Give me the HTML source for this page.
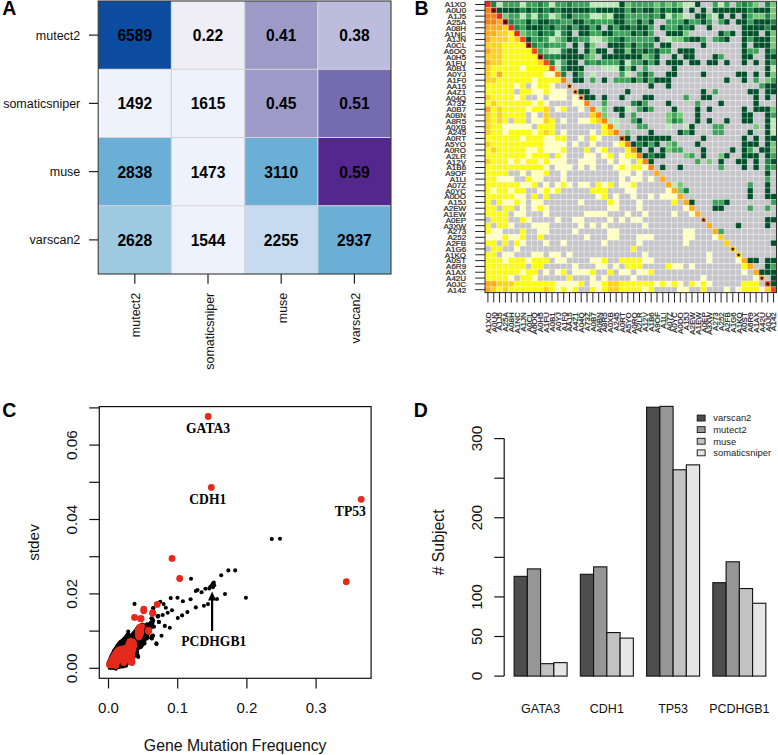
<!DOCTYPE html>
<html><head><meta charset="utf-8"><title>Figure</title>
<style>html,body{margin:0;padding:0;background:#fff;}body{width:778px;height:755px;overflow:hidden;}svg{display:block;}</style>
</head><body><svg width="778" height="755" viewBox="0 0 778 755"><rect x="98.20" y="1.00" width="73.20" height="68.25" fill="#0B4BA0"/><rect x="171.40" y="1.00" width="73.20" height="68.25" fill="#EFEDF5"/><rect x="244.60" y="1.00" width="73.20" height="68.25" fill="#9E9AC8"/><rect x="317.80" y="1.00" width="73.20" height="68.25" fill="#BCBDDC"/><rect x="98.20" y="69.25" width="73.20" height="68.25" fill="#EEF2FC"/><rect x="171.40" y="69.25" width="73.20" height="68.25" fill="#EEF2FC"/><rect x="244.60" y="69.25" width="73.20" height="68.25" fill="#9E9AC8"/><rect x="317.80" y="69.25" width="73.20" height="68.25" fill="#756BB1"/><rect x="98.20" y="137.50" width="73.20" height="68.25" fill="#6BAED6"/><rect x="171.40" y="137.50" width="73.20" height="68.25" fill="#EEF2FC"/><rect x="244.60" y="137.50" width="73.20" height="68.25" fill="#6BAED6"/><rect x="317.80" y="137.50" width="73.20" height="68.25" fill="#54278F"/><rect x="98.20" y="205.75" width="73.20" height="68.25" fill="#9ECAE1"/><rect x="171.40" y="205.75" width="73.20" height="68.25" fill="#EEF2FC"/><rect x="244.60" y="205.75" width="73.20" height="68.25" fill="#C6DBEF"/><rect x="317.80" y="205.75" width="73.20" height="68.25" fill="#6BAED6"/><line x1="171.40" y1="1.0" x2="171.40" y2="274.0" stroke="#D4D4D8" stroke-width="1.2"/><line x1="98.2" y1="69.25" x2="391.0" y2="69.25" stroke="#D4D4D8" stroke-width="1.2"/><line x1="244.60" y1="1.0" x2="244.60" y2="274.0" stroke="#D4D4D8" stroke-width="1.2"/><line x1="98.2" y1="137.50" x2="391.0" y2="137.50" stroke="#D4D4D8" stroke-width="1.2"/><line x1="317.80" y1="1.0" x2="317.80" y2="274.0" stroke="#D4D4D8" stroke-width="1.2"/><line x1="98.2" y1="205.75" x2="391.0" y2="205.75" stroke="#D4D4D8" stroke-width="1.2"/><rect x="98.2" y="1.0" width="292.80" height="273.00" fill="none" stroke="#3a3a3a" stroke-width="1.1"/><text x="134.80" y="41.23" font-family='"Liberation Sans", sans-serif' font-weight="bold" font-size="15.6" text-anchor="middle" fill="#000">6589</text><text x="208.00" y="41.23" font-family='"Liberation Sans", sans-serif' font-weight="bold" font-size="15.6" text-anchor="middle" fill="#000">0.22</text><text x="281.20" y="41.23" font-family='"Liberation Sans", sans-serif' font-weight="bold" font-size="15.6" text-anchor="middle" fill="#000">0.41</text><text x="354.40" y="41.23" font-family='"Liberation Sans", sans-serif' font-weight="bold" font-size="15.6" text-anchor="middle" fill="#000">0.38</text><text x="134.80" y="109.47" font-family='"Liberation Sans", sans-serif' font-weight="bold" font-size="15.6" text-anchor="middle" fill="#000">1492</text><text x="208.00" y="109.47" font-family='"Liberation Sans", sans-serif' font-weight="bold" font-size="15.6" text-anchor="middle" fill="#000">1615</text><text x="281.20" y="109.47" font-family='"Liberation Sans", sans-serif' font-weight="bold" font-size="15.6" text-anchor="middle" fill="#000">0.45</text><text x="354.40" y="109.47" font-family='"Liberation Sans", sans-serif' font-weight="bold" font-size="15.6" text-anchor="middle" fill="#000">0.51</text><text x="134.80" y="177.72" font-family='"Liberation Sans", sans-serif' font-weight="bold" font-size="15.6" text-anchor="middle" fill="#000">2838</text><text x="208.00" y="177.72" font-family='"Liberation Sans", sans-serif' font-weight="bold" font-size="15.6" text-anchor="middle" fill="#000">1473</text><text x="281.20" y="177.72" font-family='"Liberation Sans", sans-serif' font-weight="bold" font-size="15.6" text-anchor="middle" fill="#000">3110</text><text x="354.40" y="177.72" font-family='"Liberation Sans", sans-serif' font-weight="bold" font-size="15.6" text-anchor="middle" fill="#000">0.59</text><text x="134.80" y="245.97" font-family='"Liberation Sans", sans-serif' font-weight="bold" font-size="15.6" text-anchor="middle" fill="#000">2628</text><text x="208.00" y="245.97" font-family='"Liberation Sans", sans-serif' font-weight="bold" font-size="15.6" text-anchor="middle" fill="#000">1544</text><text x="281.20" y="245.97" font-family='"Liberation Sans", sans-serif' font-weight="bold" font-size="15.6" text-anchor="middle" fill="#000">2255</text><text x="354.40" y="245.97" font-family='"Liberation Sans", sans-serif' font-weight="bold" font-size="15.6" text-anchor="middle" fill="#000">2937</text><line x1="89" y1="35.12" x2="98.2" y2="35.12" stroke="#222" stroke-width="1.2"/><text x="80.3" y="39.62" font-family='"Liberation Sans", sans-serif' font-size="12.5" text-anchor="end" fill="#111">mutect2</text><line x1="134.80" y1="274.0" x2="134.80" y2="283.7" stroke="#222" stroke-width="1.2"/><text transform="translate(140.40,292.7) rotate(-90)" font-family='"Liberation Sans", sans-serif' font-size="12.5" text-anchor="end" fill="#111">mutect2</text><line x1="89" y1="103.38" x2="98.2" y2="103.38" stroke="#222" stroke-width="1.2"/><text x="80.3" y="107.88" font-family='"Liberation Sans", sans-serif' font-size="12.5" text-anchor="end" fill="#111">somaticsniper</text><line x1="208.00" y1="274.0" x2="208.00" y2="283.7" stroke="#222" stroke-width="1.2"/><text transform="translate(213.60,292.7) rotate(-90)" font-family='"Liberation Sans", sans-serif' font-size="12.5" text-anchor="end" fill="#111">somaticsniper</text><line x1="89" y1="171.62" x2="98.2" y2="171.62" stroke="#222" stroke-width="1.2"/><text x="80.3" y="176.12" font-family='"Liberation Sans", sans-serif' font-size="12.5" text-anchor="end" fill="#111">muse</text><line x1="281.20" y1="274.0" x2="281.20" y2="283.7" stroke="#222" stroke-width="1.2"/><text transform="translate(286.80,292.7) rotate(-90)" font-family='"Liberation Sans", sans-serif' font-size="12.5" text-anchor="end" fill="#111">muse</text><line x1="89" y1="239.88" x2="98.2" y2="239.88" stroke="#222" stroke-width="1.2"/><text x="80.3" y="244.38" font-family='"Liberation Sans", sans-serif' font-size="12.5" text-anchor="end" fill="#111">varscan2</text><line x1="354.40" y1="274.0" x2="354.40" y2="283.7" stroke="#222" stroke-width="1.2"/><text transform="translate(360.00,292.7) rotate(-90)" font-family='"Liberation Sans", sans-serif' font-size="12.5" text-anchor="end" fill="#111">varscan2</text><rect x="485.0" y="1.6" width="291.50" height="291.00" fill="#fff"/><rect x="485.00" y="1.60" width="5.85" height="5.84" fill="#E6281A"/><rect x="490.83" y="1.60" width="5.85" height="5.84" fill="#1E8443"/><rect x="496.66" y="1.60" width="5.85" height="5.84" fill="#BFE6B8"/><rect x="502.49" y="1.60" width="5.85" height="5.84" fill="#3DA35A"/><rect x="508.32" y="1.60" width="5.85" height="5.84" fill="#3DA35A"/><rect x="514.15" y="1.60" width="5.85" height="5.84" fill="#3DA35A"/><rect x="519.98" y="1.60" width="5.85" height="5.84" fill="#BFE6B8"/><rect x="525.81" y="1.60" width="5.85" height="5.84" fill="#3DA35A"/><rect x="531.64" y="1.60" width="5.85" height="5.84" fill="#3DA35A"/><rect x="537.47" y="1.60" width="5.85" height="5.84" fill="#1E8443"/><rect x="543.30" y="1.60" width="5.85" height="5.84" fill="#3DA35A"/><rect x="549.13" y="1.60" width="5.85" height="5.84" fill="#BFE6B8"/><rect x="554.96" y="1.60" width="5.85" height="5.84" fill="#3DA35A"/><rect x="560.79" y="1.60" width="5.85" height="5.84" fill="#3DA35A"/><rect x="566.62" y="1.60" width="5.85" height="5.84" fill="#1E8443"/><rect x="572.45" y="1.60" width="5.85" height="5.84" fill="#3DA35A"/><rect x="578.28" y="1.60" width="5.85" height="5.84" fill="#3DA35A"/><rect x="584.11" y="1.60" width="5.85" height="5.84" fill="#3DA35A"/><rect x="589.94" y="1.60" width="5.85" height="5.84" fill="#BFE6B8"/><rect x="595.77" y="1.60" width="5.85" height="5.84" fill="#BFE6B8"/><rect x="601.60" y="1.60" width="5.85" height="5.84" fill="#BFE6B8"/><rect x="607.43" y="1.60" width="5.85" height="5.84" fill="#BFE6B8"/><rect x="613.26" y="1.60" width="5.85" height="5.84" fill="#BFE6B8"/><rect x="619.09" y="1.60" width="5.85" height="5.84" fill="#00502A"/><rect x="624.92" y="1.60" width="5.85" height="5.84" fill="#78C679"/><rect x="630.75" y="1.60" width="5.85" height="5.84" fill="#3DA35A"/><rect x="636.58" y="1.60" width="5.85" height="5.84" fill="#3DA35A"/><rect x="642.41" y="1.60" width="5.85" height="5.84" fill="#3DA35A"/><rect x="648.24" y="1.60" width="5.85" height="5.84" fill="#3DA35A"/><rect x="654.07" y="1.60" width="5.85" height="5.84" fill="#78C679"/><rect x="659.90" y="1.60" width="5.85" height="5.84" fill="#3DA35A"/><rect x="665.73" y="1.60" width="5.85" height="5.84" fill="#78C679"/><rect x="671.56" y="1.60" width="5.85" height="5.84" fill="#3DA35A"/><rect x="677.39" y="1.60" width="5.85" height="5.84" fill="#78C679"/><rect x="683.22" y="1.60" width="5.85" height="5.84" fill="#BFE6B8"/><rect x="689.05" y="1.60" width="5.85" height="5.84" fill="#BFE6B8"/><rect x="694.88" y="1.60" width="5.85" height="5.84" fill="#00502A"/><rect x="700.71" y="1.60" width="5.85" height="5.84" fill="#C6C5C9"/><rect x="706.54" y="1.60" width="5.85" height="5.84" fill="#C6C5C9"/><rect x="712.37" y="1.60" width="5.85" height="5.84" fill="#3DA35A"/><rect x="718.20" y="1.60" width="5.85" height="5.84" fill="#BFE6B8"/><rect x="724.03" y="1.60" width="5.85" height="5.84" fill="#3DA35A"/><rect x="729.86" y="1.60" width="5.85" height="5.84" fill="#C6C5C9"/><rect x="735.69" y="1.60" width="5.85" height="5.84" fill="#3DA35A"/><rect x="741.52" y="1.60" width="5.85" height="5.84" fill="#1E8443"/><rect x="747.35" y="1.60" width="5.85" height="5.84" fill="#3DA35A"/><rect x="753.18" y="1.60" width="5.85" height="5.84" fill="#78C679"/><rect x="759.01" y="1.60" width="5.85" height="5.84" fill="#C6C5C9"/><rect x="764.84" y="1.60" width="5.85" height="5.84" fill="#1E8443"/><rect x="770.67" y="1.60" width="5.85" height="5.84" fill="#78C679"/><rect x="485.00" y="7.42" width="5.85" height="5.84" fill="#F7820F"/><rect x="490.83" y="7.42" width="5.85" height="5.84" fill="#B01A10"/><rect x="496.66" y="7.42" width="5.85" height="5.84" fill="#00502A"/><rect x="502.49" y="7.42" width="5.85" height="5.84" fill="#00502A"/><rect x="508.32" y="7.42" width="5.85" height="5.84" fill="#00502A"/><rect x="514.15" y="7.42" width="5.85" height="5.84" fill="#00502A"/><rect x="519.98" y="7.42" width="5.85" height="5.84" fill="#1E8443"/><rect x="525.81" y="7.42" width="5.85" height="5.84" fill="#00502A"/><rect x="531.64" y="7.42" width="5.85" height="5.84" fill="#1E8443"/><rect x="537.47" y="7.42" width="5.85" height="5.84" fill="#00502A"/><rect x="543.30" y="7.42" width="5.85" height="5.84" fill="#1E8443"/><rect x="549.13" y="7.42" width="5.85" height="5.84" fill="#00502A"/><rect x="554.96" y="7.42" width="5.85" height="5.84" fill="#1E8443"/><rect x="560.79" y="7.42" width="5.85" height="5.84" fill="#00502A"/><rect x="566.62" y="7.42" width="5.85" height="5.84" fill="#00502A"/><rect x="572.45" y="7.42" width="5.85" height="5.84" fill="#00502A"/><rect x="578.28" y="7.42" width="5.85" height="5.84" fill="#00502A"/><rect x="584.11" y="7.42" width="5.85" height="5.84" fill="#00502A"/><rect x="589.94" y="7.42" width="5.85" height="5.84" fill="#1E8443"/><rect x="595.77" y="7.42" width="5.85" height="5.84" fill="#00502A"/><rect x="601.60" y="7.42" width="5.85" height="5.84" fill="#00502A"/><rect x="607.43" y="7.42" width="5.85" height="5.84" fill="#00502A"/><rect x="613.26" y="7.42" width="5.85" height="5.84" fill="#00502A"/><rect x="619.09" y="7.42" width="5.85" height="5.84" fill="#00502A"/><rect x="624.92" y="7.42" width="5.85" height="5.84" fill="#3DA35A"/><rect x="630.75" y="7.42" width="5.85" height="5.84" fill="#00502A"/><rect x="636.58" y="7.42" width="5.85" height="5.84" fill="#1E8443"/><rect x="642.41" y="7.42" width="5.85" height="5.84" fill="#00502A"/><rect x="648.24" y="7.42" width="5.85" height="5.84" fill="#00502A"/><rect x="654.07" y="7.42" width="5.85" height="5.84" fill="#3DA35A"/><rect x="659.90" y="7.42" width="5.85" height="5.84" fill="#00502A"/><rect x="665.73" y="7.42" width="5.85" height="5.84" fill="#1E8443"/><rect x="671.56" y="7.42" width="5.85" height="5.84" fill="#00502A"/><rect x="677.39" y="7.42" width="5.85" height="5.84" fill="#00502A"/><rect x="683.22" y="7.42" width="5.85" height="5.84" fill="#C6C5C9"/><rect x="689.05" y="7.42" width="5.85" height="5.84" fill="#00502A"/><rect x="694.88" y="7.42" width="5.85" height="5.84" fill="#C6C5C9"/><rect x="700.71" y="7.42" width="5.85" height="5.84" fill="#00502A"/><rect x="706.54" y="7.42" width="5.85" height="5.84" fill="#C6C5C9"/><rect x="712.37" y="7.42" width="5.85" height="5.84" fill="#00502A"/><rect x="718.20" y="7.42" width="5.85" height="5.84" fill="#00502A"/><rect x="724.03" y="7.42" width="5.85" height="5.84" fill="#00502A"/><rect x="729.86" y="7.42" width="5.85" height="5.84" fill="#00502A"/><rect x="735.69" y="7.42" width="5.85" height="5.84" fill="#00502A"/><rect x="741.52" y="7.42" width="5.85" height="5.84" fill="#00502A"/><rect x="747.35" y="7.42" width="5.85" height="5.84" fill="#1E8443"/><rect x="753.18" y="7.42" width="5.85" height="5.84" fill="#00502A"/><rect x="759.01" y="7.42" width="5.85" height="5.84" fill="#00502A"/><rect x="764.84" y="7.42" width="5.85" height="5.84" fill="#00502A"/><rect x="770.67" y="7.42" width="5.85" height="5.84" fill="#78C679"/><rect x="485.00" y="13.24" width="5.85" height="5.84" fill="#F7820F"/><rect x="490.83" y="13.24" width="5.85" height="5.84" fill="#F7820F"/><rect x="496.66" y="13.24" width="5.85" height="5.84" fill="#E6281A"/><rect x="502.49" y="13.24" width="5.85" height="5.84" fill="#78C679"/><rect x="508.32" y="13.24" width="5.85" height="5.84" fill="#3DA35A"/><rect x="514.15" y="13.24" width="5.85" height="5.84" fill="#3DA35A"/><rect x="519.98" y="13.24" width="5.85" height="5.84" fill="#BFE6B8"/><rect x="525.81" y="13.24" width="5.85" height="5.84" fill="#3DA35A"/><rect x="531.64" y="13.24" width="5.85" height="5.84" fill="#BFE6B8"/><rect x="537.47" y="13.24" width="5.85" height="5.84" fill="#1E8443"/><rect x="543.30" y="13.24" width="5.85" height="5.84" fill="#3DA35A"/><rect x="549.13" y="13.24" width="5.85" height="5.84" fill="#BFE6B8"/><rect x="554.96" y="13.24" width="5.85" height="5.84" fill="#78C679"/><rect x="560.79" y="13.24" width="5.85" height="5.84" fill="#1E8443"/><rect x="566.62" y="13.24" width="5.85" height="5.84" fill="#00502A"/><rect x="572.45" y="13.24" width="5.85" height="5.84" fill="#3DA35A"/><rect x="578.28" y="13.24" width="5.85" height="5.84" fill="#3DA35A"/><rect x="584.11" y="13.24" width="5.85" height="5.84" fill="#3DA35A"/><rect x="589.94" y="13.24" width="5.85" height="5.84" fill="#BFE6B8"/><rect x="595.77" y="13.24" width="5.85" height="5.84" fill="#BFE6B8"/><rect x="601.60" y="13.24" width="5.85" height="5.84" fill="#78C679"/><rect x="607.43" y="13.24" width="5.85" height="5.84" fill="#BFE6B8"/><rect x="613.26" y="13.24" width="5.85" height="5.84" fill="#00502A"/><rect x="619.09" y="13.24" width="5.85" height="5.84" fill="#00502A"/><rect x="624.92" y="13.24" width="5.85" height="5.84" fill="#3DA35A"/><rect x="630.75" y="13.24" width="5.85" height="5.84" fill="#3DA35A"/><rect x="636.58" y="13.24" width="5.85" height="5.84" fill="#3DA35A"/><rect x="642.41" y="13.24" width="5.85" height="5.84" fill="#3DA35A"/><rect x="648.24" y="13.24" width="5.85" height="5.84" fill="#1E8443"/><rect x="654.07" y="13.24" width="5.85" height="5.84" fill="#3DA35A"/><rect x="659.90" y="13.24" width="5.85" height="5.84" fill="#00502A"/><rect x="665.73" y="13.24" width="5.85" height="5.84" fill="#BFE6B8"/><rect x="671.56" y="13.24" width="5.85" height="5.84" fill="#3DA35A"/><rect x="677.39" y="13.24" width="5.85" height="5.84" fill="#78C679"/><rect x="683.22" y="13.24" width="5.85" height="5.84" fill="#BFE6B8"/><rect x="689.05" y="13.24" width="5.85" height="5.84" fill="#C6C5C9"/><rect x="694.88" y="13.24" width="5.85" height="5.84" fill="#00502A"/><rect x="700.71" y="13.24" width="5.85" height="5.84" fill="#00502A"/><rect x="706.54" y="13.24" width="5.85" height="5.84" fill="#78C679"/><rect x="712.37" y="13.24" width="5.85" height="5.84" fill="#BFE6B8"/><rect x="718.20" y="13.24" width="5.85" height="5.84" fill="#00502A"/><rect x="724.03" y="13.24" width="5.85" height="5.84" fill="#C6C5C9"/><rect x="729.86" y="13.24" width="5.85" height="5.84" fill="#00502A"/><rect x="735.69" y="13.24" width="5.85" height="5.84" fill="#C6C5C9"/><rect x="741.52" y="13.24" width="5.85" height="5.84" fill="#00502A"/><rect x="747.35" y="13.24" width="5.85" height="5.84" fill="#3DA35A"/><rect x="753.18" y="13.24" width="5.85" height="5.84" fill="#78C679"/><rect x="759.01" y="13.24" width="5.85" height="5.84" fill="#78C679"/><rect x="764.84" y="13.24" width="5.85" height="5.84" fill="#1E8443"/><rect x="770.67" y="13.24" width="5.85" height="5.84" fill="#78C679"/><rect x="485.00" y="19.06" width="5.85" height="5.84" fill="#F7820F"/><rect x="490.83" y="19.06" width="5.85" height="5.84" fill="#F7820F"/><rect x="496.66" y="19.06" width="5.85" height="5.84" fill="#FDAA1C"/><rect x="502.49" y="19.06" width="5.85" height="5.84" fill="#B01A10"/><rect x="508.32" y="19.06" width="5.85" height="5.84" fill="#1E8443"/><rect x="514.15" y="19.06" width="5.85" height="5.84" fill="#3DA35A"/><rect x="519.98" y="19.06" width="5.85" height="5.84" fill="#3DA35A"/><rect x="525.81" y="19.06" width="5.85" height="5.84" fill="#00502A"/><rect x="531.64" y="19.06" width="5.85" height="5.84" fill="#3DA35A"/><rect x="537.47" y="19.06" width="5.85" height="5.84" fill="#00502A"/><rect x="543.30" y="19.06" width="5.85" height="5.84" fill="#00502A"/><rect x="549.13" y="19.06" width="5.85" height="5.84" fill="#1E8443"/><rect x="554.96" y="19.06" width="5.85" height="5.84" fill="#1E8443"/><rect x="560.79" y="19.06" width="5.85" height="5.84" fill="#3DA35A"/><rect x="566.62" y="19.06" width="5.85" height="5.84" fill="#3DA35A"/><rect x="572.45" y="19.06" width="5.85" height="5.84" fill="#00502A"/><rect x="578.28" y="19.06" width="5.85" height="5.84" fill="#00502A"/><rect x="584.11" y="19.06" width="5.85" height="5.84" fill="#3DA35A"/><rect x="589.94" y="19.06" width="5.85" height="5.84" fill="#1E8443"/><rect x="595.77" y="19.06" width="5.85" height="5.84" fill="#3DA35A"/><rect x="601.60" y="19.06" width="5.85" height="5.84" fill="#3DA35A"/><rect x="607.43" y="19.06" width="5.85" height="5.84" fill="#3DA35A"/><rect x="613.26" y="19.06" width="5.85" height="5.84" fill="#00502A"/><rect x="619.09" y="19.06" width="5.85" height="5.84" fill="#00502A"/><rect x="624.92" y="19.06" width="5.85" height="5.84" fill="#3DA35A"/><rect x="630.75" y="19.06" width="5.85" height="5.84" fill="#3DA35A"/><rect x="636.58" y="19.06" width="5.85" height="5.84" fill="#00502A"/><rect x="642.41" y="19.06" width="5.85" height="5.84" fill="#3DA35A"/><rect x="648.24" y="19.06" width="5.85" height="5.84" fill="#00502A"/><rect x="654.07" y="19.06" width="5.85" height="5.84" fill="#C6C5C9"/><rect x="659.90" y="19.06" width="5.85" height="5.84" fill="#C6C5C9"/><rect x="665.73" y="19.06" width="5.85" height="5.84" fill="#3DA35A"/><rect x="671.56" y="19.06" width="5.85" height="5.84" fill="#3DA35A"/><rect x="677.39" y="19.06" width="5.85" height="5.84" fill="#3DA35A"/><rect x="683.22" y="19.06" width="5.85" height="5.84" fill="#00502A"/><rect x="689.05" y="19.06" width="5.85" height="5.84" fill="#3DA35A"/><rect x="694.88" y="19.06" width="5.85" height="5.84" fill="#3DA35A"/><rect x="700.71" y="19.06" width="5.85" height="5.84" fill="#00502A"/><rect x="706.54" y="19.06" width="5.85" height="5.84" fill="#3DA35A"/><rect x="712.37" y="19.06" width="5.85" height="5.84" fill="#C6C5C9"/><rect x="718.20" y="19.06" width="5.85" height="5.84" fill="#3DA35A"/><rect x="724.03" y="19.06" width="5.85" height="5.84" fill="#00502A"/><rect x="729.86" y="19.06" width="5.85" height="5.84" fill="#C6C5C9"/><rect x="735.69" y="19.06" width="5.85" height="5.84" fill="#00502A"/><rect x="741.52" y="19.06" width="5.85" height="5.84" fill="#00502A"/><rect x="747.35" y="19.06" width="5.85" height="5.84" fill="#3DA35A"/><rect x="753.18" y="19.06" width="5.85" height="5.84" fill="#00502A"/><rect x="759.01" y="19.06" width="5.85" height="5.84" fill="#00502A"/><rect x="764.84" y="19.06" width="5.85" height="5.84" fill="#00502A"/><rect x="770.67" y="19.06" width="5.85" height="5.84" fill="#1E8443"/><rect x="485.00" y="24.88" width="5.85" height="5.84" fill="#FDAA1C"/><rect x="490.83" y="24.88" width="5.85" height="5.84" fill="#FDAA1C"/><rect x="496.66" y="24.88" width="5.85" height="5.84" fill="#FDAA1C"/><rect x="502.49" y="24.88" width="5.85" height="5.84" fill="#FFD21A"/><rect x="508.32" y="24.88" width="5.85" height="5.84" fill="#E6281A"/><rect x="514.15" y="24.88" width="5.85" height="5.84" fill="#1E8443"/><rect x="519.98" y="24.88" width="5.85" height="5.84" fill="#3DA35A"/><rect x="525.81" y="24.88" width="5.85" height="5.84" fill="#00502A"/><rect x="531.64" y="24.88" width="5.85" height="5.84" fill="#00502A"/><rect x="537.47" y="24.88" width="5.85" height="5.84" fill="#00502A"/><rect x="543.30" y="24.88" width="5.85" height="5.84" fill="#1E8443"/><rect x="549.13" y="24.88" width="5.85" height="5.84" fill="#00502A"/><rect x="554.96" y="24.88" width="5.85" height="5.84" fill="#3DA35A"/><rect x="560.79" y="24.88" width="5.85" height="5.84" fill="#1E8443"/><rect x="566.62" y="24.88" width="5.85" height="5.84" fill="#00502A"/><rect x="572.45" y="24.88" width="5.85" height="5.84" fill="#3DA35A"/><rect x="578.28" y="24.88" width="5.85" height="5.84" fill="#00502A"/><rect x="584.11" y="24.88" width="5.85" height="5.84" fill="#00502A"/><rect x="589.94" y="24.88" width="5.85" height="5.84" fill="#3DA35A"/><rect x="595.77" y="24.88" width="5.85" height="5.84" fill="#00502A"/><rect x="601.60" y="24.88" width="5.85" height="5.84" fill="#C6C5C9"/><rect x="607.43" y="24.88" width="5.85" height="5.84" fill="#00502A"/><rect x="613.26" y="24.88" width="5.85" height="5.84" fill="#3DA35A"/><rect x="619.09" y="24.88" width="5.85" height="5.84" fill="#00502A"/><rect x="624.92" y="24.88" width="5.85" height="5.84" fill="#00502A"/><rect x="630.75" y="24.88" width="5.85" height="5.84" fill="#1E8443"/><rect x="636.58" y="24.88" width="5.85" height="5.84" fill="#00502A"/><rect x="642.41" y="24.88" width="5.85" height="5.84" fill="#00502A"/><rect x="648.24" y="24.88" width="5.85" height="5.84" fill="#3DA35A"/><rect x="654.07" y="24.88" width="5.85" height="5.84" fill="#C6C5C9"/><rect x="659.90" y="24.88" width="5.85" height="5.84" fill="#00502A"/><rect x="665.73" y="24.88" width="5.85" height="5.84" fill="#3DA35A"/><rect x="671.56" y="24.88" width="5.85" height="5.84" fill="#3DA35A"/><rect x="677.39" y="24.88" width="5.85" height="5.84" fill="#00502A"/><rect x="683.22" y="24.88" width="5.85" height="5.84" fill="#1E8443"/><rect x="689.05" y="24.88" width="5.85" height="5.84" fill="#00502A"/><rect x="694.88" y="24.88" width="5.85" height="5.84" fill="#C6C5C9"/><rect x="700.71" y="24.88" width="5.85" height="5.84" fill="#C6C5C9"/><rect x="706.54" y="24.88" width="5.85" height="5.84" fill="#00502A"/><rect x="712.37" y="24.88" width="5.85" height="5.84" fill="#C6C5C9"/><rect x="718.20" y="24.88" width="5.85" height="5.84" fill="#C6C5C9"/><rect x="724.03" y="24.88" width="5.85" height="5.84" fill="#C6C5C9"/><rect x="729.86" y="24.88" width="5.85" height="5.84" fill="#C6C5C9"/><rect x="735.69" y="24.88" width="5.85" height="5.84" fill="#C6C5C9"/><rect x="741.52" y="24.88" width="5.85" height="5.84" fill="#00502A"/><rect x="747.35" y="24.88" width="5.85" height="5.84" fill="#00502A"/><rect x="753.18" y="24.88" width="5.85" height="5.84" fill="#00502A"/><rect x="759.01" y="24.88" width="5.85" height="5.84" fill="#00502A"/><rect x="764.84" y="24.88" width="5.85" height="5.84" fill="#1E8443"/><rect x="770.67" y="24.88" width="5.85" height="5.84" fill="#00502A"/><rect x="485.00" y="30.70" width="5.85" height="5.84" fill="#FDAA1C"/><rect x="490.83" y="30.70" width="5.85" height="5.84" fill="#FDAA1C"/><rect x="496.66" y="30.70" width="5.85" height="5.84" fill="#FFD21A"/><rect x="502.49" y="30.70" width="5.85" height="5.84" fill="#FFD21A"/><rect x="508.32" y="30.70" width="5.85" height="5.84" fill="#FAFA12"/><rect x="514.15" y="30.70" width="5.85" height="5.84" fill="#E6281A"/><rect x="519.98" y="30.70" width="5.85" height="5.84" fill="#78C679"/><rect x="525.81" y="30.70" width="5.85" height="5.84" fill="#3DA35A"/><rect x="531.64" y="30.70" width="5.85" height="5.84" fill="#3DA35A"/><rect x="537.47" y="30.70" width="5.85" height="5.84" fill="#00502A"/><rect x="543.30" y="30.70" width="5.85" height="5.84" fill="#1E8443"/><rect x="549.13" y="30.70" width="5.85" height="5.84" fill="#1E8443"/><rect x="554.96" y="30.70" width="5.85" height="5.84" fill="#BFE6B8"/><rect x="560.79" y="30.70" width="5.85" height="5.84" fill="#1E8443"/><rect x="566.62" y="30.70" width="5.85" height="5.84" fill="#00502A"/><rect x="572.45" y="30.70" width="5.85" height="5.84" fill="#C6C5C9"/><rect x="578.28" y="30.70" width="5.85" height="5.84" fill="#00502A"/><rect x="584.11" y="30.70" width="5.85" height="5.84" fill="#00502A"/><rect x="589.94" y="30.70" width="5.85" height="5.84" fill="#3DA35A"/><rect x="595.77" y="30.70" width="5.85" height="5.84" fill="#3DA35A"/><rect x="601.60" y="30.70" width="5.85" height="5.84" fill="#00502A"/><rect x="607.43" y="30.70" width="5.85" height="5.84" fill="#00502A"/><rect x="613.26" y="30.70" width="5.85" height="5.84" fill="#3DA35A"/><rect x="619.09" y="30.70" width="5.85" height="5.84" fill="#3DA35A"/><rect x="624.92" y="30.70" width="5.85" height="5.84" fill="#3DA35A"/><rect x="630.75" y="30.70" width="5.85" height="5.84" fill="#00502A"/><rect x="636.58" y="30.70" width="5.85" height="5.84" fill="#1E8443"/><rect x="642.41" y="30.70" width="5.85" height="5.84" fill="#00502A"/><rect x="648.24" y="30.70" width="5.85" height="5.84" fill="#3DA35A"/><rect x="654.07" y="30.70" width="5.85" height="5.84" fill="#C6C5C9"/><rect x="659.90" y="30.70" width="5.85" height="5.84" fill="#C6C5C9"/><rect x="665.73" y="30.70" width="5.85" height="5.84" fill="#00502A"/><rect x="671.56" y="30.70" width="5.85" height="5.84" fill="#00502A"/><rect x="677.39" y="30.70" width="5.85" height="5.84" fill="#00502A"/><rect x="683.22" y="30.70" width="5.85" height="5.84" fill="#78C679"/><rect x="689.05" y="30.70" width="5.85" height="5.84" fill="#C6C5C9"/><rect x="694.88" y="30.70" width="5.85" height="5.84" fill="#C6C5C9"/><rect x="700.71" y="30.70" width="5.85" height="5.84" fill="#C6C5C9"/><rect x="706.54" y="30.70" width="5.85" height="5.84" fill="#C6C5C9"/><rect x="712.37" y="30.70" width="5.85" height="5.84" fill="#C6C5C9"/><rect x="718.20" y="30.70" width="5.85" height="5.84" fill="#00502A"/><rect x="724.03" y="30.70" width="5.85" height="5.84" fill="#3DA35A"/><rect x="729.86" y="30.70" width="5.85" height="5.84" fill="#00502A"/><rect x="735.69" y="30.70" width="5.85" height="5.84" fill="#C6C5C9"/><rect x="741.52" y="30.70" width="5.85" height="5.84" fill="#00502A"/><rect x="747.35" y="30.70" width="5.85" height="5.84" fill="#00502A"/><rect x="753.18" y="30.70" width="5.85" height="5.84" fill="#00502A"/><rect x="759.01" y="30.70" width="5.85" height="5.84" fill="#C6C5C9"/><rect x="764.84" y="30.70" width="5.85" height="5.84" fill="#00502A"/><rect x="770.67" y="30.70" width="5.85" height="5.84" fill="#78C679"/><rect x="485.00" y="36.52" width="5.85" height="5.84" fill="#FDAA1C"/><rect x="490.83" y="36.52" width="5.85" height="5.84" fill="#FFD21A"/><rect x="496.66" y="36.52" width="5.85" height="5.84" fill="#FFD21A"/><rect x="502.49" y="36.52" width="5.85" height="5.84" fill="#FFD21A"/><rect x="508.32" y="36.52" width="5.85" height="5.84" fill="#FAFA12"/><rect x="514.15" y="36.52" width="5.85" height="5.84" fill="#FFD21A"/><rect x="519.98" y="36.52" width="5.85" height="5.84" fill="#F04A14"/><rect x="525.81" y="36.52" width="5.85" height="5.84" fill="#00502A"/><rect x="531.64" y="36.52" width="5.85" height="5.84" fill="#3DA35A"/><rect x="537.47" y="36.52" width="5.85" height="5.84" fill="#1E8443"/><rect x="543.30" y="36.52" width="5.85" height="5.84" fill="#3DA35A"/><rect x="549.13" y="36.52" width="5.85" height="5.84" fill="#BFE6B8"/><rect x="554.96" y="36.52" width="5.85" height="5.84" fill="#78C679"/><rect x="560.79" y="36.52" width="5.85" height="5.84" fill="#3DA35A"/><rect x="566.62" y="36.52" width="5.85" height="5.84" fill="#00502A"/><rect x="572.45" y="36.52" width="5.85" height="5.84" fill="#1E8443"/><rect x="578.28" y="36.52" width="5.85" height="5.84" fill="#3DA35A"/><rect x="584.11" y="36.52" width="5.85" height="5.84" fill="#3DA35A"/><rect x="589.94" y="36.52" width="5.85" height="5.84" fill="#BFE6B8"/><rect x="595.77" y="36.52" width="5.85" height="5.84" fill="#BFE6B8"/><rect x="601.60" y="36.52" width="5.85" height="5.84" fill="#78C679"/><rect x="607.43" y="36.52" width="5.85" height="5.84" fill="#3DA35A"/><rect x="613.26" y="36.52" width="5.85" height="5.84" fill="#1E8443"/><rect x="619.09" y="36.52" width="5.85" height="5.84" fill="#00502A"/><rect x="624.92" y="36.52" width="5.85" height="5.84" fill="#3DA35A"/><rect x="630.75" y="36.52" width="5.85" height="5.84" fill="#3DA35A"/><rect x="636.58" y="36.52" width="5.85" height="5.84" fill="#3DA35A"/><rect x="642.41" y="36.52" width="5.85" height="5.84" fill="#3DA35A"/><rect x="648.24" y="36.52" width="5.85" height="5.84" fill="#3DA35A"/><rect x="654.07" y="36.52" width="5.85" height="5.84" fill="#00502A"/><rect x="659.90" y="36.52" width="5.85" height="5.84" fill="#C6C5C9"/><rect x="665.73" y="36.52" width="5.85" height="5.84" fill="#BFE6B8"/><rect x="671.56" y="36.52" width="5.85" height="5.84" fill="#78C679"/><rect x="677.39" y="36.52" width="5.85" height="5.84" fill="#78C679"/><rect x="683.22" y="36.52" width="5.85" height="5.84" fill="#1E8443"/><rect x="689.05" y="36.52" width="5.85" height="5.84" fill="#00502A"/><rect x="694.88" y="36.52" width="5.85" height="5.84" fill="#00502A"/><rect x="700.71" y="36.52" width="5.85" height="5.84" fill="#3DA35A"/><rect x="706.54" y="36.52" width="5.85" height="5.84" fill="#C6C5C9"/><rect x="712.37" y="36.52" width="5.85" height="5.84" fill="#3DA35A"/><rect x="718.20" y="36.52" width="5.85" height="5.84" fill="#1E8443"/><rect x="724.03" y="36.52" width="5.85" height="5.84" fill="#00502A"/><rect x="729.86" y="36.52" width="5.85" height="5.84" fill="#C6C5C9"/><rect x="735.69" y="36.52" width="5.85" height="5.84" fill="#C6C5C9"/><rect x="741.52" y="36.52" width="5.85" height="5.84" fill="#00502A"/><rect x="747.35" y="36.52" width="5.85" height="5.84" fill="#3DA35A"/><rect x="753.18" y="36.52" width="5.85" height="5.84" fill="#00502A"/><rect x="759.01" y="36.52" width="5.85" height="5.84" fill="#00502A"/><rect x="764.84" y="36.52" width="5.85" height="5.84" fill="#00502A"/><rect x="770.67" y="36.52" width="5.85" height="5.84" fill="#78C679"/><rect x="485.00" y="42.34" width="5.85" height="5.84" fill="#FFD21A"/><rect x="490.83" y="42.34" width="5.85" height="5.84" fill="#FFD21A"/><rect x="496.66" y="42.34" width="5.85" height="5.84" fill="#FFD21A"/><rect x="502.49" y="42.34" width="5.85" height="5.84" fill="#FAFA12"/><rect x="508.32" y="42.34" width="5.85" height="5.84" fill="#FAFA12"/><rect x="514.15" y="42.34" width="5.85" height="5.84" fill="#FAFA12"/><rect x="519.98" y="42.34" width="5.85" height="5.84" fill="#FAFA12"/><rect x="525.81" y="42.34" width="5.85" height="5.84" fill="#B01A10"/><rect x="531.64" y="42.34" width="5.85" height="5.84" fill="#1E8443"/><rect x="537.47" y="42.34" width="5.85" height="5.84" fill="#3DA35A"/><rect x="543.30" y="42.34" width="5.85" height="5.84" fill="#1E8443"/><rect x="549.13" y="42.34" width="5.85" height="5.84" fill="#3DA35A"/><rect x="554.96" y="42.34" width="5.85" height="5.84" fill="#3DA35A"/><rect x="560.79" y="42.34" width="5.85" height="5.84" fill="#3DA35A"/><rect x="566.62" y="42.34" width="5.85" height="5.84" fill="#C6C5C9"/><rect x="572.45" y="42.34" width="5.85" height="5.84" fill="#00502A"/><rect x="578.28" y="42.34" width="5.85" height="5.84" fill="#C6C5C9"/><rect x="584.11" y="42.34" width="5.85" height="5.84" fill="#00502A"/><rect x="589.94" y="42.34" width="5.85" height="5.84" fill="#78C679"/><rect x="595.77" y="42.34" width="5.85" height="5.84" fill="#C6C5C9"/><rect x="601.60" y="42.34" width="5.85" height="5.84" fill="#C6C5C9"/><rect x="607.43" y="42.34" width="5.85" height="5.84" fill="#00502A"/><rect x="613.26" y="42.34" width="5.85" height="5.84" fill="#00502A"/><rect x="619.09" y="42.34" width="5.85" height="5.84" fill="#00502A"/><rect x="624.92" y="42.34" width="5.85" height="5.84" fill="#3DA35A"/><rect x="630.75" y="42.34" width="5.85" height="5.84" fill="#00502A"/><rect x="636.58" y="42.34" width="5.85" height="5.84" fill="#3DA35A"/><rect x="642.41" y="42.34" width="5.85" height="5.84" fill="#1E8443"/><rect x="648.24" y="42.34" width="5.85" height="5.84" fill="#1E8443"/><rect x="654.07" y="42.34" width="5.85" height="5.84" fill="#C6C5C9"/><rect x="659.90" y="42.34" width="5.85" height="5.84" fill="#00502A"/><rect x="665.73" y="42.34" width="5.85" height="5.84" fill="#00502A"/><rect x="671.56" y="42.34" width="5.85" height="5.84" fill="#C6C5C9"/><rect x="677.39" y="42.34" width="5.85" height="5.84" fill="#C6C5C9"/><rect x="683.22" y="42.34" width="5.85" height="5.84" fill="#C6C5C9"/><rect x="689.05" y="42.34" width="5.85" height="5.84" fill="#C6C5C9"/><rect x="694.88" y="42.34" width="5.85" height="5.84" fill="#C6C5C9"/><rect x="700.71" y="42.34" width="5.85" height="5.84" fill="#00502A"/><rect x="706.54" y="42.34" width="5.85" height="5.84" fill="#C6C5C9"/><rect x="712.37" y="42.34" width="5.85" height="5.84" fill="#C6C5C9"/><rect x="718.20" y="42.34" width="5.85" height="5.84" fill="#C6C5C9"/><rect x="724.03" y="42.34" width="5.85" height="5.84" fill="#C6C5C9"/><rect x="729.86" y="42.34" width="5.85" height="5.84" fill="#C6C5C9"/><rect x="735.69" y="42.34" width="5.85" height="5.84" fill="#C6C5C9"/><rect x="741.52" y="42.34" width="5.85" height="5.84" fill="#00502A"/><rect x="747.35" y="42.34" width="5.85" height="5.84" fill="#C6C5C9"/><rect x="753.18" y="42.34" width="5.85" height="5.84" fill="#00502A"/><rect x="759.01" y="42.34" width="5.85" height="5.84" fill="#00502A"/><rect x="764.84" y="42.34" width="5.85" height="5.84" fill="#00502A"/><rect x="770.67" y="42.34" width="5.85" height="5.84" fill="#78C679"/><rect x="485.00" y="48.16" width="5.85" height="5.84" fill="#FDAA1C"/><rect x="490.83" y="48.16" width="5.85" height="5.84" fill="#FFD21A"/><rect x="496.66" y="48.16" width="5.85" height="5.84" fill="#FFD21A"/><rect x="502.49" y="48.16" width="5.85" height="5.84" fill="#FAFA12"/><rect x="508.32" y="48.16" width="5.85" height="5.84" fill="#FAFA12"/><rect x="514.15" y="48.16" width="5.85" height="5.84" fill="#FAFA12"/><rect x="519.98" y="48.16" width="5.85" height="5.84" fill="#FAFA12"/><rect x="525.81" y="48.16" width="5.85" height="5.84" fill="#FAFA12"/><rect x="531.64" y="48.16" width="5.85" height="5.84" fill="#F04A14"/><rect x="537.47" y="48.16" width="5.85" height="5.84" fill="#3DA35A"/><rect x="543.30" y="48.16" width="5.85" height="5.84" fill="#78C679"/><rect x="549.13" y="48.16" width="5.85" height="5.84" fill="#BFE6B8"/><rect x="554.96" y="48.16" width="5.85" height="5.84" fill="#BFE6B8"/><rect x="560.79" y="48.16" width="5.85" height="5.84" fill="#1E8443"/><rect x="566.62" y="48.16" width="5.85" height="5.84" fill="#00502A"/><rect x="572.45" y="48.16" width="5.85" height="5.84" fill="#00502A"/><rect x="578.28" y="48.16" width="5.85" height="5.84" fill="#C6C5C9"/><rect x="584.11" y="48.16" width="5.85" height="5.84" fill="#00502A"/><rect x="589.94" y="48.16" width="5.85" height="5.84" fill="#78C679"/><rect x="595.77" y="48.16" width="5.85" height="5.84" fill="#00502A"/><rect x="601.60" y="48.16" width="5.85" height="5.84" fill="#00502A"/><rect x="607.43" y="48.16" width="5.85" height="5.84" fill="#C6C5C9"/><rect x="613.26" y="48.16" width="5.85" height="5.84" fill="#00502A"/><rect x="619.09" y="48.16" width="5.85" height="5.84" fill="#00502A"/><rect x="624.92" y="48.16" width="5.85" height="5.84" fill="#78C679"/><rect x="630.75" y="48.16" width="5.85" height="5.84" fill="#00502A"/><rect x="636.58" y="48.16" width="5.85" height="5.84" fill="#1E8443"/><rect x="642.41" y="48.16" width="5.85" height="5.84" fill="#00502A"/><rect x="648.24" y="48.16" width="5.85" height="5.84" fill="#1E8443"/><rect x="654.07" y="48.16" width="5.85" height="5.84" fill="#00502A"/><rect x="659.90" y="48.16" width="5.85" height="5.84" fill="#3DA35A"/><rect x="665.73" y="48.16" width="5.85" height="5.84" fill="#3DA35A"/><rect x="671.56" y="48.16" width="5.85" height="5.84" fill="#C6C5C9"/><rect x="677.39" y="48.16" width="5.85" height="5.84" fill="#00502A"/><rect x="683.22" y="48.16" width="5.85" height="5.84" fill="#00502A"/><rect x="689.05" y="48.16" width="5.85" height="5.84" fill="#00502A"/><rect x="694.88" y="48.16" width="5.85" height="5.84" fill="#C6C5C9"/><rect x="700.71" y="48.16" width="5.85" height="5.84" fill="#C6C5C9"/><rect x="706.54" y="48.16" width="5.85" height="5.84" fill="#C6C5C9"/><rect x="712.37" y="48.16" width="5.85" height="5.84" fill="#C6C5C9"/><rect x="718.20" y="48.16" width="5.85" height="5.84" fill="#C6C5C9"/><rect x="724.03" y="48.16" width="5.85" height="5.84" fill="#C6C5C9"/><rect x="729.86" y="48.16" width="5.85" height="5.84" fill="#C6C5C9"/><rect x="735.69" y="48.16" width="5.85" height="5.84" fill="#C6C5C9"/><rect x="741.52" y="48.16" width="5.85" height="5.84" fill="#00502A"/><rect x="747.35" y="48.16" width="5.85" height="5.84" fill="#3DA35A"/><rect x="753.18" y="48.16" width="5.85" height="5.84" fill="#3DA35A"/><rect x="759.01" y="48.16" width="5.85" height="5.84" fill="#C6C5C9"/><rect x="764.84" y="48.16" width="5.85" height="5.84" fill="#00502A"/><rect x="770.67" y="48.16" width="5.85" height="5.84" fill="#3DA35A"/><rect x="485.00" y="53.98" width="5.85" height="5.84" fill="#FFD21A"/><rect x="490.83" y="53.98" width="5.85" height="5.84" fill="#FFD21A"/><rect x="496.66" y="53.98" width="5.85" height="5.84" fill="#FFD21A"/><rect x="502.49" y="53.98" width="5.85" height="5.84" fill="#FAFA12"/><rect x="508.32" y="53.98" width="5.85" height="5.84" fill="#FAFA12"/><rect x="514.15" y="53.98" width="5.85" height="5.84" fill="#FAFA12"/><rect x="519.98" y="53.98" width="5.85" height="5.84" fill="#FAFA12"/><rect x="525.81" y="53.98" width="5.85" height="5.84" fill="#FAFA12"/><rect x="531.64" y="53.98" width="5.85" height="5.84" fill="#FAFA12"/><rect x="537.47" y="53.98" width="5.85" height="5.84" fill="#B01A10"/><rect x="543.30" y="53.98" width="5.85" height="5.84" fill="#1E8443"/><rect x="549.13" y="53.98" width="5.85" height="5.84" fill="#1E8443"/><rect x="554.96" y="53.98" width="5.85" height="5.84" fill="#1E8443"/><rect x="560.79" y="53.98" width="5.85" height="5.84" fill="#00502A"/><rect x="566.62" y="53.98" width="5.85" height="5.84" fill="#00502A"/><rect x="572.45" y="53.98" width="5.85" height="5.84" fill="#00502A"/><rect x="578.28" y="53.98" width="5.85" height="5.84" fill="#00502A"/><rect x="584.11" y="53.98" width="5.85" height="5.84" fill="#3DA35A"/><rect x="589.94" y="53.98" width="5.85" height="5.84" fill="#78C679"/><rect x="595.77" y="53.98" width="5.85" height="5.84" fill="#C6C5C9"/><rect x="601.60" y="53.98" width="5.85" height="5.84" fill="#00502A"/><rect x="607.43" y="53.98" width="5.85" height="5.84" fill="#00502A"/><rect x="613.26" y="53.98" width="5.85" height="5.84" fill="#00502A"/><rect x="619.09" y="53.98" width="5.85" height="5.84" fill="#00502A"/><rect x="624.92" y="53.98" width="5.85" height="5.84" fill="#00502A"/><rect x="630.75" y="53.98" width="5.85" height="5.84" fill="#00502A"/><rect x="636.58" y="53.98" width="5.85" height="5.84" fill="#00502A"/><rect x="642.41" y="53.98" width="5.85" height="5.84" fill="#78C679"/><rect x="648.24" y="53.98" width="5.85" height="5.84" fill="#3DA35A"/><rect x="654.07" y="53.98" width="5.85" height="5.84" fill="#00502A"/><rect x="659.90" y="53.98" width="5.85" height="5.84" fill="#C6C5C9"/><rect x="665.73" y="53.98" width="5.85" height="5.84" fill="#C6C5C9"/><rect x="671.56" y="53.98" width="5.85" height="5.84" fill="#00502A"/><rect x="677.39" y="53.98" width="5.85" height="5.84" fill="#C6C5C9"/><rect x="683.22" y="53.98" width="5.85" height="5.84" fill="#00502A"/><rect x="689.05" y="53.98" width="5.85" height="5.84" fill="#00502A"/><rect x="694.88" y="53.98" width="5.85" height="5.84" fill="#C6C5C9"/><rect x="700.71" y="53.98" width="5.85" height="5.84" fill="#C6C5C9"/><rect x="706.54" y="53.98" width="5.85" height="5.84" fill="#C6C5C9"/><rect x="712.37" y="53.98" width="5.85" height="5.84" fill="#00502A"/><rect x="718.20" y="53.98" width="5.85" height="5.84" fill="#3DA35A"/><rect x="724.03" y="53.98" width="5.85" height="5.84" fill="#C6C5C9"/><rect x="729.86" y="53.98" width="5.85" height="5.84" fill="#C6C5C9"/><rect x="735.69" y="53.98" width="5.85" height="5.84" fill="#C6C5C9"/><rect x="741.52" y="53.98" width="5.85" height="5.84" fill="#00502A"/><rect x="747.35" y="53.98" width="5.85" height="5.84" fill="#00502A"/><rect x="753.18" y="53.98" width="5.85" height="5.84" fill="#C6C5C9"/><rect x="759.01" y="53.98" width="5.85" height="5.84" fill="#C6C5C9"/><rect x="764.84" y="53.98" width="5.85" height="5.84" fill="#00502A"/><rect x="770.67" y="53.98" width="5.85" height="5.84" fill="#00502A"/><rect x="485.00" y="59.80" width="5.85" height="5.84" fill="#FDAA1C"/><rect x="490.83" y="59.80" width="5.85" height="5.84" fill="#FFD21A"/><rect x="496.66" y="59.80" width="5.85" height="5.84" fill="#FFD21A"/><rect x="502.49" y="59.80" width="5.85" height="5.84" fill="#FAFA12"/><rect x="508.32" y="59.80" width="5.85" height="5.84" fill="#FAFA12"/><rect x="514.15" y="59.80" width="5.85" height="5.84" fill="#FAFA12"/><rect x="519.98" y="59.80" width="5.85" height="5.84" fill="#FAFA12"/><rect x="525.81" y="59.80" width="5.85" height="5.84" fill="#FAFA12"/><rect x="531.64" y="59.80" width="5.85" height="5.84" fill="#FAFA12"/><rect x="537.47" y="59.80" width="5.85" height="5.84" fill="#FFD21A"/><rect x="543.30" y="59.80" width="5.85" height="5.84" fill="#F04A14"/><rect x="549.13" y="59.80" width="5.85" height="5.84" fill="#1E8443"/><rect x="554.96" y="59.80" width="5.85" height="5.84" fill="#BFE6B8"/><rect x="560.79" y="59.80" width="5.85" height="5.84" fill="#3DA35A"/><rect x="566.62" y="59.80" width="5.85" height="5.84" fill="#00502A"/><rect x="572.45" y="59.80" width="5.85" height="5.84" fill="#00502A"/><rect x="578.28" y="59.80" width="5.85" height="5.84" fill="#C6C5C9"/><rect x="584.11" y="59.80" width="5.85" height="5.84" fill="#1E8443"/><rect x="589.94" y="59.80" width="5.85" height="5.84" fill="#3DA35A"/><rect x="595.77" y="59.80" width="5.85" height="5.84" fill="#1E8443"/><rect x="601.60" y="59.80" width="5.85" height="5.84" fill="#3DA35A"/><rect x="607.43" y="59.80" width="5.85" height="5.84" fill="#3DA35A"/><rect x="613.26" y="59.80" width="5.85" height="5.84" fill="#3DA35A"/><rect x="619.09" y="59.80" width="5.85" height="5.84" fill="#00502A"/><rect x="624.92" y="59.80" width="5.85" height="5.84" fill="#BFE6B8"/><rect x="630.75" y="59.80" width="5.85" height="5.84" fill="#3DA35A"/><rect x="636.58" y="59.80" width="5.85" height="5.84" fill="#3DA35A"/><rect x="642.41" y="59.80" width="5.85" height="5.84" fill="#00502A"/><rect x="648.24" y="59.80" width="5.85" height="5.84" fill="#3DA35A"/><rect x="654.07" y="59.80" width="5.85" height="5.84" fill="#00502A"/><rect x="659.90" y="59.80" width="5.85" height="5.84" fill="#C6C5C9"/><rect x="665.73" y="59.80" width="5.85" height="5.84" fill="#00502A"/><rect x="671.56" y="59.80" width="5.85" height="5.84" fill="#00502A"/><rect x="677.39" y="59.80" width="5.85" height="5.84" fill="#00502A"/><rect x="683.22" y="59.80" width="5.85" height="5.84" fill="#C6C5C9"/><rect x="689.05" y="59.80" width="5.85" height="5.84" fill="#00502A"/><rect x="694.88" y="59.80" width="5.85" height="5.84" fill="#00502A"/><rect x="700.71" y="59.80" width="5.85" height="5.84" fill="#C6C5C9"/><rect x="706.54" y="59.80" width="5.85" height="5.84" fill="#00502A"/><rect x="712.37" y="59.80" width="5.85" height="5.84" fill="#00502A"/><rect x="718.20" y="59.80" width="5.85" height="5.84" fill="#C6C5C9"/><rect x="724.03" y="59.80" width="5.85" height="5.84" fill="#00502A"/><rect x="729.86" y="59.80" width="5.85" height="5.84" fill="#C6C5C9"/><rect x="735.69" y="59.80" width="5.85" height="5.84" fill="#C6C5C9"/><rect x="741.52" y="59.80" width="5.85" height="5.84" fill="#00502A"/><rect x="747.35" y="59.80" width="5.85" height="5.84" fill="#C6C5C9"/><rect x="753.18" y="59.80" width="5.85" height="5.84" fill="#00502A"/><rect x="759.01" y="59.80" width="5.85" height="5.84" fill="#C6C5C9"/><rect x="764.84" y="59.80" width="5.85" height="5.84" fill="#00502A"/><rect x="770.67" y="59.80" width="5.85" height="5.84" fill="#3DA35A"/><rect x="485.00" y="65.62" width="5.85" height="5.84" fill="#FFD21A"/><rect x="490.83" y="65.62" width="5.85" height="5.84" fill="#FAFA12"/><rect x="496.66" y="65.62" width="5.85" height="5.84" fill="#FAFA12"/><rect x="502.49" y="65.62" width="5.85" height="5.84" fill="#FAFA12"/><rect x="508.32" y="65.62" width="5.85" height="5.84" fill="#FAFA12"/><rect x="514.15" y="65.62" width="5.85" height="5.84" fill="#FAFA12"/><rect x="519.98" y="65.62" width="5.85" height="5.84" fill="#FFFFC0"/><rect x="525.81" y="65.62" width="5.85" height="5.84" fill="#FAFA12"/><rect x="531.64" y="65.62" width="5.85" height="5.84" fill="#FAFA12"/><rect x="537.47" y="65.62" width="5.85" height="5.84" fill="#FAFA12"/><rect x="543.30" y="65.62" width="5.85" height="5.84" fill="#FAFA12"/><rect x="549.13" y="65.62" width="5.85" height="5.84" fill="#F04A14"/><rect x="554.96" y="65.62" width="5.85" height="5.84" fill="#BFE6B8"/><rect x="560.79" y="65.62" width="5.85" height="5.84" fill="#1E8443"/><rect x="566.62" y="65.62" width="5.85" height="5.84" fill="#00502A"/><rect x="572.45" y="65.62" width="5.85" height="5.84" fill="#00502A"/><rect x="578.28" y="65.62" width="5.85" height="5.84" fill="#00502A"/><rect x="584.11" y="65.62" width="5.85" height="5.84" fill="#C6C5C9"/><rect x="589.94" y="65.62" width="5.85" height="5.84" fill="#C6C5C9"/><rect x="595.77" y="65.62" width="5.85" height="5.84" fill="#C6C5C9"/><rect x="601.60" y="65.62" width="5.85" height="5.84" fill="#BFE6B8"/><rect x="607.43" y="65.62" width="5.85" height="5.84" fill="#BFE6B8"/><rect x="613.26" y="65.62" width="5.85" height="5.84" fill="#BFE6B8"/><rect x="619.09" y="65.62" width="5.85" height="5.84" fill="#00502A"/><rect x="624.92" y="65.62" width="5.85" height="5.84" fill="#78C679"/><rect x="630.75" y="65.62" width="5.85" height="5.84" fill="#00502A"/><rect x="636.58" y="65.62" width="5.85" height="5.84" fill="#C6C5C9"/><rect x="642.41" y="65.62" width="5.85" height="5.84" fill="#3DA35A"/><rect x="648.24" y="65.62" width="5.85" height="5.84" fill="#C6C5C9"/><rect x="654.07" y="65.62" width="5.85" height="5.84" fill="#C6C5C9"/><rect x="659.90" y="65.62" width="5.85" height="5.84" fill="#C6C5C9"/><rect x="665.73" y="65.62" width="5.85" height="5.84" fill="#C6C5C9"/><rect x="671.56" y="65.62" width="5.85" height="5.84" fill="#00502A"/><rect x="677.39" y="65.62" width="5.85" height="5.84" fill="#C6C5C9"/><rect x="683.22" y="65.62" width="5.85" height="5.84" fill="#C6C5C9"/><rect x="689.05" y="65.62" width="5.85" height="5.84" fill="#C6C5C9"/><rect x="694.88" y="65.62" width="5.85" height="5.84" fill="#C6C5C9"/><rect x="700.71" y="65.62" width="5.85" height="5.84" fill="#C6C5C9"/><rect x="706.54" y="65.62" width="5.85" height="5.84" fill="#C6C5C9"/><rect x="712.37" y="65.62" width="5.85" height="5.84" fill="#C6C5C9"/><rect x="718.20" y="65.62" width="5.85" height="5.84" fill="#C6C5C9"/><rect x="724.03" y="65.62" width="5.85" height="5.84" fill="#C6C5C9"/><rect x="729.86" y="65.62" width="5.85" height="5.84" fill="#C6C5C9"/><rect x="735.69" y="65.62" width="5.85" height="5.84" fill="#C6C5C9"/><rect x="741.52" y="65.62" width="5.85" height="5.84" fill="#C6C5C9"/><rect x="747.35" y="65.62" width="5.85" height="5.84" fill="#C6C5C9"/><rect x="753.18" y="65.62" width="5.85" height="5.84" fill="#C6C5C9"/><rect x="759.01" y="65.62" width="5.85" height="5.84" fill="#C6C5C9"/><rect x="764.84" y="65.62" width="5.85" height="5.84" fill="#00502A"/><rect x="770.67" y="65.62" width="5.85" height="5.84" fill="#BFE6B8"/><rect x="485.00" y="71.44" width="5.85" height="5.84" fill="#FFD21A"/><rect x="490.83" y="71.44" width="5.85" height="5.84" fill="#FAFA12"/><rect x="496.66" y="71.44" width="5.85" height="5.84" fill="#FDAA1C"/><rect x="502.49" y="71.44" width="5.85" height="5.84" fill="#FAFA12"/><rect x="508.32" y="71.44" width="5.85" height="5.84" fill="#FAFA12"/><rect x="514.15" y="71.44" width="5.85" height="5.84" fill="#FAFA12"/><rect x="519.98" y="71.44" width="5.85" height="5.84" fill="#FAFA12"/><rect x="525.81" y="71.44" width="5.85" height="5.84" fill="#FAFA12"/><rect x="531.64" y="71.44" width="5.85" height="5.84" fill="#FAFA12"/><rect x="537.47" y="71.44" width="5.85" height="5.84" fill="#FAFA12"/><rect x="543.30" y="71.44" width="5.85" height="5.84" fill="#FFFFC0"/><rect x="549.13" y="71.44" width="5.85" height="5.84" fill="#FFFFC0"/><rect x="554.96" y="71.44" width="5.85" height="5.84" fill="#F7820F"/><rect x="560.79" y="71.44" width="5.85" height="5.84" fill="#1E8443"/><rect x="566.62" y="71.44" width="5.85" height="5.84" fill="#C6C5C9"/><rect x="572.45" y="71.44" width="5.85" height="5.84" fill="#00502A"/><rect x="578.28" y="71.44" width="5.85" height="5.84" fill="#3DA35A"/><rect x="584.11" y="71.44" width="5.85" height="5.84" fill="#C6C5C9"/><rect x="589.94" y="71.44" width="5.85" height="5.84" fill="#BFE6B8"/><rect x="595.77" y="71.44" width="5.85" height="5.84" fill="#C6C5C9"/><rect x="601.60" y="71.44" width="5.85" height="5.84" fill="#C6C5C9"/><rect x="607.43" y="71.44" width="5.85" height="5.84" fill="#C6C5C9"/><rect x="613.26" y="71.44" width="5.85" height="5.84" fill="#C6C5C9"/><rect x="619.09" y="71.44" width="5.85" height="5.84" fill="#3DA35A"/><rect x="624.92" y="71.44" width="5.85" height="5.84" fill="#BFE6B8"/><rect x="630.75" y="71.44" width="5.85" height="5.84" fill="#C6C5C9"/><rect x="636.58" y="71.44" width="5.85" height="5.84" fill="#3DA35A"/><rect x="642.41" y="71.44" width="5.85" height="5.84" fill="#00502A"/><rect x="648.24" y="71.44" width="5.85" height="5.84" fill="#3DA35A"/><rect x="654.07" y="71.44" width="5.85" height="5.84" fill="#C6C5C9"/><rect x="659.90" y="71.44" width="5.85" height="5.84" fill="#C6C5C9"/><rect x="665.73" y="71.44" width="5.85" height="5.84" fill="#00502A"/><rect x="671.56" y="71.44" width="5.85" height="5.84" fill="#00502A"/><rect x="677.39" y="71.44" width="5.85" height="5.84" fill="#C6C5C9"/><rect x="683.22" y="71.44" width="5.85" height="5.84" fill="#C6C5C9"/><rect x="689.05" y="71.44" width="5.85" height="5.84" fill="#C6C5C9"/><rect x="694.88" y="71.44" width="5.85" height="5.84" fill="#C6C5C9"/><rect x="700.71" y="71.44" width="5.85" height="5.84" fill="#00502A"/><rect x="706.54" y="71.44" width="5.85" height="5.84" fill="#C6C5C9"/><rect x="712.37" y="71.44" width="5.85" height="5.84" fill="#C6C5C9"/><rect x="718.20" y="71.44" width="5.85" height="5.84" fill="#C6C5C9"/><rect x="724.03" y="71.44" width="5.85" height="5.84" fill="#C6C5C9"/><rect x="729.86" y="71.44" width="5.85" height="5.84" fill="#C6C5C9"/><rect x="735.69" y="71.44" width="5.85" height="5.84" fill="#00502A"/><rect x="741.52" y="71.44" width="5.85" height="5.84" fill="#00502A"/><rect x="747.35" y="71.44" width="5.85" height="5.84" fill="#C6C5C9"/><rect x="753.18" y="71.44" width="5.85" height="5.84" fill="#00502A"/><rect x="759.01" y="71.44" width="5.85" height="5.84" fill="#C6C5C9"/><rect x="764.84" y="71.44" width="5.85" height="5.84" fill="#00502A"/><rect x="770.67" y="71.44" width="5.85" height="5.84" fill="#78C679"/><rect x="485.00" y="77.26" width="5.85" height="5.84" fill="#FFD21A"/><rect x="490.83" y="77.26" width="5.85" height="5.84" fill="#FFD21A"/><rect x="496.66" y="77.26" width="5.85" height="5.84" fill="#FAFA12"/><rect x="502.49" y="77.26" width="5.85" height="5.84" fill="#FAFA12"/><rect x="508.32" y="77.26" width="5.85" height="5.84" fill="#FAFA12"/><rect x="514.15" y="77.26" width="5.85" height="5.84" fill="#FAFA12"/><rect x="519.98" y="77.26" width="5.85" height="5.84" fill="#FAFA12"/><rect x="525.81" y="77.26" width="5.85" height="5.84" fill="#FAFA12"/><rect x="531.64" y="77.26" width="5.85" height="5.84" fill="#FFFFC0"/><rect x="537.47" y="77.26" width="5.85" height="5.84" fill="#FAFA12"/><rect x="543.30" y="77.26" width="5.85" height="5.84" fill="#FAFA12"/><rect x="549.13" y="77.26" width="5.85" height="5.84" fill="#FAFA12"/><rect x="554.96" y="77.26" width="5.85" height="5.84" fill="#FAFA12"/><rect x="560.79" y="77.26" width="5.85" height="5.84" fill="#F7820F"/><rect x="566.62" y="77.26" width="5.85" height="5.84" fill="#C6C5C9"/><rect x="572.45" y="77.26" width="5.85" height="5.84" fill="#00502A"/><rect x="578.28" y="77.26" width="5.85" height="5.84" fill="#00502A"/><rect x="584.11" y="77.26" width="5.85" height="5.84" fill="#C6C5C9"/><rect x="589.94" y="77.26" width="5.85" height="5.84" fill="#3DA35A"/><rect x="595.77" y="77.26" width="5.85" height="5.84" fill="#C6C5C9"/><rect x="601.60" y="77.26" width="5.85" height="5.84" fill="#00502A"/><rect x="607.43" y="77.26" width="5.85" height="5.84" fill="#C6C5C9"/><rect x="613.26" y="77.26" width="5.85" height="5.84" fill="#3DA35A"/><rect x="619.09" y="77.26" width="5.85" height="5.84" fill="#3DA35A"/><rect x="624.92" y="77.26" width="5.85" height="5.84" fill="#3DA35A"/><rect x="630.75" y="77.26" width="5.85" height="5.84" fill="#00502A"/><rect x="636.58" y="77.26" width="5.85" height="5.84" fill="#3DA35A"/><rect x="642.41" y="77.26" width="5.85" height="5.84" fill="#00502A"/><rect x="648.24" y="77.26" width="5.85" height="5.84" fill="#3DA35A"/><rect x="654.07" y="77.26" width="5.85" height="5.84" fill="#00502A"/><rect x="659.90" y="77.26" width="5.85" height="5.84" fill="#00502A"/><rect x="665.73" y="77.26" width="5.85" height="5.84" fill="#00502A"/><rect x="671.56" y="77.26" width="5.85" height="5.84" fill="#C6C5C9"/><rect x="677.39" y="77.26" width="5.85" height="5.84" fill="#C6C5C9"/><rect x="683.22" y="77.26" width="5.85" height="5.84" fill="#C6C5C9"/><rect x="689.05" y="77.26" width="5.85" height="5.84" fill="#C6C5C9"/><rect x="694.88" y="77.26" width="5.85" height="5.84" fill="#C6C5C9"/><rect x="700.71" y="77.26" width="5.85" height="5.84" fill="#C6C5C9"/><rect x="706.54" y="77.26" width="5.85" height="5.84" fill="#C6C5C9"/><rect x="712.37" y="77.26" width="5.85" height="5.84" fill="#C6C5C9"/><rect x="718.20" y="77.26" width="5.85" height="5.84" fill="#C6C5C9"/><rect x="724.03" y="77.26" width="5.85" height="5.84" fill="#00502A"/><rect x="729.86" y="77.26" width="5.85" height="5.84" fill="#C6C5C9"/><rect x="735.69" y="77.26" width="5.85" height="5.84" fill="#C6C5C9"/><rect x="741.52" y="77.26" width="5.85" height="5.84" fill="#00502A"/><rect x="747.35" y="77.26" width="5.85" height="5.84" fill="#C6C5C9"/><rect x="753.18" y="77.26" width="5.85" height="5.84" fill="#3DA35A"/><rect x="759.01" y="77.26" width="5.85" height="5.84" fill="#C6C5C9"/><rect x="764.84" y="77.26" width="5.85" height="5.84" fill="#78C679"/><rect x="770.67" y="77.26" width="5.85" height="5.84" fill="#3DA35A"/><rect x="485.00" y="83.08" width="5.85" height="5.84" fill="#FAFA12"/><rect x="490.83" y="83.08" width="5.85" height="5.84" fill="#FAFA12"/><rect x="496.66" y="83.08" width="5.85" height="5.84" fill="#FAFA12"/><rect x="502.49" y="83.08" width="5.85" height="5.84" fill="#FAFA12"/><rect x="508.32" y="83.08" width="5.85" height="5.84" fill="#FAFA12"/><rect x="514.15" y="83.08" width="5.85" height="5.84" fill="#FFFFC0"/><rect x="519.98" y="83.08" width="5.85" height="5.84" fill="#FAFA12"/><rect x="525.81" y="83.08" width="5.85" height="5.84" fill="#C6C5C9"/><rect x="531.64" y="83.08" width="5.85" height="5.84" fill="#FFFFC0"/><rect x="537.47" y="83.08" width="5.85" height="5.84" fill="#FAFA12"/><rect x="543.30" y="83.08" width="5.85" height="5.84" fill="#FAFA12"/><rect x="549.13" y="83.08" width="5.85" height="5.84" fill="#FFFFC0"/><rect x="554.96" y="83.08" width="5.85" height="5.84" fill="#C6C5C9"/><rect x="560.79" y="83.08" width="5.85" height="5.84" fill="#C6C5C9"/><rect x="566.62" y="83.08" width="5.85" height="5.84" fill="#F6A24A"/><rect x="572.45" y="83.08" width="5.85" height="5.84" fill="#C6C5C9"/><rect x="578.28" y="83.08" width="5.85" height="5.84" fill="#C6C5C9"/><rect x="584.11" y="83.08" width="5.85" height="5.84" fill="#C6C5C9"/><rect x="589.94" y="83.08" width="5.85" height="5.84" fill="#C6C5C9"/><rect x="595.77" y="83.08" width="5.85" height="5.84" fill="#C6C5C9"/><rect x="601.60" y="83.08" width="5.85" height="5.84" fill="#C6C5C9"/><rect x="607.43" y="83.08" width="5.85" height="5.84" fill="#C6C5C9"/><rect x="613.26" y="83.08" width="5.85" height="5.84" fill="#C6C5C9"/><rect x="619.09" y="83.08" width="5.85" height="5.84" fill="#C6C5C9"/><rect x="624.92" y="83.08" width="5.85" height="5.84" fill="#C6C5C9"/><rect x="630.75" y="83.08" width="5.85" height="5.84" fill="#C6C5C9"/><rect x="636.58" y="83.08" width="5.85" height="5.84" fill="#C6C5C9"/><rect x="642.41" y="83.08" width="5.85" height="5.84" fill="#C6C5C9"/><rect x="648.24" y="83.08" width="5.85" height="5.84" fill="#00502A"/><rect x="654.07" y="83.08" width="5.85" height="5.84" fill="#C6C5C9"/><rect x="659.90" y="83.08" width="5.85" height="5.84" fill="#C6C5C9"/><rect x="665.73" y="83.08" width="5.85" height="5.84" fill="#00502A"/><rect x="671.56" y="83.08" width="5.85" height="5.84" fill="#C6C5C9"/><rect x="677.39" y="83.08" width="5.85" height="5.84" fill="#C6C5C9"/><rect x="683.22" y="83.08" width="5.85" height="5.84" fill="#C6C5C9"/><rect x="689.05" y="83.08" width="5.85" height="5.84" fill="#C6C5C9"/><rect x="694.88" y="83.08" width="5.85" height="5.84" fill="#C6C5C9"/><rect x="700.71" y="83.08" width="5.85" height="5.84" fill="#C6C5C9"/><rect x="706.54" y="83.08" width="5.85" height="5.84" fill="#C6C5C9"/><rect x="712.37" y="83.08" width="5.85" height="5.84" fill="#C6C5C9"/><rect x="718.20" y="83.08" width="5.85" height="5.84" fill="#C6C5C9"/><rect x="724.03" y="83.08" width="5.85" height="5.84" fill="#C6C5C9"/><rect x="729.86" y="83.08" width="5.85" height="5.84" fill="#C6C5C9"/><rect x="735.69" y="83.08" width="5.85" height="5.84" fill="#C6C5C9"/><rect x="741.52" y="83.08" width="5.85" height="5.84" fill="#C6C5C9"/><rect x="747.35" y="83.08" width="5.85" height="5.84" fill="#C6C5C9"/><rect x="753.18" y="83.08" width="5.85" height="5.84" fill="#C6C5C9"/><rect x="759.01" y="83.08" width="5.85" height="5.84" fill="#3DA35A"/><rect x="764.84" y="83.08" width="5.85" height="5.84" fill="#00502A"/><rect x="770.67" y="83.08" width="5.85" height="5.84" fill="#00502A"/><rect x="485.00" y="88.90" width="5.85" height="5.84" fill="#FAFA12"/><rect x="490.83" y="88.90" width="5.85" height="5.84" fill="#FAFA12"/><rect x="496.66" y="88.90" width="5.85" height="5.84" fill="#FAFA12"/><rect x="502.49" y="88.90" width="5.85" height="5.84" fill="#FAFA12"/><rect x="508.32" y="88.90" width="5.85" height="5.84" fill="#FAFA12"/><rect x="514.15" y="88.90" width="5.85" height="5.84" fill="#C6C5C9"/><rect x="519.98" y="88.90" width="5.85" height="5.84" fill="#FAFA12"/><rect x="525.81" y="88.90" width="5.85" height="5.84" fill="#FAFA12"/><rect x="531.64" y="88.90" width="5.85" height="5.84" fill="#FFFFC0"/><rect x="537.47" y="88.90" width="5.85" height="5.84" fill="#FFFFC0"/><rect x="543.30" y="88.90" width="5.85" height="5.84" fill="#FAFA12"/><rect x="549.13" y="88.90" width="5.85" height="5.84" fill="#FFFFC0"/><rect x="554.96" y="88.90" width="5.85" height="5.84" fill="#FFFFC0"/><rect x="560.79" y="88.90" width="5.85" height="5.84" fill="#FFFFC0"/><rect x="566.62" y="88.90" width="5.85" height="5.84" fill="#C6C5C9"/><rect x="572.45" y="88.90" width="5.85" height="5.84" fill="#F6A24A"/><rect x="578.28" y="88.90" width="5.85" height="5.84" fill="#00502A"/><rect x="584.11" y="88.90" width="5.85" height="5.84" fill="#00502A"/><rect x="589.94" y="88.90" width="5.85" height="5.84" fill="#C6C5C9"/><rect x="595.77" y="88.90" width="5.85" height="5.84" fill="#C6C5C9"/><rect x="601.60" y="88.90" width="5.85" height="5.84" fill="#C6C5C9"/><rect x="607.43" y="88.90" width="5.85" height="5.84" fill="#C6C5C9"/><rect x="613.26" y="88.90" width="5.85" height="5.84" fill="#C6C5C9"/><rect x="619.09" y="88.90" width="5.85" height="5.84" fill="#C6C5C9"/><rect x="624.92" y="88.90" width="5.85" height="5.84" fill="#00502A"/><rect x="630.75" y="88.90" width="5.85" height="5.84" fill="#C6C5C9"/><rect x="636.58" y="88.90" width="5.85" height="5.84" fill="#C6C5C9"/><rect x="642.41" y="88.90" width="5.85" height="5.84" fill="#C6C5C9"/><rect x="648.24" y="88.90" width="5.85" height="5.84" fill="#C6C5C9"/><rect x="654.07" y="88.90" width="5.85" height="5.84" fill="#C6C5C9"/><rect x="659.90" y="88.90" width="5.85" height="5.84" fill="#C6C5C9"/><rect x="665.73" y="88.90" width="5.85" height="5.84" fill="#C6C5C9"/><rect x="671.56" y="88.90" width="5.85" height="5.84" fill="#C6C5C9"/><rect x="677.39" y="88.90" width="5.85" height="5.84" fill="#C6C5C9"/><rect x="683.22" y="88.90" width="5.85" height="5.84" fill="#C6C5C9"/><rect x="689.05" y="88.90" width="5.85" height="5.84" fill="#C6C5C9"/><rect x="694.88" y="88.90" width="5.85" height="5.84" fill="#C6C5C9"/><rect x="700.71" y="88.90" width="5.85" height="5.84" fill="#00502A"/><rect x="706.54" y="88.90" width="5.85" height="5.84" fill="#C6C5C9"/><rect x="712.37" y="88.90" width="5.85" height="5.84" fill="#3DA35A"/><rect x="718.20" y="88.90" width="5.85" height="5.84" fill="#C6C5C9"/><rect x="724.03" y="88.90" width="5.85" height="5.84" fill="#C6C5C9"/><rect x="729.86" y="88.90" width="5.85" height="5.84" fill="#C6C5C9"/><rect x="735.69" y="88.90" width="5.85" height="5.84" fill="#C6C5C9"/><rect x="741.52" y="88.90" width="5.85" height="5.84" fill="#C6C5C9"/><rect x="747.35" y="88.90" width="5.85" height="5.84" fill="#00502A"/><rect x="753.18" y="88.90" width="5.85" height="5.84" fill="#00502A"/><rect x="759.01" y="88.90" width="5.85" height="5.84" fill="#C6C5C9"/><rect x="764.84" y="88.90" width="5.85" height="5.84" fill="#00502A"/><rect x="770.67" y="88.90" width="5.85" height="5.84" fill="#00502A"/><rect x="485.00" y="94.72" width="5.85" height="5.84" fill="#FFD21A"/><rect x="490.83" y="94.72" width="5.85" height="5.84" fill="#FAFA12"/><rect x="496.66" y="94.72" width="5.85" height="5.84" fill="#FAFA12"/><rect x="502.49" y="94.72" width="5.85" height="5.84" fill="#FAFA12"/><rect x="508.32" y="94.72" width="5.85" height="5.84" fill="#FAFA12"/><rect x="514.15" y="94.72" width="5.85" height="5.84" fill="#FFFFC0"/><rect x="519.98" y="94.72" width="5.85" height="5.84" fill="#FAFA12"/><rect x="525.81" y="94.72" width="5.85" height="5.84" fill="#C6C5C9"/><rect x="531.64" y="94.72" width="5.85" height="5.84" fill="#C6C5C9"/><rect x="537.47" y="94.72" width="5.85" height="5.84" fill="#FFFFC0"/><rect x="543.30" y="94.72" width="5.85" height="5.84" fill="#C6C5C9"/><rect x="549.13" y="94.72" width="5.85" height="5.84" fill="#FFFFC0"/><rect x="554.96" y="94.72" width="5.85" height="5.84" fill="#FFFFC0"/><rect x="560.79" y="94.72" width="5.85" height="5.84" fill="#FFFFC0"/><rect x="566.62" y="94.72" width="5.85" height="5.84" fill="#C6C5C9"/><rect x="572.45" y="94.72" width="5.85" height="5.84" fill="#FFFFC0"/><rect x="578.28" y="94.72" width="5.85" height="5.84" fill="#F6A24A"/><rect x="584.11" y="94.72" width="5.85" height="5.84" fill="#00502A"/><rect x="589.94" y="94.72" width="5.85" height="5.84" fill="#00502A"/><rect x="595.77" y="94.72" width="5.85" height="5.84" fill="#C6C5C9"/><rect x="601.60" y="94.72" width="5.85" height="5.84" fill="#00502A"/><rect x="607.43" y="94.72" width="5.85" height="5.84" fill="#C6C5C9"/><rect x="613.26" y="94.72" width="5.85" height="5.84" fill="#C6C5C9"/><rect x="619.09" y="94.72" width="5.85" height="5.84" fill="#00502A"/><rect x="624.92" y="94.72" width="5.85" height="5.84" fill="#C6C5C9"/><rect x="630.75" y="94.72" width="5.85" height="5.84" fill="#C6C5C9"/><rect x="636.58" y="94.72" width="5.85" height="5.84" fill="#C6C5C9"/><rect x="642.41" y="94.72" width="5.85" height="5.84" fill="#00502A"/><rect x="648.24" y="94.72" width="5.85" height="5.84" fill="#00502A"/><rect x="654.07" y="94.72" width="5.85" height="5.84" fill="#C6C5C9"/><rect x="659.90" y="94.72" width="5.85" height="5.84" fill="#C6C5C9"/><rect x="665.73" y="94.72" width="5.85" height="5.84" fill="#C6C5C9"/><rect x="671.56" y="94.72" width="5.85" height="5.84" fill="#C6C5C9"/><rect x="677.39" y="94.72" width="5.85" height="5.84" fill="#C6C5C9"/><rect x="683.22" y="94.72" width="5.85" height="5.84" fill="#3DA35A"/><rect x="689.05" y="94.72" width="5.85" height="5.84" fill="#C6C5C9"/><rect x="694.88" y="94.72" width="5.85" height="5.84" fill="#C6C5C9"/><rect x="700.71" y="94.72" width="5.85" height="5.84" fill="#00502A"/><rect x="706.54" y="94.72" width="5.85" height="5.84" fill="#00502A"/><rect x="712.37" y="94.72" width="5.85" height="5.84" fill="#C6C5C9"/><rect x="718.20" y="94.72" width="5.85" height="5.84" fill="#C6C5C9"/><rect x="724.03" y="94.72" width="5.85" height="5.84" fill="#C6C5C9"/><rect x="729.86" y="94.72" width="5.85" height="5.84" fill="#C6C5C9"/><rect x="735.69" y="94.72" width="5.85" height="5.84" fill="#C6C5C9"/><rect x="741.52" y="94.72" width="5.85" height="5.84" fill="#C6C5C9"/><rect x="747.35" y="94.72" width="5.85" height="5.84" fill="#C6C5C9"/><rect x="753.18" y="94.72" width="5.85" height="5.84" fill="#00502A"/><rect x="759.01" y="94.72" width="5.85" height="5.84" fill="#C6C5C9"/><rect x="764.84" y="94.72" width="5.85" height="5.84" fill="#00502A"/><rect x="770.67" y="94.72" width="5.85" height="5.84" fill="#C6C5C9"/><rect x="485.00" y="100.54" width="5.85" height="5.84" fill="#FAFA12"/><rect x="490.83" y="100.54" width="5.85" height="5.84" fill="#FFD21A"/><rect x="496.66" y="100.54" width="5.85" height="5.84" fill="#FAFA12"/><rect x="502.49" y="100.54" width="5.85" height="5.84" fill="#FAFA12"/><rect x="508.32" y="100.54" width="5.85" height="5.84" fill="#FAFA12"/><rect x="514.15" y="100.54" width="5.85" height="5.84" fill="#FAFA12"/><rect x="519.98" y="100.54" width="5.85" height="5.84" fill="#FAFA12"/><rect x="525.81" y="100.54" width="5.85" height="5.84" fill="#FAFA12"/><rect x="531.64" y="100.54" width="5.85" height="5.84" fill="#FFFFC0"/><rect x="537.47" y="100.54" width="5.85" height="5.84" fill="#FAFA12"/><rect x="543.30" y="100.54" width="5.85" height="5.84" fill="#FFFFC0"/><rect x="549.13" y="100.54" width="5.85" height="5.84" fill="#C6C5C9"/><rect x="554.96" y="100.54" width="5.85" height="5.84" fill="#C6C5C9"/><rect x="560.79" y="100.54" width="5.85" height="5.84" fill="#C6C5C9"/><rect x="566.62" y="100.54" width="5.85" height="5.84" fill="#C6C5C9"/><rect x="572.45" y="100.54" width="5.85" height="5.84" fill="#FFFFC0"/><rect x="578.28" y="100.54" width="5.85" height="5.84" fill="#FFFFC0"/><rect x="584.11" y="100.54" width="5.85" height="5.84" fill="#F7820F"/><rect x="589.94" y="100.54" width="5.85" height="5.84" fill="#C6C5C9"/><rect x="595.77" y="100.54" width="5.85" height="5.84" fill="#C6C5C9"/><rect x="601.60" y="100.54" width="5.85" height="5.84" fill="#3DA35A"/><rect x="607.43" y="100.54" width="5.85" height="5.84" fill="#C6C5C9"/><rect x="613.26" y="100.54" width="5.85" height="5.84" fill="#C6C5C9"/><rect x="619.09" y="100.54" width="5.85" height="5.84" fill="#C6C5C9"/><rect x="624.92" y="100.54" width="5.85" height="5.84" fill="#C6C5C9"/><rect x="630.75" y="100.54" width="5.85" height="5.84" fill="#1E8443"/><rect x="636.58" y="100.54" width="5.85" height="5.84" fill="#00502A"/><rect x="642.41" y="100.54" width="5.85" height="5.84" fill="#3DA35A"/><rect x="648.24" y="100.54" width="5.85" height="5.84" fill="#C6C5C9"/><rect x="654.07" y="100.54" width="5.85" height="5.84" fill="#C6C5C9"/><rect x="659.90" y="100.54" width="5.85" height="5.84" fill="#C6C5C9"/><rect x="665.73" y="100.54" width="5.85" height="5.84" fill="#00502A"/><rect x="671.56" y="100.54" width="5.85" height="5.84" fill="#C6C5C9"/><rect x="677.39" y="100.54" width="5.85" height="5.84" fill="#C6C5C9"/><rect x="683.22" y="100.54" width="5.85" height="5.84" fill="#C6C5C9"/><rect x="689.05" y="100.54" width="5.85" height="5.84" fill="#C6C5C9"/><rect x="694.88" y="100.54" width="5.85" height="5.84" fill="#3DA35A"/><rect x="700.71" y="100.54" width="5.85" height="5.84" fill="#C6C5C9"/><rect x="706.54" y="100.54" width="5.85" height="5.84" fill="#C6C5C9"/><rect x="712.37" y="100.54" width="5.85" height="5.84" fill="#C6C5C9"/><rect x="718.20" y="100.54" width="5.85" height="5.84" fill="#00502A"/><rect x="724.03" y="100.54" width="5.85" height="5.84" fill="#C6C5C9"/><rect x="729.86" y="100.54" width="5.85" height="5.84" fill="#C6C5C9"/><rect x="735.69" y="100.54" width="5.85" height="5.84" fill="#C6C5C9"/><rect x="741.52" y="100.54" width="5.85" height="5.84" fill="#C6C5C9"/><rect x="747.35" y="100.54" width="5.85" height="5.84" fill="#C6C5C9"/><rect x="753.18" y="100.54" width="5.85" height="5.84" fill="#00502A"/><rect x="759.01" y="100.54" width="5.85" height="5.84" fill="#C6C5C9"/><rect x="764.84" y="100.54" width="5.85" height="5.84" fill="#C6C5C9"/><rect x="770.67" y="100.54" width="5.85" height="5.84" fill="#C6C5C9"/><rect x="485.00" y="106.36" width="5.85" height="5.84" fill="#FDAA1C"/><rect x="490.83" y="106.36" width="5.85" height="5.84" fill="#FAFA12"/><rect x="496.66" y="106.36" width="5.85" height="5.84" fill="#FFD21A"/><rect x="502.49" y="106.36" width="5.85" height="5.84" fill="#FAFA12"/><rect x="508.32" y="106.36" width="5.85" height="5.84" fill="#FAFA12"/><rect x="514.15" y="106.36" width="5.85" height="5.84" fill="#FAFA12"/><rect x="519.98" y="106.36" width="5.85" height="5.84" fill="#FAFA12"/><rect x="525.81" y="106.36" width="5.85" height="5.84" fill="#FFFFC0"/><rect x="531.64" y="106.36" width="5.85" height="5.84" fill="#FAFA12"/><rect x="537.47" y="106.36" width="5.85" height="5.84" fill="#FAFA12"/><rect x="543.30" y="106.36" width="5.85" height="5.84" fill="#FFD21A"/><rect x="549.13" y="106.36" width="5.85" height="5.84" fill="#C6C5C9"/><rect x="554.96" y="106.36" width="5.85" height="5.84" fill="#FFFFC0"/><rect x="560.79" y="106.36" width="5.85" height="5.84" fill="#FAFA12"/><rect x="566.62" y="106.36" width="5.85" height="5.84" fill="#C6C5C9"/><rect x="572.45" y="106.36" width="5.85" height="5.84" fill="#C6C5C9"/><rect x="578.28" y="106.36" width="5.85" height="5.84" fill="#FFFFC0"/><rect x="584.11" y="106.36" width="5.85" height="5.84" fill="#C6C5C9"/><rect x="589.94" y="106.36" width="5.85" height="5.84" fill="#F7820F"/><rect x="595.77" y="106.36" width="5.85" height="5.84" fill="#BFE6B8"/><rect x="601.60" y="106.36" width="5.85" height="5.84" fill="#78C679"/><rect x="607.43" y="106.36" width="5.85" height="5.84" fill="#C6C5C9"/><rect x="613.26" y="106.36" width="5.85" height="5.84" fill="#00502A"/><rect x="619.09" y="106.36" width="5.85" height="5.84" fill="#00502A"/><rect x="624.92" y="106.36" width="5.85" height="5.84" fill="#BFE6B8"/><rect x="630.75" y="106.36" width="5.85" height="5.84" fill="#C6C5C9"/><rect x="636.58" y="106.36" width="5.85" height="5.84" fill="#3DA35A"/><rect x="642.41" y="106.36" width="5.85" height="5.84" fill="#00502A"/><rect x="648.24" y="106.36" width="5.85" height="5.84" fill="#3DA35A"/><rect x="654.07" y="106.36" width="5.85" height="5.84" fill="#C6C5C9"/><rect x="659.90" y="106.36" width="5.85" height="5.84" fill="#C6C5C9"/><rect x="665.73" y="106.36" width="5.85" height="5.84" fill="#C6C5C9"/><rect x="671.56" y="106.36" width="5.85" height="5.84" fill="#00502A"/><rect x="677.39" y="106.36" width="5.85" height="5.84" fill="#C6C5C9"/><rect x="683.22" y="106.36" width="5.85" height="5.84" fill="#C6C5C9"/><rect x="689.05" y="106.36" width="5.85" height="5.84" fill="#C6C5C9"/><rect x="694.88" y="106.36" width="5.85" height="5.84" fill="#00502A"/><rect x="700.71" y="106.36" width="5.85" height="5.84" fill="#C6C5C9"/><rect x="706.54" y="106.36" width="5.85" height="5.84" fill="#00502A"/><rect x="712.37" y="106.36" width="5.85" height="5.84" fill="#C6C5C9"/><rect x="718.20" y="106.36" width="5.85" height="5.84" fill="#C6C5C9"/><rect x="724.03" y="106.36" width="5.85" height="5.84" fill="#C6C5C9"/><rect x="729.86" y="106.36" width="5.85" height="5.84" fill="#C6C5C9"/><rect x="735.69" y="106.36" width="5.85" height="5.84" fill="#C6C5C9"/><rect x="741.52" y="106.36" width="5.85" height="5.84" fill="#00502A"/><rect x="747.35" y="106.36" width="5.85" height="5.84" fill="#C6C5C9"/><rect x="753.18" y="106.36" width="5.85" height="5.84" fill="#00502A"/><rect x="759.01" y="106.36" width="5.85" height="5.84" fill="#00502A"/><rect x="764.84" y="106.36" width="5.85" height="5.84" fill="#00502A"/><rect x="770.67" y="106.36" width="5.85" height="5.84" fill="#78C679"/><rect x="485.00" y="112.18" width="5.85" height="5.84" fill="#FFD21A"/><rect x="490.83" y="112.18" width="5.85" height="5.84" fill="#FAFA12"/><rect x="496.66" y="112.18" width="5.85" height="5.84" fill="#FFD21A"/><rect x="502.49" y="112.18" width="5.85" height="5.84" fill="#FAFA12"/><rect x="508.32" y="112.18" width="5.85" height="5.84" fill="#FAFA12"/><rect x="514.15" y="112.18" width="5.85" height="5.84" fill="#FAFA12"/><rect x="519.98" y="112.18" width="5.85" height="5.84" fill="#FAFA12"/><rect x="525.81" y="112.18" width="5.85" height="5.84" fill="#C6C5C9"/><rect x="531.64" y="112.18" width="5.85" height="5.84" fill="#FFFFC0"/><rect x="537.47" y="112.18" width="5.85" height="5.84" fill="#C6C5C9"/><rect x="543.30" y="112.18" width="5.85" height="5.84" fill="#FFD21A"/><rect x="549.13" y="112.18" width="5.85" height="5.84" fill="#C6C5C9"/><rect x="554.96" y="112.18" width="5.85" height="5.84" fill="#C6C5C9"/><rect x="560.79" y="112.18" width="5.85" height="5.84" fill="#C6C5C9"/><rect x="566.62" y="112.18" width="5.85" height="5.84" fill="#C6C5C9"/><rect x="572.45" y="112.18" width="5.85" height="5.84" fill="#C6C5C9"/><rect x="578.28" y="112.18" width="5.85" height="5.84" fill="#C6C5C9"/><rect x="584.11" y="112.18" width="5.85" height="5.84" fill="#C6C5C9"/><rect x="589.94" y="112.18" width="5.85" height="5.84" fill="#FFD21A"/><rect x="595.77" y="112.18" width="5.85" height="5.84" fill="#F7820F"/><rect x="601.60" y="112.18" width="5.85" height="5.84" fill="#78C679"/><rect x="607.43" y="112.18" width="5.85" height="5.84" fill="#C6C5C9"/><rect x="613.26" y="112.18" width="5.85" height="5.84" fill="#C6C5C9"/><rect x="619.09" y="112.18" width="5.85" height="5.84" fill="#00502A"/><rect x="624.92" y="112.18" width="5.85" height="5.84" fill="#C6C5C9"/><rect x="630.75" y="112.18" width="5.85" height="5.84" fill="#3DA35A"/><rect x="636.58" y="112.18" width="5.85" height="5.84" fill="#C6C5C9"/><rect x="642.41" y="112.18" width="5.85" height="5.84" fill="#C6C5C9"/><rect x="648.24" y="112.18" width="5.85" height="5.84" fill="#C6C5C9"/><rect x="654.07" y="112.18" width="5.85" height="5.84" fill="#C6C5C9"/><rect x="659.90" y="112.18" width="5.85" height="5.84" fill="#C6C5C9"/><rect x="665.73" y="112.18" width="5.85" height="5.84" fill="#78C679"/><rect x="671.56" y="112.18" width="5.85" height="5.84" fill="#3DA35A"/><rect x="677.39" y="112.18" width="5.85" height="5.84" fill="#78C679"/><rect x="683.22" y="112.18" width="5.85" height="5.84" fill="#C6C5C9"/><rect x="689.05" y="112.18" width="5.85" height="5.84" fill="#C6C5C9"/><rect x="694.88" y="112.18" width="5.85" height="5.84" fill="#00502A"/><rect x="700.71" y="112.18" width="5.85" height="5.84" fill="#C6C5C9"/><rect x="706.54" y="112.18" width="5.85" height="5.84" fill="#C6C5C9"/><rect x="712.37" y="112.18" width="5.85" height="5.84" fill="#C6C5C9"/><rect x="718.20" y="112.18" width="5.85" height="5.84" fill="#C6C5C9"/><rect x="724.03" y="112.18" width="5.85" height="5.84" fill="#C6C5C9"/><rect x="729.86" y="112.18" width="5.85" height="5.84" fill="#C6C5C9"/><rect x="735.69" y="112.18" width="5.85" height="5.84" fill="#C6C5C9"/><rect x="741.52" y="112.18" width="5.85" height="5.84" fill="#00502A"/><rect x="747.35" y="112.18" width="5.85" height="5.84" fill="#00502A"/><rect x="753.18" y="112.18" width="5.85" height="5.84" fill="#C6C5C9"/><rect x="759.01" y="112.18" width="5.85" height="5.84" fill="#C6C5C9"/><rect x="764.84" y="112.18" width="5.85" height="5.84" fill="#00502A"/><rect x="770.67" y="112.18" width="5.85" height="5.84" fill="#3DA35A"/><rect x="485.00" y="118.00" width="5.85" height="5.84" fill="#FFD21A"/><rect x="490.83" y="118.00" width="5.85" height="5.84" fill="#FAFA12"/><rect x="496.66" y="118.00" width="5.85" height="5.84" fill="#FFD21A"/><rect x="502.49" y="118.00" width="5.85" height="5.84" fill="#FAFA12"/><rect x="508.32" y="118.00" width="5.85" height="5.84" fill="#C6C5C9"/><rect x="514.15" y="118.00" width="5.85" height="5.84" fill="#FAFA12"/><rect x="519.98" y="118.00" width="5.85" height="5.84" fill="#FAFA12"/><rect x="525.81" y="118.00" width="5.85" height="5.84" fill="#C6C5C9"/><rect x="531.64" y="118.00" width="5.85" height="5.84" fill="#FFFFC0"/><rect x="537.47" y="118.00" width="5.85" height="5.84" fill="#FFFFC0"/><rect x="543.30" y="118.00" width="5.85" height="5.84" fill="#FFD21A"/><rect x="549.13" y="118.00" width="5.85" height="5.84" fill="#FAFA12"/><rect x="554.96" y="118.00" width="5.85" height="5.84" fill="#C6C5C9"/><rect x="560.79" y="118.00" width="5.85" height="5.84" fill="#FFFFC0"/><rect x="566.62" y="118.00" width="5.85" height="5.84" fill="#C6C5C9"/><rect x="572.45" y="118.00" width="5.85" height="5.84" fill="#C6C5C9"/><rect x="578.28" y="118.00" width="5.85" height="5.84" fill="#FFFFC0"/><rect x="584.11" y="118.00" width="5.85" height="5.84" fill="#FFFFC0"/><rect x="589.94" y="118.00" width="5.85" height="5.84" fill="#FAFA12"/><rect x="595.77" y="118.00" width="5.85" height="5.84" fill="#FFD21A"/><rect x="601.60" y="118.00" width="5.85" height="5.84" fill="#F7820F"/><rect x="607.43" y="118.00" width="5.85" height="5.84" fill="#BFE6B8"/><rect x="613.26" y="118.00" width="5.85" height="5.84" fill="#BFE6B8"/><rect x="619.09" y="118.00" width="5.85" height="5.84" fill="#C6C5C9"/><rect x="624.92" y="118.00" width="5.85" height="5.84" fill="#C6C5C9"/><rect x="630.75" y="118.00" width="5.85" height="5.84" fill="#3DA35A"/><rect x="636.58" y="118.00" width="5.85" height="5.84" fill="#00502A"/><rect x="642.41" y="118.00" width="5.85" height="5.84" fill="#C6C5C9"/><rect x="648.24" y="118.00" width="5.85" height="5.84" fill="#C6C5C9"/><rect x="654.07" y="118.00" width="5.85" height="5.84" fill="#C6C5C9"/><rect x="659.90" y="118.00" width="5.85" height="5.84" fill="#C6C5C9"/><rect x="665.73" y="118.00" width="5.85" height="5.84" fill="#78C679"/><rect x="671.56" y="118.00" width="5.85" height="5.84" fill="#1E8443"/><rect x="677.39" y="118.00" width="5.85" height="5.84" fill="#3DA35A"/><rect x="683.22" y="118.00" width="5.85" height="5.84" fill="#C6C5C9"/><rect x="689.05" y="118.00" width="5.85" height="5.84" fill="#C6C5C9"/><rect x="694.88" y="118.00" width="5.85" height="5.84" fill="#00502A"/><rect x="700.71" y="118.00" width="5.85" height="5.84" fill="#C6C5C9"/><rect x="706.54" y="118.00" width="5.85" height="5.84" fill="#00502A"/><rect x="712.37" y="118.00" width="5.85" height="5.84" fill="#C6C5C9"/><rect x="718.20" y="118.00" width="5.85" height="5.84" fill="#C6C5C9"/><rect x="724.03" y="118.00" width="5.85" height="5.84" fill="#00502A"/><rect x="729.86" y="118.00" width="5.85" height="5.84" fill="#C6C5C9"/><rect x="735.69" y="118.00" width="5.85" height="5.84" fill="#C6C5C9"/><rect x="741.52" y="118.00" width="5.85" height="5.84" fill="#00502A"/><rect x="747.35" y="118.00" width="5.85" height="5.84" fill="#00502A"/><rect x="753.18" y="118.00" width="5.85" height="5.84" fill="#C6C5C9"/><rect x="759.01" y="118.00" width="5.85" height="5.84" fill="#C6C5C9"/><rect x="764.84" y="118.00" width="5.85" height="5.84" fill="#00502A"/><rect x="770.67" y="118.00" width="5.85" height="5.84" fill="#BFE6B8"/><rect x="485.00" y="123.82" width="5.85" height="5.84" fill="#FFD21A"/><rect x="490.83" y="123.82" width="5.85" height="5.84" fill="#FAFA12"/><rect x="496.66" y="123.82" width="5.85" height="5.84" fill="#FAFA12"/><rect x="502.49" y="123.82" width="5.85" height="5.84" fill="#FFFFC0"/><rect x="508.32" y="123.82" width="5.85" height="5.84" fill="#FFFFC0"/><rect x="514.15" y="123.82" width="5.85" height="5.84" fill="#FFFFC0"/><rect x="519.98" y="123.82" width="5.85" height="5.84" fill="#FFFFC0"/><rect x="525.81" y="123.82" width="5.85" height="5.84" fill="#FFFFC0"/><rect x="531.64" y="123.82" width="5.85" height="5.84" fill="#C6C5C9"/><rect x="537.47" y="123.82" width="5.85" height="5.84" fill="#FAFA12"/><rect x="543.30" y="123.82" width="5.85" height="5.84" fill="#FAFA12"/><rect x="549.13" y="123.82" width="5.85" height="5.84" fill="#FAFA12"/><rect x="554.96" y="123.82" width="5.85" height="5.84" fill="#C6C5C9"/><rect x="560.79" y="123.82" width="5.85" height="5.84" fill="#C6C5C9"/><rect x="566.62" y="123.82" width="5.85" height="5.84" fill="#C6C5C9"/><rect x="572.45" y="123.82" width="5.85" height="5.84" fill="#C6C5C9"/><rect x="578.28" y="123.82" width="5.85" height="5.84" fill="#C6C5C9"/><rect x="584.11" y="123.82" width="5.85" height="5.84" fill="#C6C5C9"/><rect x="589.94" y="123.82" width="5.85" height="5.84" fill="#C6C5C9"/><rect x="595.77" y="123.82" width="5.85" height="5.84" fill="#C6C5C9"/><rect x="601.60" y="123.82" width="5.85" height="5.84" fill="#FAFA12"/><rect x="607.43" y="123.82" width="5.85" height="5.84" fill="#F7820F"/><rect x="613.26" y="123.82" width="5.85" height="5.84" fill="#BFE6B8"/><rect x="619.09" y="123.82" width="5.85" height="5.84" fill="#C6C5C9"/><rect x="624.92" y="123.82" width="5.85" height="5.84" fill="#C6C5C9"/><rect x="630.75" y="123.82" width="5.85" height="5.84" fill="#C6C5C9"/><rect x="636.58" y="123.82" width="5.85" height="5.84" fill="#3DA35A"/><rect x="642.41" y="123.82" width="5.85" height="5.84" fill="#3DA35A"/><rect x="648.24" y="123.82" width="5.85" height="5.84" fill="#C6C5C9"/><rect x="654.07" y="123.82" width="5.85" height="5.84" fill="#C6C5C9"/><rect x="659.90" y="123.82" width="5.85" height="5.84" fill="#C6C5C9"/><rect x="665.73" y="123.82" width="5.85" height="5.84" fill="#BFE6B8"/><rect x="671.56" y="123.82" width="5.85" height="5.84" fill="#C6C5C9"/><rect x="677.39" y="123.82" width="5.85" height="5.84" fill="#C6C5C9"/><rect x="683.22" y="123.82" width="5.85" height="5.84" fill="#BFE6B8"/><rect x="689.05" y="123.82" width="5.85" height="5.84" fill="#00502A"/><rect x="694.88" y="123.82" width="5.85" height="5.84" fill="#C6C5C9"/><rect x="700.71" y="123.82" width="5.85" height="5.84" fill="#C6C5C9"/><rect x="706.54" y="123.82" width="5.85" height="5.84" fill="#C6C5C9"/><rect x="712.37" y="123.82" width="5.85" height="5.84" fill="#3DA35A"/><rect x="718.20" y="123.82" width="5.85" height="5.84" fill="#3DA35A"/><rect x="724.03" y="123.82" width="5.85" height="5.84" fill="#C6C5C9"/><rect x="729.86" y="123.82" width="5.85" height="5.84" fill="#C6C5C9"/><rect x="735.69" y="123.82" width="5.85" height="5.84" fill="#C6C5C9"/><rect x="741.52" y="123.82" width="5.85" height="5.84" fill="#C6C5C9"/><rect x="747.35" y="123.82" width="5.85" height="5.84" fill="#C6C5C9"/><rect x="753.18" y="123.82" width="5.85" height="5.84" fill="#78C679"/><rect x="759.01" y="123.82" width="5.85" height="5.84" fill="#C6C5C9"/><rect x="764.84" y="123.82" width="5.85" height="5.84" fill="#00502A"/><rect x="770.67" y="123.82" width="5.85" height="5.84" fill="#BFE6B8"/><rect x="485.00" y="129.64" width="5.85" height="5.84" fill="#FFD21A"/><rect x="490.83" y="129.64" width="5.85" height="5.84" fill="#FAFA12"/><rect x="496.66" y="129.64" width="5.85" height="5.84" fill="#FAFA12"/><rect x="502.49" y="129.64" width="5.85" height="5.84" fill="#FFFFC0"/><rect x="508.32" y="129.64" width="5.85" height="5.84" fill="#FAFA12"/><rect x="514.15" y="129.64" width="5.85" height="5.84" fill="#FAFA12"/><rect x="519.98" y="129.64" width="5.85" height="5.84" fill="#FAFA12"/><rect x="525.81" y="129.64" width="5.85" height="5.84" fill="#FAFA12"/><rect x="531.64" y="129.64" width="5.85" height="5.84" fill="#FFFFC0"/><rect x="537.47" y="129.64" width="5.85" height="5.84" fill="#FAFA12"/><rect x="543.30" y="129.64" width="5.85" height="5.84" fill="#FFD21A"/><rect x="549.13" y="129.64" width="5.85" height="5.84" fill="#FAFA12"/><rect x="554.96" y="129.64" width="5.85" height="5.84" fill="#C6C5C9"/><rect x="560.79" y="129.64" width="5.85" height="5.84" fill="#FFFFC0"/><rect x="566.62" y="129.64" width="5.85" height="5.84" fill="#C6C5C9"/><rect x="572.45" y="129.64" width="5.85" height="5.84" fill="#C6C5C9"/><rect x="578.28" y="129.64" width="5.85" height="5.84" fill="#C6C5C9"/><rect x="584.11" y="129.64" width="5.85" height="5.84" fill="#C6C5C9"/><rect x="589.94" y="129.64" width="5.85" height="5.84" fill="#FFFFC0"/><rect x="595.77" y="129.64" width="5.85" height="5.84" fill="#C6C5C9"/><rect x="601.60" y="129.64" width="5.85" height="5.84" fill="#FAFA12"/><rect x="607.43" y="129.64" width="5.85" height="5.84" fill="#FFD21A"/><rect x="613.26" y="129.64" width="5.85" height="5.84" fill="#F7820F"/><rect x="619.09" y="129.64" width="5.85" height="5.84" fill="#C6C5C9"/><rect x="624.92" y="129.64" width="5.85" height="5.84" fill="#78C679"/><rect x="630.75" y="129.64" width="5.85" height="5.84" fill="#C6C5C9"/><rect x="636.58" y="129.64" width="5.85" height="5.84" fill="#C6C5C9"/><rect x="642.41" y="129.64" width="5.85" height="5.84" fill="#C6C5C9"/><rect x="648.24" y="129.64" width="5.85" height="5.84" fill="#00502A"/><rect x="654.07" y="129.64" width="5.85" height="5.84" fill="#C6C5C9"/><rect x="659.90" y="129.64" width="5.85" height="5.84" fill="#C6C5C9"/><rect x="665.73" y="129.64" width="5.85" height="5.84" fill="#C6C5C9"/><rect x="671.56" y="129.64" width="5.85" height="5.84" fill="#C6C5C9"/><rect x="677.39" y="129.64" width="5.85" height="5.84" fill="#00502A"/><rect x="683.22" y="129.64" width="5.85" height="5.84" fill="#3DA35A"/><rect x="689.05" y="129.64" width="5.85" height="5.84" fill="#00502A"/><rect x="694.88" y="129.64" width="5.85" height="5.84" fill="#C6C5C9"/><rect x="700.71" y="129.64" width="5.85" height="5.84" fill="#C6C5C9"/><rect x="706.54" y="129.64" width="5.85" height="5.84" fill="#C6C5C9"/><rect x="712.37" y="129.64" width="5.85" height="5.84" fill="#3DA35A"/><rect x="718.20" y="129.64" width="5.85" height="5.84" fill="#3DA35A"/><rect x="724.03" y="129.64" width="5.85" height="5.84" fill="#C6C5C9"/><rect x="729.86" y="129.64" width="5.85" height="5.84" fill="#C6C5C9"/><rect x="735.69" y="129.64" width="5.85" height="5.84" fill="#C6C5C9"/><rect x="741.52" y="129.64" width="5.85" height="5.84" fill="#C6C5C9"/><rect x="747.35" y="129.64" width="5.85" height="5.84" fill="#00502A"/><rect x="753.18" y="129.64" width="5.85" height="5.84" fill="#C6C5C9"/><rect x="759.01" y="129.64" width="5.85" height="5.84" fill="#C6C5C9"/><rect x="764.84" y="129.64" width="5.85" height="5.84" fill="#00502A"/><rect x="770.67" y="129.64" width="5.85" height="5.84" fill="#BFE6B8"/><rect x="485.00" y="135.46" width="5.85" height="5.84" fill="#FAFA12"/><rect x="490.83" y="135.46" width="5.85" height="5.84" fill="#FAFA12"/><rect x="496.66" y="135.46" width="5.85" height="5.84" fill="#FAFA12"/><rect x="502.49" y="135.46" width="5.85" height="5.84" fill="#FAFA12"/><rect x="508.32" y="135.46" width="5.85" height="5.84" fill="#FAFA12"/><rect x="514.15" y="135.46" width="5.85" height="5.84" fill="#FAFA12"/><rect x="519.98" y="135.46" width="5.85" height="5.84" fill="#FFFFC0"/><rect x="525.81" y="135.46" width="5.85" height="5.84" fill="#FAFA12"/><rect x="531.64" y="135.46" width="5.85" height="5.84" fill="#FAFA12"/><rect x="537.47" y="135.46" width="5.85" height="5.84" fill="#FAFA12"/><rect x="543.30" y="135.46" width="5.85" height="5.84" fill="#FFFFC0"/><rect x="549.13" y="135.46" width="5.85" height="5.84" fill="#FFFFC0"/><rect x="554.96" y="135.46" width="5.85" height="5.84" fill="#FAFA12"/><rect x="560.79" y="135.46" width="5.85" height="5.84" fill="#FAFA12"/><rect x="566.62" y="135.46" width="5.85" height="5.84" fill="#C6C5C9"/><rect x="572.45" y="135.46" width="5.85" height="5.84" fill="#C6C5C9"/><rect x="578.28" y="135.46" width="5.85" height="5.84" fill="#FFFFC0"/><rect x="584.11" y="135.46" width="5.85" height="5.84" fill="#C6C5C9"/><rect x="589.94" y="135.46" width="5.85" height="5.84" fill="#FAFA12"/><rect x="595.77" y="135.46" width="5.85" height="5.84" fill="#FFFFC0"/><rect x="601.60" y="135.46" width="5.85" height="5.84" fill="#C6C5C9"/><rect x="607.43" y="135.46" width="5.85" height="5.84" fill="#C6C5C9"/><rect x="613.26" y="135.46" width="5.85" height="5.84" fill="#C6C5C9"/><rect x="619.09" y="135.46" width="5.85" height="5.84" fill="#D06A12"/><rect x="624.92" y="135.46" width="5.85" height="5.84" fill="#00502A"/><rect x="630.75" y="135.46" width="5.85" height="5.84" fill="#C6C5C9"/><rect x="636.58" y="135.46" width="5.85" height="5.84" fill="#00502A"/><rect x="642.41" y="135.46" width="5.85" height="5.84" fill="#00502A"/><rect x="648.24" y="135.46" width="5.85" height="5.84" fill="#00502A"/><rect x="654.07" y="135.46" width="5.85" height="5.84" fill="#00502A"/><rect x="659.90" y="135.46" width="5.85" height="5.84" fill="#00502A"/><rect x="665.73" y="135.46" width="5.85" height="5.84" fill="#00502A"/><rect x="671.56" y="135.46" width="5.85" height="5.84" fill="#C6C5C9"/><rect x="677.39" y="135.46" width="5.85" height="5.84" fill="#C6C5C9"/><rect x="683.22" y="135.46" width="5.85" height="5.84" fill="#C6C5C9"/><rect x="689.05" y="135.46" width="5.85" height="5.84" fill="#C6C5C9"/><rect x="694.88" y="135.46" width="5.85" height="5.84" fill="#C6C5C9"/><rect x="700.71" y="135.46" width="5.85" height="5.84" fill="#00502A"/><rect x="706.54" y="135.46" width="5.85" height="5.84" fill="#C6C5C9"/><rect x="712.37" y="135.46" width="5.85" height="5.84" fill="#C6C5C9"/><rect x="718.20" y="135.46" width="5.85" height="5.84" fill="#C6C5C9"/><rect x="724.03" y="135.46" width="5.85" height="5.84" fill="#C6C5C9"/><rect x="729.86" y="135.46" width="5.85" height="5.84" fill="#C6C5C9"/><rect x="735.69" y="135.46" width="5.85" height="5.84" fill="#C6C5C9"/><rect x="741.52" y="135.46" width="5.85" height="5.84" fill="#00502A"/><rect x="747.35" y="135.46" width="5.85" height="5.84" fill="#C6C5C9"/><rect x="753.18" y="135.46" width="5.85" height="5.84" fill="#00502A"/><rect x="759.01" y="135.46" width="5.85" height="5.84" fill="#C6C5C9"/><rect x="764.84" y="135.46" width="5.85" height="5.84" fill="#00502A"/><rect x="770.67" y="135.46" width="5.85" height="5.84" fill="#00502A"/><rect x="485.00" y="141.28" width="5.85" height="5.84" fill="#FFD21A"/><rect x="490.83" y="141.28" width="5.85" height="5.84" fill="#FAFA12"/><rect x="496.66" y="141.28" width="5.85" height="5.84" fill="#FAFA12"/><rect x="502.49" y="141.28" width="5.85" height="5.84" fill="#FAFA12"/><rect x="508.32" y="141.28" width="5.85" height="5.84" fill="#FAFA12"/><rect x="514.15" y="141.28" width="5.85" height="5.84" fill="#FAFA12"/><rect x="519.98" y="141.28" width="5.85" height="5.84" fill="#FAFA12"/><rect x="525.81" y="141.28" width="5.85" height="5.84" fill="#FAFA12"/><rect x="531.64" y="141.28" width="5.85" height="5.84" fill="#FAFA12"/><rect x="537.47" y="141.28" width="5.85" height="5.84" fill="#FAFA12"/><rect x="543.30" y="141.28" width="5.85" height="5.84" fill="#FFFFC0"/><rect x="549.13" y="141.28" width="5.85" height="5.84" fill="#FFFFC0"/><rect x="554.96" y="141.28" width="5.85" height="5.84" fill="#FFFFC0"/><rect x="560.79" y="141.28" width="5.85" height="5.84" fill="#FFFFC0"/><rect x="566.62" y="141.28" width="5.85" height="5.84" fill="#C6C5C9"/><rect x="572.45" y="141.28" width="5.85" height="5.84" fill="#FFFFC0"/><rect x="578.28" y="141.28" width="5.85" height="5.84" fill="#C6C5C9"/><rect x="584.11" y="141.28" width="5.85" height="5.84" fill="#C6C5C9"/><rect x="589.94" y="141.28" width="5.85" height="5.84" fill="#FFFFC0"/><rect x="595.77" y="141.28" width="5.85" height="5.84" fill="#C6C5C9"/><rect x="601.60" y="141.28" width="5.85" height="5.84" fill="#C6C5C9"/><rect x="607.43" y="141.28" width="5.85" height="5.84" fill="#C6C5C9"/><rect x="613.26" y="141.28" width="5.85" height="5.84" fill="#FFFFC0"/><rect x="619.09" y="141.28" width="5.85" height="5.84" fill="#FAFA12"/><rect x="624.92" y="141.28" width="5.85" height="5.84" fill="#F7820F"/><rect x="630.75" y="141.28" width="5.85" height="5.84" fill="#00502A"/><rect x="636.58" y="141.28" width="5.85" height="5.84" fill="#1E8443"/><rect x="642.41" y="141.28" width="5.85" height="5.84" fill="#00502A"/><rect x="648.24" y="141.28" width="5.85" height="5.84" fill="#3DA35A"/><rect x="654.07" y="141.28" width="5.85" height="5.84" fill="#00502A"/><rect x="659.90" y="141.28" width="5.85" height="5.84" fill="#C6C5C9"/><rect x="665.73" y="141.28" width="5.85" height="5.84" fill="#78C679"/><rect x="671.56" y="141.28" width="5.85" height="5.84" fill="#3DA35A"/><rect x="677.39" y="141.28" width="5.85" height="5.84" fill="#C6C5C9"/><rect x="683.22" y="141.28" width="5.85" height="5.84" fill="#C6C5C9"/><rect x="689.05" y="141.28" width="5.85" height="5.84" fill="#C6C5C9"/><rect x="694.88" y="141.28" width="5.85" height="5.84" fill="#00502A"/><rect x="700.71" y="141.28" width="5.85" height="5.84" fill="#C6C5C9"/><rect x="706.54" y="141.28" width="5.85" height="5.84" fill="#C6C5C9"/><rect x="712.37" y="141.28" width="5.85" height="5.84" fill="#C6C5C9"/><rect x="718.20" y="141.28" width="5.85" height="5.84" fill="#C6C5C9"/><rect x="724.03" y="141.28" width="5.85" height="5.84" fill="#C6C5C9"/><rect x="729.86" y="141.28" width="5.85" height="5.84" fill="#C6C5C9"/><rect x="735.69" y="141.28" width="5.85" height="5.84" fill="#C6C5C9"/><rect x="741.52" y="141.28" width="5.85" height="5.84" fill="#00502A"/><rect x="747.35" y="141.28" width="5.85" height="5.84" fill="#00502A"/><rect x="753.18" y="141.28" width="5.85" height="5.84" fill="#00502A"/><rect x="759.01" y="141.28" width="5.85" height="5.84" fill="#C6C5C9"/><rect x="764.84" y="141.28" width="5.85" height="5.84" fill="#00502A"/><rect x="770.67" y="141.28" width="5.85" height="5.84" fill="#78C679"/><rect x="485.00" y="147.10" width="5.85" height="5.84" fill="#FAFA12"/><rect x="490.83" y="147.10" width="5.85" height="5.84" fill="#FFD21A"/><rect x="496.66" y="147.10" width="5.85" height="5.84" fill="#FAFA12"/><rect x="502.49" y="147.10" width="5.85" height="5.84" fill="#FAFA12"/><rect x="508.32" y="147.10" width="5.85" height="5.84" fill="#FAFA12"/><rect x="514.15" y="147.10" width="5.85" height="5.84" fill="#FAFA12"/><rect x="519.98" y="147.10" width="5.85" height="5.84" fill="#FAFA12"/><rect x="525.81" y="147.10" width="5.85" height="5.84" fill="#FFFFC0"/><rect x="531.64" y="147.10" width="5.85" height="5.84" fill="#FFFFC0"/><rect x="537.47" y="147.10" width="5.85" height="5.84" fill="#FAFA12"/><rect x="543.30" y="147.10" width="5.85" height="5.84" fill="#FFFFC0"/><rect x="549.13" y="147.10" width="5.85" height="5.84" fill="#FFFFC0"/><rect x="554.96" y="147.10" width="5.85" height="5.84" fill="#FFFFC0"/><rect x="560.79" y="147.10" width="5.85" height="5.84" fill="#FAFA12"/><rect x="566.62" y="147.10" width="5.85" height="5.84" fill="#C6C5C9"/><rect x="572.45" y="147.10" width="5.85" height="5.84" fill="#C6C5C9"/><rect x="578.28" y="147.10" width="5.85" height="5.84" fill="#C6C5C9"/><rect x="584.11" y="147.10" width="5.85" height="5.84" fill="#FAFA12"/><rect x="589.94" y="147.10" width="5.85" height="5.84" fill="#C6C5C9"/><rect x="595.77" y="147.10" width="5.85" height="5.84" fill="#FFFFC0"/><rect x="601.60" y="147.10" width="5.85" height="5.84" fill="#FAFA12"/><rect x="607.43" y="147.10" width="5.85" height="5.84" fill="#C6C5C9"/><rect x="613.26" y="147.10" width="5.85" height="5.84" fill="#C6C5C9"/><rect x="619.09" y="147.10" width="5.85" height="5.84" fill="#C6C5C9"/><rect x="624.92" y="147.10" width="5.85" height="5.84" fill="#FAFA12"/><rect x="630.75" y="147.10" width="5.85" height="5.84" fill="#F7820F"/><rect x="636.58" y="147.10" width="5.85" height="5.84" fill="#00502A"/><rect x="642.41" y="147.10" width="5.85" height="5.84" fill="#C6C5C9"/><rect x="648.24" y="147.10" width="5.85" height="5.84" fill="#00502A"/><rect x="654.07" y="147.10" width="5.85" height="5.84" fill="#C6C5C9"/><rect x="659.90" y="147.10" width="5.85" height="5.84" fill="#00502A"/><rect x="665.73" y="147.10" width="5.85" height="5.84" fill="#78C679"/><rect x="671.56" y="147.10" width="5.85" height="5.84" fill="#3DA35A"/><rect x="677.39" y="147.10" width="5.85" height="5.84" fill="#3DA35A"/><rect x="683.22" y="147.10" width="5.85" height="5.84" fill="#C6C5C9"/><rect x="689.05" y="147.10" width="5.85" height="5.84" fill="#C6C5C9"/><rect x="694.88" y="147.10" width="5.85" height="5.84" fill="#C6C5C9"/><rect x="700.71" y="147.10" width="5.85" height="5.84" fill="#00502A"/><rect x="706.54" y="147.10" width="5.85" height="5.84" fill="#C6C5C9"/><rect x="712.37" y="147.10" width="5.85" height="5.84" fill="#C6C5C9"/><rect x="718.20" y="147.10" width="5.85" height="5.84" fill="#C6C5C9"/><rect x="724.03" y="147.10" width="5.85" height="5.84" fill="#C6C5C9"/><rect x="729.86" y="147.10" width="5.85" height="5.84" fill="#00502A"/><rect x="735.69" y="147.10" width="5.85" height="5.84" fill="#C6C5C9"/><rect x="741.52" y="147.10" width="5.85" height="5.84" fill="#00502A"/><rect x="747.35" y="147.10" width="5.85" height="5.84" fill="#3DA35A"/><rect x="753.18" y="147.10" width="5.85" height="5.84" fill="#C6C5C9"/><rect x="759.01" y="147.10" width="5.85" height="5.84" fill="#00502A"/><rect x="764.84" y="147.10" width="5.85" height="5.84" fill="#00502A"/><rect x="770.67" y="147.10" width="5.85" height="5.84" fill="#78C679"/><rect x="485.00" y="152.92" width="5.85" height="5.84" fill="#FAFA12"/><rect x="490.83" y="152.92" width="5.85" height="5.84" fill="#FAFA12"/><rect x="496.66" y="152.92" width="5.85" height="5.84" fill="#FAFA12"/><rect x="502.49" y="152.92" width="5.85" height="5.84" fill="#FAFA12"/><rect x="508.32" y="152.92" width="5.85" height="5.84" fill="#FAFA12"/><rect x="514.15" y="152.92" width="5.85" height="5.84" fill="#FAFA12"/><rect x="519.98" y="152.92" width="5.85" height="5.84" fill="#FAFA12"/><rect x="525.81" y="152.92" width="5.85" height="5.84" fill="#FFFFC0"/><rect x="531.64" y="152.92" width="5.85" height="5.84" fill="#FAFA12"/><rect x="537.47" y="152.92" width="5.85" height="5.84" fill="#FAFA12"/><rect x="543.30" y="152.92" width="5.85" height="5.84" fill="#FAFA12"/><rect x="549.13" y="152.92" width="5.85" height="5.84" fill="#C6C5C9"/><rect x="554.96" y="152.92" width="5.85" height="5.84" fill="#FAFA12"/><rect x="560.79" y="152.92" width="5.85" height="5.84" fill="#FFFFC0"/><rect x="566.62" y="152.92" width="5.85" height="5.84" fill="#C6C5C9"/><rect x="572.45" y="152.92" width="5.85" height="5.84" fill="#C6C5C9"/><rect x="578.28" y="152.92" width="5.85" height="5.84" fill="#C6C5C9"/><rect x="584.11" y="152.92" width="5.85" height="5.84" fill="#FFFFC0"/><rect x="589.94" y="152.92" width="5.85" height="5.84" fill="#FFFFC0"/><rect x="595.77" y="152.92" width="5.85" height="5.84" fill="#C6C5C9"/><rect x="601.60" y="152.92" width="5.85" height="5.84" fill="#FFFFC0"/><rect x="607.43" y="152.92" width="5.85" height="5.84" fill="#FAFA12"/><rect x="613.26" y="152.92" width="5.85" height="5.84" fill="#C6C5C9"/><rect x="619.09" y="152.92" width="5.85" height="5.84" fill="#FFFFC0"/><rect x="624.92" y="152.92" width="5.85" height="5.84" fill="#FAFA12"/><rect x="630.75" y="152.92" width="5.85" height="5.84" fill="#FAFA12"/><rect x="636.58" y="152.92" width="5.85" height="5.84" fill="#F7820F"/><rect x="642.41" y="152.92" width="5.85" height="5.84" fill="#00502A"/><rect x="648.24" y="152.92" width="5.85" height="5.84" fill="#1E8443"/><rect x="654.07" y="152.92" width="5.85" height="5.84" fill="#00502A"/><rect x="659.90" y="152.92" width="5.85" height="5.84" fill="#00502A"/><rect x="665.73" y="152.92" width="5.85" height="5.84" fill="#C6C5C9"/><rect x="671.56" y="152.92" width="5.85" height="5.84" fill="#C6C5C9"/><rect x="677.39" y="152.92" width="5.85" height="5.84" fill="#C6C5C9"/><rect x="683.22" y="152.92" width="5.85" height="5.84" fill="#78C679"/><rect x="689.05" y="152.92" width="5.85" height="5.84" fill="#3DA35A"/><rect x="694.88" y="152.92" width="5.85" height="5.84" fill="#C6C5C9"/><rect x="700.71" y="152.92" width="5.85" height="5.84" fill="#00502A"/><rect x="706.54" y="152.92" width="5.85" height="5.84" fill="#C6C5C9"/><rect x="712.37" y="152.92" width="5.85" height="5.84" fill="#C6C5C9"/><rect x="718.20" y="152.92" width="5.85" height="5.84" fill="#78C679"/><rect x="724.03" y="152.92" width="5.85" height="5.84" fill="#00502A"/><rect x="729.86" y="152.92" width="5.85" height="5.84" fill="#C6C5C9"/><rect x="735.69" y="152.92" width="5.85" height="5.84" fill="#C6C5C9"/><rect x="741.52" y="152.92" width="5.85" height="5.84" fill="#00502A"/><rect x="747.35" y="152.92" width="5.85" height="5.84" fill="#00502A"/><rect x="753.18" y="152.92" width="5.85" height="5.84" fill="#00502A"/><rect x="759.01" y="152.92" width="5.85" height="5.84" fill="#C6C5C9"/><rect x="764.84" y="152.92" width="5.85" height="5.84" fill="#00502A"/><rect x="770.67" y="152.92" width="5.85" height="5.84" fill="#3DA35A"/><rect x="485.00" y="158.74" width="5.85" height="5.84" fill="#FFD21A"/><rect x="490.83" y="158.74" width="5.85" height="5.84" fill="#FAFA12"/><rect x="496.66" y="158.74" width="5.85" height="5.84" fill="#FAFA12"/><rect x="502.49" y="158.74" width="5.85" height="5.84" fill="#FAFA12"/><rect x="508.32" y="158.74" width="5.85" height="5.84" fill="#FFFFC0"/><rect x="514.15" y="158.74" width="5.85" height="5.84" fill="#FAFA12"/><rect x="519.98" y="158.74" width="5.85" height="5.84" fill="#FFFFC0"/><rect x="525.81" y="158.74" width="5.85" height="5.84" fill="#FAFA12"/><rect x="531.64" y="158.74" width="5.85" height="5.84" fill="#FAFA12"/><rect x="537.47" y="158.74" width="5.85" height="5.84" fill="#FFFFC0"/><rect x="543.30" y="158.74" width="5.85" height="5.84" fill="#FAFA12"/><rect x="549.13" y="158.74" width="5.85" height="5.84" fill="#FFFFC0"/><rect x="554.96" y="158.74" width="5.85" height="5.84" fill="#FFFFC0"/><rect x="560.79" y="158.74" width="5.85" height="5.84" fill="#FFFFC0"/><rect x="566.62" y="158.74" width="5.85" height="5.84" fill="#C6C5C9"/><rect x="572.45" y="158.74" width="5.85" height="5.84" fill="#C6C5C9"/><rect x="578.28" y="158.74" width="5.85" height="5.84" fill="#FFFFC0"/><rect x="584.11" y="158.74" width="5.85" height="5.84" fill="#FFFFC0"/><rect x="589.94" y="158.74" width="5.85" height="5.84" fill="#FFFFC0"/><rect x="595.77" y="158.74" width="5.85" height="5.84" fill="#C6C5C9"/><rect x="601.60" y="158.74" width="5.85" height="5.84" fill="#C6C5C9"/><rect x="607.43" y="158.74" width="5.85" height="5.84" fill="#FFFFC0"/><rect x="613.26" y="158.74" width="5.85" height="5.84" fill="#C6C5C9"/><rect x="619.09" y="158.74" width="5.85" height="5.84" fill="#FFFFC0"/><rect x="624.92" y="158.74" width="5.85" height="5.84" fill="#FFFFC0"/><rect x="630.75" y="158.74" width="5.85" height="5.84" fill="#C6C5C9"/><rect x="636.58" y="158.74" width="5.85" height="5.84" fill="#FAFA12"/><rect x="642.41" y="158.74" width="5.85" height="5.84" fill="#F7820F"/><rect x="648.24" y="158.74" width="5.85" height="5.84" fill="#00502A"/><rect x="654.07" y="158.74" width="5.85" height="5.84" fill="#C6C5C9"/><rect x="659.90" y="158.74" width="5.85" height="5.84" fill="#C6C5C9"/><rect x="665.73" y="158.74" width="5.85" height="5.84" fill="#C6C5C9"/><rect x="671.56" y="158.74" width="5.85" height="5.84" fill="#C6C5C9"/><rect x="677.39" y="158.74" width="5.85" height="5.84" fill="#C6C5C9"/><rect x="683.22" y="158.74" width="5.85" height="5.84" fill="#C6C5C9"/><rect x="689.05" y="158.74" width="5.85" height="5.84" fill="#C6C5C9"/><rect x="694.88" y="158.74" width="5.85" height="5.84" fill="#3DA35A"/><rect x="700.71" y="158.74" width="5.85" height="5.84" fill="#C6C5C9"/><rect x="706.54" y="158.74" width="5.85" height="5.84" fill="#78C679"/><rect x="712.37" y="158.74" width="5.85" height="5.84" fill="#C6C5C9"/><rect x="718.20" y="158.74" width="5.85" height="5.84" fill="#00502A"/><rect x="724.03" y="158.74" width="5.85" height="5.84" fill="#C6C5C9"/><rect x="729.86" y="158.74" width="5.85" height="5.84" fill="#C6C5C9"/><rect x="735.69" y="158.74" width="5.85" height="5.84" fill="#00502A"/><rect x="741.52" y="158.74" width="5.85" height="5.84" fill="#00502A"/><rect x="747.35" y="158.74" width="5.85" height="5.84" fill="#C6C5C9"/><rect x="753.18" y="158.74" width="5.85" height="5.84" fill="#00502A"/><rect x="759.01" y="158.74" width="5.85" height="5.84" fill="#C6C5C9"/><rect x="764.84" y="158.74" width="5.85" height="5.84" fill="#1E8443"/><rect x="770.67" y="158.74" width="5.85" height="5.84" fill="#00502A"/><rect x="485.00" y="164.56" width="5.85" height="5.84" fill="#FAFA12"/><rect x="490.83" y="164.56" width="5.85" height="5.84" fill="#FAFA12"/><rect x="496.66" y="164.56" width="5.85" height="5.84" fill="#FAFA12"/><rect x="502.49" y="164.56" width="5.85" height="5.84" fill="#FAFA12"/><rect x="508.32" y="164.56" width="5.85" height="5.84" fill="#FAFA12"/><rect x="514.15" y="164.56" width="5.85" height="5.84" fill="#FAFA12"/><rect x="519.98" y="164.56" width="5.85" height="5.84" fill="#FAFA12"/><rect x="525.81" y="164.56" width="5.85" height="5.84" fill="#FAFA12"/><rect x="531.64" y="164.56" width="5.85" height="5.84" fill="#FAFA12"/><rect x="537.47" y="164.56" width="5.85" height="5.84" fill="#FAFA12"/><rect x="543.30" y="164.56" width="5.85" height="5.84" fill="#FFFFC0"/><rect x="549.13" y="164.56" width="5.85" height="5.84" fill="#C6C5C9"/><rect x="554.96" y="164.56" width="5.85" height="5.84" fill="#FFFFC0"/><rect x="560.79" y="164.56" width="5.85" height="5.84" fill="#FFFFC0"/><rect x="566.62" y="164.56" width="5.85" height="5.84" fill="#FFFFC0"/><rect x="572.45" y="164.56" width="5.85" height="5.84" fill="#C6C5C9"/><rect x="578.28" y="164.56" width="5.85" height="5.84" fill="#FFFFC0"/><rect x="584.11" y="164.56" width="5.85" height="5.84" fill="#C6C5C9"/><rect x="589.94" y="164.56" width="5.85" height="5.84" fill="#FFFFC0"/><rect x="595.77" y="164.56" width="5.85" height="5.84" fill="#C6C5C9"/><rect x="601.60" y="164.56" width="5.85" height="5.84" fill="#C6C5C9"/><rect x="607.43" y="164.56" width="5.85" height="5.84" fill="#C6C5C9"/><rect x="613.26" y="164.56" width="5.85" height="5.84" fill="#FFFFC0"/><rect x="619.09" y="164.56" width="5.85" height="5.84" fill="#FAFA12"/><rect x="624.92" y="164.56" width="5.85" height="5.84" fill="#FFFFC0"/><rect x="630.75" y="164.56" width="5.85" height="5.84" fill="#FAFA12"/><rect x="636.58" y="164.56" width="5.85" height="5.84" fill="#FAFA12"/><rect x="642.41" y="164.56" width="5.85" height="5.84" fill="#FFFFC0"/><rect x="648.24" y="164.56" width="5.85" height="5.84" fill="#F7820F"/><rect x="654.07" y="164.56" width="5.85" height="5.84" fill="#C6C5C9"/><rect x="659.90" y="164.56" width="5.85" height="5.84" fill="#00502A"/><rect x="665.73" y="164.56" width="5.85" height="5.84" fill="#C6C5C9"/><rect x="671.56" y="164.56" width="5.85" height="5.84" fill="#C6C5C9"/><rect x="677.39" y="164.56" width="5.85" height="5.84" fill="#00502A"/><rect x="683.22" y="164.56" width="5.85" height="5.84" fill="#C6C5C9"/><rect x="689.05" y="164.56" width="5.85" height="5.84" fill="#C6C5C9"/><rect x="694.88" y="164.56" width="5.85" height="5.84" fill="#C6C5C9"/><rect x="700.71" y="164.56" width="5.85" height="5.84" fill="#C6C5C9"/><rect x="706.54" y="164.56" width="5.85" height="5.84" fill="#C6C5C9"/><rect x="712.37" y="164.56" width="5.85" height="5.84" fill="#C6C5C9"/><rect x="718.20" y="164.56" width="5.85" height="5.84" fill="#3DA35A"/><rect x="724.03" y="164.56" width="5.85" height="5.84" fill="#C6C5C9"/><rect x="729.86" y="164.56" width="5.85" height="5.84" fill="#C6C5C9"/><rect x="735.69" y="164.56" width="5.85" height="5.84" fill="#C6C5C9"/><rect x="741.52" y="164.56" width="5.85" height="5.84" fill="#00502A"/><rect x="747.35" y="164.56" width="5.85" height="5.84" fill="#C6C5C9"/><rect x="753.18" y="164.56" width="5.85" height="5.84" fill="#00502A"/><rect x="759.01" y="164.56" width="5.85" height="5.84" fill="#C6C5C9"/><rect x="764.84" y="164.56" width="5.85" height="5.84" fill="#1E8443"/><rect x="770.67" y="164.56" width="5.85" height="5.84" fill="#3DA35A"/><rect x="485.00" y="170.38" width="5.85" height="5.84" fill="#FAFA12"/><rect x="490.83" y="170.38" width="5.85" height="5.84" fill="#FAFA12"/><rect x="496.66" y="170.38" width="5.85" height="5.84" fill="#FAFA12"/><rect x="502.49" y="170.38" width="5.85" height="5.84" fill="#FAFA12"/><rect x="508.32" y="170.38" width="5.85" height="5.84" fill="#C6C5C9"/><rect x="514.15" y="170.38" width="5.85" height="5.84" fill="#C6C5C9"/><rect x="519.98" y="170.38" width="5.85" height="5.84" fill="#FFFFC0"/><rect x="525.81" y="170.38" width="5.85" height="5.84" fill="#C6C5C9"/><rect x="531.64" y="170.38" width="5.85" height="5.84" fill="#FFFFC0"/><rect x="537.47" y="170.38" width="5.85" height="5.84" fill="#FFFFC0"/><rect x="543.30" y="170.38" width="5.85" height="5.84" fill="#FAFA12"/><rect x="549.13" y="170.38" width="5.85" height="5.84" fill="#C6C5C9"/><rect x="554.96" y="170.38" width="5.85" height="5.84" fill="#C6C5C9"/><rect x="560.79" y="170.38" width="5.85" height="5.84" fill="#FFFFC0"/><rect x="566.62" y="170.38" width="5.85" height="5.84" fill="#C6C5C9"/><rect x="572.45" y="170.38" width="5.85" height="5.84" fill="#C6C5C9"/><rect x="578.28" y="170.38" width="5.85" height="5.84" fill="#C6C5C9"/><rect x="584.11" y="170.38" width="5.85" height="5.84" fill="#C6C5C9"/><rect x="589.94" y="170.38" width="5.85" height="5.84" fill="#C6C5C9"/><rect x="595.77" y="170.38" width="5.85" height="5.84" fill="#C6C5C9"/><rect x="601.60" y="170.38" width="5.85" height="5.84" fill="#C6C5C9"/><rect x="607.43" y="170.38" width="5.85" height="5.84" fill="#C6C5C9"/><rect x="613.26" y="170.38" width="5.85" height="5.84" fill="#C6C5C9"/><rect x="619.09" y="170.38" width="5.85" height="5.84" fill="#FFFFC0"/><rect x="624.92" y="170.38" width="5.85" height="5.84" fill="#FFFFC0"/><rect x="630.75" y="170.38" width="5.85" height="5.84" fill="#C6C5C9"/><rect x="636.58" y="170.38" width="5.85" height="5.84" fill="#FFFFC0"/><rect x="642.41" y="170.38" width="5.85" height="5.84" fill="#C6C5C9"/><rect x="648.24" y="170.38" width="5.85" height="5.84" fill="#C6C5C9"/><rect x="654.07" y="170.38" width="5.85" height="5.84" fill="#FDAA1C"/><rect x="659.90" y="170.38" width="5.85" height="5.84" fill="#C6C5C9"/><rect x="665.73" y="170.38" width="5.85" height="5.84" fill="#C6C5C9"/><rect x="671.56" y="170.38" width="5.85" height="5.84" fill="#C6C5C9"/><rect x="677.39" y="170.38" width="5.85" height="5.84" fill="#C6C5C9"/><rect x="683.22" y="170.38" width="5.85" height="5.84" fill="#C6C5C9"/><rect x="689.05" y="170.38" width="5.85" height="5.84" fill="#C6C5C9"/><rect x="694.88" y="170.38" width="5.85" height="5.84" fill="#C6C5C9"/><rect x="700.71" y="170.38" width="5.85" height="5.84" fill="#C6C5C9"/><rect x="706.54" y="170.38" width="5.85" height="5.84" fill="#C6C5C9"/><rect x="712.37" y="170.38" width="5.85" height="5.84" fill="#C6C5C9"/><rect x="718.20" y="170.38" width="5.85" height="5.84" fill="#C6C5C9"/><rect x="724.03" y="170.38" width="5.85" height="5.84" fill="#C6C5C9"/><rect x="729.86" y="170.38" width="5.85" height="5.84" fill="#C6C5C9"/><rect x="735.69" y="170.38" width="5.85" height="5.84" fill="#C6C5C9"/><rect x="741.52" y="170.38" width="5.85" height="5.84" fill="#C6C5C9"/><rect x="747.35" y="170.38" width="5.85" height="5.84" fill="#C6C5C9"/><rect x="753.18" y="170.38" width="5.85" height="5.84" fill="#C6C5C9"/><rect x="759.01" y="170.38" width="5.85" height="5.84" fill="#C6C5C9"/><rect x="764.84" y="170.38" width="5.85" height="5.84" fill="#00502A"/><rect x="770.67" y="170.38" width="5.85" height="5.84" fill="#C6C5C9"/><rect x="485.00" y="176.20" width="5.85" height="5.84" fill="#FAFA12"/><rect x="490.83" y="176.20" width="5.85" height="5.84" fill="#FAFA12"/><rect x="496.66" y="176.20" width="5.85" height="5.84" fill="#FFFFC0"/><rect x="502.49" y="176.20" width="5.85" height="5.84" fill="#FFFFC0"/><rect x="508.32" y="176.20" width="5.85" height="5.84" fill="#FFFFC0"/><rect x="514.15" y="176.20" width="5.85" height="5.84" fill="#C6C5C9"/><rect x="519.98" y="176.20" width="5.85" height="5.84" fill="#C6C5C9"/><rect x="525.81" y="176.20" width="5.85" height="5.84" fill="#FAFA12"/><rect x="531.64" y="176.20" width="5.85" height="5.84" fill="#FFFFC0"/><rect x="537.47" y="176.20" width="5.85" height="5.84" fill="#FFFFC0"/><rect x="543.30" y="176.20" width="5.85" height="5.84" fill="#C6C5C9"/><rect x="549.13" y="176.20" width="5.85" height="5.84" fill="#C6C5C9"/><rect x="554.96" y="176.20" width="5.85" height="5.84" fill="#C6C5C9"/><rect x="560.79" y="176.20" width="5.85" height="5.84" fill="#FFFFC0"/><rect x="566.62" y="176.20" width="5.85" height="5.84" fill="#C6C5C9"/><rect x="572.45" y="176.20" width="5.85" height="5.84" fill="#C6C5C9"/><rect x="578.28" y="176.20" width="5.85" height="5.84" fill="#C6C5C9"/><rect x="584.11" y="176.20" width="5.85" height="5.84" fill="#C6C5C9"/><rect x="589.94" y="176.20" width="5.85" height="5.84" fill="#C6C5C9"/><rect x="595.77" y="176.20" width="5.85" height="5.84" fill="#C6C5C9"/><rect x="601.60" y="176.20" width="5.85" height="5.84" fill="#C6C5C9"/><rect x="607.43" y="176.20" width="5.85" height="5.84" fill="#C6C5C9"/><rect x="613.26" y="176.20" width="5.85" height="5.84" fill="#C6C5C9"/><rect x="619.09" y="176.20" width="5.85" height="5.84" fill="#FFFFC0"/><rect x="624.92" y="176.20" width="5.85" height="5.84" fill="#C6C5C9"/><rect x="630.75" y="176.20" width="5.85" height="5.84" fill="#FFFFC0"/><rect x="636.58" y="176.20" width="5.85" height="5.84" fill="#FFFFC0"/><rect x="642.41" y="176.20" width="5.85" height="5.84" fill="#C6C5C9"/><rect x="648.24" y="176.20" width="5.85" height="5.84" fill="#FFFFC0"/><rect x="654.07" y="176.20" width="5.85" height="5.84" fill="#C6C5C9"/><rect x="659.90" y="176.20" width="5.85" height="5.84" fill="#FDAA1C"/><rect x="665.73" y="176.20" width="5.85" height="5.84" fill="#C6C5C9"/><rect x="671.56" y="176.20" width="5.85" height="5.84" fill="#C6C5C9"/><rect x="677.39" y="176.20" width="5.85" height="5.84" fill="#C6C5C9"/><rect x="683.22" y="176.20" width="5.85" height="5.84" fill="#C6C5C9"/><rect x="689.05" y="176.20" width="5.85" height="5.84" fill="#C6C5C9"/><rect x="694.88" y="176.20" width="5.85" height="5.84" fill="#C6C5C9"/><rect x="700.71" y="176.20" width="5.85" height="5.84" fill="#C6C5C9"/><rect x="706.54" y="176.20" width="5.85" height="5.84" fill="#C6C5C9"/><rect x="712.37" y="176.20" width="5.85" height="5.84" fill="#C6C5C9"/><rect x="718.20" y="176.20" width="5.85" height="5.84" fill="#C6C5C9"/><rect x="724.03" y="176.20" width="5.85" height="5.84" fill="#C6C5C9"/><rect x="729.86" y="176.20" width="5.85" height="5.84" fill="#C6C5C9"/><rect x="735.69" y="176.20" width="5.85" height="5.84" fill="#C6C5C9"/><rect x="741.52" y="176.20" width="5.85" height="5.84" fill="#C6C5C9"/><rect x="747.35" y="176.20" width="5.85" height="5.84" fill="#C6C5C9"/><rect x="753.18" y="176.20" width="5.85" height="5.84" fill="#C6C5C9"/><rect x="759.01" y="176.20" width="5.85" height="5.84" fill="#C6C5C9"/><rect x="764.84" y="176.20" width="5.85" height="5.84" fill="#3DA35A"/><rect x="770.67" y="176.20" width="5.85" height="5.84" fill="#C6C5C9"/><rect x="485.00" y="182.02" width="5.85" height="5.84" fill="#FAFA12"/><rect x="490.83" y="182.02" width="5.85" height="5.84" fill="#FAFA12"/><rect x="496.66" y="182.02" width="5.85" height="5.84" fill="#FAFA12"/><rect x="502.49" y="182.02" width="5.85" height="5.84" fill="#FAFA12"/><rect x="508.32" y="182.02" width="5.85" height="5.84" fill="#FAFA12"/><rect x="514.15" y="182.02" width="5.85" height="5.84" fill="#FAFA12"/><rect x="519.98" y="182.02" width="5.85" height="5.84" fill="#FFFFC0"/><rect x="525.81" y="182.02" width="5.85" height="5.84" fill="#FFFFC0"/><rect x="531.64" y="182.02" width="5.85" height="5.84" fill="#FAFA12"/><rect x="537.47" y="182.02" width="5.85" height="5.84" fill="#C6C5C9"/><rect x="543.30" y="182.02" width="5.85" height="5.84" fill="#FFFFC0"/><rect x="549.13" y="182.02" width="5.85" height="5.84" fill="#C6C5C9"/><rect x="554.96" y="182.02" width="5.85" height="5.84" fill="#FFFFC0"/><rect x="560.79" y="182.02" width="5.85" height="5.84" fill="#FAFA12"/><rect x="566.62" y="182.02" width="5.85" height="5.84" fill="#FFFFC0"/><rect x="572.45" y="182.02" width="5.85" height="5.84" fill="#C6C5C9"/><rect x="578.28" y="182.02" width="5.85" height="5.84" fill="#FFFFC0"/><rect x="584.11" y="182.02" width="5.85" height="5.84" fill="#FFFFC0"/><rect x="589.94" y="182.02" width="5.85" height="5.84" fill="#C6C5C9"/><rect x="595.77" y="182.02" width="5.85" height="5.84" fill="#FAFA12"/><rect x="601.60" y="182.02" width="5.85" height="5.84" fill="#FFFFC0"/><rect x="607.43" y="182.02" width="5.85" height="5.84" fill="#FAFA12"/><rect x="613.26" y="182.02" width="5.85" height="5.84" fill="#C6C5C9"/><rect x="619.09" y="182.02" width="5.85" height="5.84" fill="#FFFFC0"/><rect x="624.92" y="182.02" width="5.85" height="5.84" fill="#FFFFC0"/><rect x="630.75" y="182.02" width="5.85" height="5.84" fill="#FAFA12"/><rect x="636.58" y="182.02" width="5.85" height="5.84" fill="#C6C5C9"/><rect x="642.41" y="182.02" width="5.85" height="5.84" fill="#C6C5C9"/><rect x="648.24" y="182.02" width="5.85" height="5.84" fill="#C6C5C9"/><rect x="654.07" y="182.02" width="5.85" height="5.84" fill="#C6C5C9"/><rect x="659.90" y="182.02" width="5.85" height="5.84" fill="#C6C5C9"/><rect x="665.73" y="182.02" width="5.85" height="5.84" fill="#FDAA1C"/><rect x="671.56" y="182.02" width="5.85" height="5.84" fill="#BFE6B8"/><rect x="677.39" y="182.02" width="5.85" height="5.84" fill="#78C679"/><rect x="683.22" y="182.02" width="5.85" height="5.84" fill="#C6C5C9"/><rect x="689.05" y="182.02" width="5.85" height="5.84" fill="#C6C5C9"/><rect x="694.88" y="182.02" width="5.85" height="5.84" fill="#C6C5C9"/><rect x="700.71" y="182.02" width="5.85" height="5.84" fill="#C6C5C9"/><rect x="706.54" y="182.02" width="5.85" height="5.84" fill="#C6C5C9"/><rect x="712.37" y="182.02" width="5.85" height="5.84" fill="#C6C5C9"/><rect x="718.20" y="182.02" width="5.85" height="5.84" fill="#C6C5C9"/><rect x="724.03" y="182.02" width="5.85" height="5.84" fill="#C6C5C9"/><rect x="729.86" y="182.02" width="5.85" height="5.84" fill="#C6C5C9"/><rect x="735.69" y="182.02" width="5.85" height="5.84" fill="#C6C5C9"/><rect x="741.52" y="182.02" width="5.85" height="5.84" fill="#C6C5C9"/><rect x="747.35" y="182.02" width="5.85" height="5.84" fill="#3DA35A"/><rect x="753.18" y="182.02" width="5.85" height="5.84" fill="#C6C5C9"/><rect x="759.01" y="182.02" width="5.85" height="5.84" fill="#C6C5C9"/><rect x="764.84" y="182.02" width="5.85" height="5.84" fill="#00502A"/><rect x="770.67" y="182.02" width="5.85" height="5.84" fill="#C6C5C9"/><rect x="485.00" y="187.84" width="5.85" height="5.84" fill="#FAFA12"/><rect x="490.83" y="187.84" width="5.85" height="5.84" fill="#FFFFC0"/><rect x="496.66" y="187.84" width="5.85" height="5.84" fill="#FAFA12"/><rect x="502.49" y="187.84" width="5.85" height="5.84" fill="#FAFA12"/><rect x="508.32" y="187.84" width="5.85" height="5.84" fill="#FFFFC0"/><rect x="514.15" y="187.84" width="5.85" height="5.84" fill="#FAFA12"/><rect x="519.98" y="187.84" width="5.85" height="5.84" fill="#FAFA12"/><rect x="525.81" y="187.84" width="5.85" height="5.84" fill="#C6C5C9"/><rect x="531.64" y="187.84" width="5.85" height="5.84" fill="#C6C5C9"/><rect x="537.47" y="187.84" width="5.85" height="5.84" fill="#FFFFC0"/><rect x="543.30" y="187.84" width="5.85" height="5.84" fill="#FAFA12"/><rect x="549.13" y="187.84" width="5.85" height="5.84" fill="#FFFFC0"/><rect x="554.96" y="187.84" width="5.85" height="5.84" fill="#FAFA12"/><rect x="560.79" y="187.84" width="5.85" height="5.84" fill="#C6C5C9"/><rect x="566.62" y="187.84" width="5.85" height="5.84" fill="#C6C5C9"/><rect x="572.45" y="187.84" width="5.85" height="5.84" fill="#C6C5C9"/><rect x="578.28" y="187.84" width="5.85" height="5.84" fill="#C6C5C9"/><rect x="584.11" y="187.84" width="5.85" height="5.84" fill="#C6C5C9"/><rect x="589.94" y="187.84" width="5.85" height="5.84" fill="#FAFA12"/><rect x="595.77" y="187.84" width="5.85" height="5.84" fill="#FAFA12"/><rect x="601.60" y="187.84" width="5.85" height="5.84" fill="#FAFA12"/><rect x="607.43" y="187.84" width="5.85" height="5.84" fill="#C6C5C9"/><rect x="613.26" y="187.84" width="5.85" height="5.84" fill="#C6C5C9"/><rect x="619.09" y="187.84" width="5.85" height="5.84" fill="#C6C5C9"/><rect x="624.92" y="187.84" width="5.85" height="5.84" fill="#FFFFC0"/><rect x="630.75" y="187.84" width="5.85" height="5.84" fill="#FFFFC0"/><rect x="636.58" y="187.84" width="5.85" height="5.84" fill="#C6C5C9"/><rect x="642.41" y="187.84" width="5.85" height="5.84" fill="#C6C5C9"/><rect x="648.24" y="187.84" width="5.85" height="5.84" fill="#C6C5C9"/><rect x="654.07" y="187.84" width="5.85" height="5.84" fill="#C6C5C9"/><rect x="659.90" y="187.84" width="5.85" height="5.84" fill="#C6C5C9"/><rect x="665.73" y="187.84" width="5.85" height="5.84" fill="#FFFFC0"/><rect x="671.56" y="187.84" width="5.85" height="5.84" fill="#FDAA1C"/><rect x="677.39" y="187.84" width="5.85" height="5.84" fill="#78C679"/><rect x="683.22" y="187.84" width="5.85" height="5.84" fill="#1E8443"/><rect x="689.05" y="187.84" width="5.85" height="5.84" fill="#C6C5C9"/><rect x="694.88" y="187.84" width="5.85" height="5.84" fill="#C6C5C9"/><rect x="700.71" y="187.84" width="5.85" height="5.84" fill="#C6C5C9"/><rect x="706.54" y="187.84" width="5.85" height="5.84" fill="#C6C5C9"/><rect x="712.37" y="187.84" width="5.85" height="5.84" fill="#C6C5C9"/><rect x="718.20" y="187.84" width="5.85" height="5.84" fill="#C6C5C9"/><rect x="724.03" y="187.84" width="5.85" height="5.84" fill="#C6C5C9"/><rect x="729.86" y="187.84" width="5.85" height="5.84" fill="#C6C5C9"/><rect x="735.69" y="187.84" width="5.85" height="5.84" fill="#C6C5C9"/><rect x="741.52" y="187.84" width="5.85" height="5.84" fill="#C6C5C9"/><rect x="747.35" y="187.84" width="5.85" height="5.84" fill="#00502A"/><rect x="753.18" y="187.84" width="5.85" height="5.84" fill="#C6C5C9"/><rect x="759.01" y="187.84" width="5.85" height="5.84" fill="#C6C5C9"/><rect x="764.84" y="187.84" width="5.85" height="5.84" fill="#00502A"/><rect x="770.67" y="187.84" width="5.85" height="5.84" fill="#C6C5C9"/><rect x="485.00" y="193.66" width="5.85" height="5.84" fill="#FAFA12"/><rect x="490.83" y="193.66" width="5.85" height="5.84" fill="#FAFA12"/><rect x="496.66" y="193.66" width="5.85" height="5.84" fill="#FAFA12"/><rect x="502.49" y="193.66" width="5.85" height="5.84" fill="#FAFA12"/><rect x="508.32" y="193.66" width="5.85" height="5.84" fill="#FAFA12"/><rect x="514.15" y="193.66" width="5.85" height="5.84" fill="#FFFFC0"/><rect x="519.98" y="193.66" width="5.85" height="5.84" fill="#FFFFC0"/><rect x="525.81" y="193.66" width="5.85" height="5.84" fill="#C6C5C9"/><rect x="531.64" y="193.66" width="5.85" height="5.84" fill="#FAFA12"/><rect x="537.47" y="193.66" width="5.85" height="5.84" fill="#C6C5C9"/><rect x="543.30" y="193.66" width="5.85" height="5.84" fill="#FAFA12"/><rect x="549.13" y="193.66" width="5.85" height="5.84" fill="#C6C5C9"/><rect x="554.96" y="193.66" width="5.85" height="5.84" fill="#C6C5C9"/><rect x="560.79" y="193.66" width="5.85" height="5.84" fill="#C6C5C9"/><rect x="566.62" y="193.66" width="5.85" height="5.84" fill="#C6C5C9"/><rect x="572.45" y="193.66" width="5.85" height="5.84" fill="#C6C5C9"/><rect x="578.28" y="193.66" width="5.85" height="5.84" fill="#C6C5C9"/><rect x="584.11" y="193.66" width="5.85" height="5.84" fill="#C6C5C9"/><rect x="589.94" y="193.66" width="5.85" height="5.84" fill="#C6C5C9"/><rect x="595.77" y="193.66" width="5.85" height="5.84" fill="#FFFFC0"/><rect x="601.60" y="193.66" width="5.85" height="5.84" fill="#FAFA12"/><rect x="607.43" y="193.66" width="5.85" height="5.84" fill="#C6C5C9"/><rect x="613.26" y="193.66" width="5.85" height="5.84" fill="#FFFFC0"/><rect x="619.09" y="193.66" width="5.85" height="5.84" fill="#C6C5C9"/><rect x="624.92" y="193.66" width="5.85" height="5.84" fill="#C6C5C9"/><rect x="630.75" y="193.66" width="5.85" height="5.84" fill="#FFFFC0"/><rect x="636.58" y="193.66" width="5.85" height="5.84" fill="#C6C5C9"/><rect x="642.41" y="193.66" width="5.85" height="5.84" fill="#C6C5C9"/><rect x="648.24" y="193.66" width="5.85" height="5.84" fill="#FFFFC0"/><rect x="654.07" y="193.66" width="5.85" height="5.84" fill="#C6C5C9"/><rect x="659.90" y="193.66" width="5.85" height="5.84" fill="#FFFFC0"/><rect x="665.73" y="193.66" width="5.85" height="5.84" fill="#FFFFC0"/><rect x="671.56" y="193.66" width="5.85" height="5.84" fill="#FFFFC0"/><rect x="677.39" y="193.66" width="5.85" height="5.84" fill="#FDAA1C"/><rect x="683.22" y="193.66" width="5.85" height="5.84" fill="#C6C5C9"/><rect x="689.05" y="193.66" width="5.85" height="5.84" fill="#C6C5C9"/><rect x="694.88" y="193.66" width="5.85" height="5.84" fill="#C6C5C9"/><rect x="700.71" y="193.66" width="5.85" height="5.84" fill="#C6C5C9"/><rect x="706.54" y="193.66" width="5.85" height="5.84" fill="#C6C5C9"/><rect x="712.37" y="193.66" width="5.85" height="5.84" fill="#C6C5C9"/><rect x="718.20" y="193.66" width="5.85" height="5.84" fill="#C6C5C9"/><rect x="724.03" y="193.66" width="5.85" height="5.84" fill="#C6C5C9"/><rect x="729.86" y="193.66" width="5.85" height="5.84" fill="#C6C5C9"/><rect x="735.69" y="193.66" width="5.85" height="5.84" fill="#C6C5C9"/><rect x="741.52" y="193.66" width="5.85" height="5.84" fill="#C6C5C9"/><rect x="747.35" y="193.66" width="5.85" height="5.84" fill="#00502A"/><rect x="753.18" y="193.66" width="5.85" height="5.84" fill="#C6C5C9"/><rect x="759.01" y="193.66" width="5.85" height="5.84" fill="#C6C5C9"/><rect x="764.84" y="193.66" width="5.85" height="5.84" fill="#00502A"/><rect x="770.67" y="193.66" width="5.85" height="5.84" fill="#00502A"/><rect x="485.00" y="199.48" width="5.85" height="5.84" fill="#FAFA12"/><rect x="490.83" y="199.48" width="5.85" height="5.84" fill="#C6C5C9"/><rect x="496.66" y="199.48" width="5.85" height="5.84" fill="#FAFA12"/><rect x="502.49" y="199.48" width="5.85" height="5.84" fill="#FFFFC0"/><rect x="508.32" y="199.48" width="5.85" height="5.84" fill="#FFFFC0"/><rect x="514.15" y="199.48" width="5.85" height="5.84" fill="#FAFA12"/><rect x="519.98" y="199.48" width="5.85" height="5.84" fill="#FFFFC0"/><rect x="525.81" y="199.48" width="5.85" height="5.84" fill="#C6C5C9"/><rect x="531.64" y="199.48" width="5.85" height="5.84" fill="#FFFFC0"/><rect x="537.47" y="199.48" width="5.85" height="5.84" fill="#FFFFC0"/><rect x="543.30" y="199.48" width="5.85" height="5.84" fill="#C6C5C9"/><rect x="549.13" y="199.48" width="5.85" height="5.84" fill="#C6C5C9"/><rect x="554.96" y="199.48" width="5.85" height="5.84" fill="#C6C5C9"/><rect x="560.79" y="199.48" width="5.85" height="5.84" fill="#C6C5C9"/><rect x="566.62" y="199.48" width="5.85" height="5.84" fill="#C6C5C9"/><rect x="572.45" y="199.48" width="5.85" height="5.84" fill="#C6C5C9"/><rect x="578.28" y="199.48" width="5.85" height="5.84" fill="#FFFFC0"/><rect x="584.11" y="199.48" width="5.85" height="5.84" fill="#C6C5C9"/><rect x="589.94" y="199.48" width="5.85" height="5.84" fill="#C6C5C9"/><rect x="595.77" y="199.48" width="5.85" height="5.84" fill="#C6C5C9"/><rect x="601.60" y="199.48" width="5.85" height="5.84" fill="#C6C5C9"/><rect x="607.43" y="199.48" width="5.85" height="5.84" fill="#FAFA12"/><rect x="613.26" y="199.48" width="5.85" height="5.84" fill="#FFFFC0"/><rect x="619.09" y="199.48" width="5.85" height="5.84" fill="#C6C5C9"/><rect x="624.92" y="199.48" width="5.85" height="5.84" fill="#C6C5C9"/><rect x="630.75" y="199.48" width="5.85" height="5.84" fill="#C6C5C9"/><rect x="636.58" y="199.48" width="5.85" height="5.84" fill="#FFFFC0"/><rect x="642.41" y="199.48" width="5.85" height="5.84" fill="#C6C5C9"/><rect x="648.24" y="199.48" width="5.85" height="5.84" fill="#C6C5C9"/><rect x="654.07" y="199.48" width="5.85" height="5.84" fill="#C6C5C9"/><rect x="659.90" y="199.48" width="5.85" height="5.84" fill="#C6C5C9"/><rect x="665.73" y="199.48" width="5.85" height="5.84" fill="#C6C5C9"/><rect x="671.56" y="199.48" width="5.85" height="5.84" fill="#FAFA12"/><rect x="677.39" y="199.48" width="5.85" height="5.84" fill="#C6C5C9"/><rect x="683.22" y="199.48" width="5.85" height="5.84" fill="#FDAA1C"/><rect x="689.05" y="199.48" width="5.85" height="5.84" fill="#00502A"/><rect x="694.88" y="199.48" width="5.85" height="5.84" fill="#C6C5C9"/><rect x="700.71" y="199.48" width="5.85" height="5.84" fill="#C6C5C9"/><rect x="706.54" y="199.48" width="5.85" height="5.84" fill="#C6C5C9"/><rect x="712.37" y="199.48" width="5.85" height="5.84" fill="#3DA35A"/><rect x="718.20" y="199.48" width="5.85" height="5.84" fill="#3DA35A"/><rect x="724.03" y="199.48" width="5.85" height="5.84" fill="#00502A"/><rect x="729.86" y="199.48" width="5.85" height="5.84" fill="#C6C5C9"/><rect x="735.69" y="199.48" width="5.85" height="5.84" fill="#C6C5C9"/><rect x="741.52" y="199.48" width="5.85" height="5.84" fill="#C6C5C9"/><rect x="747.35" y="199.48" width="5.85" height="5.84" fill="#C6C5C9"/><rect x="753.18" y="199.48" width="5.85" height="5.84" fill="#C6C5C9"/><rect x="759.01" y="199.48" width="5.85" height="5.84" fill="#C6C5C9"/><rect x="764.84" y="199.48" width="5.85" height="5.84" fill="#C6C5C9"/><rect x="770.67" y="199.48" width="5.85" height="5.84" fill="#3DA35A"/><rect x="485.00" y="205.30" width="5.85" height="5.84" fill="#FAFA12"/><rect x="490.83" y="205.30" width="5.85" height="5.84" fill="#FAFA12"/><rect x="496.66" y="205.30" width="5.85" height="5.84" fill="#C6C5C9"/><rect x="502.49" y="205.30" width="5.85" height="5.84" fill="#FAFA12"/><rect x="508.32" y="205.30" width="5.85" height="5.84" fill="#FAFA12"/><rect x="514.15" y="205.30" width="5.85" height="5.84" fill="#C6C5C9"/><rect x="519.98" y="205.30" width="5.85" height="5.84" fill="#FFFFC0"/><rect x="525.81" y="205.30" width="5.85" height="5.84" fill="#C6C5C9"/><rect x="531.64" y="205.30" width="5.85" height="5.84" fill="#FFFFC0"/><rect x="537.47" y="205.30" width="5.85" height="5.84" fill="#FAFA12"/><rect x="543.30" y="205.30" width="5.85" height="5.84" fill="#FFFFC0"/><rect x="549.13" y="205.30" width="5.85" height="5.84" fill="#C6C5C9"/><rect x="554.96" y="205.30" width="5.85" height="5.84" fill="#C6C5C9"/><rect x="560.79" y="205.30" width="5.85" height="5.84" fill="#C6C5C9"/><rect x="566.62" y="205.30" width="5.85" height="5.84" fill="#C6C5C9"/><rect x="572.45" y="205.30" width="5.85" height="5.84" fill="#C6C5C9"/><rect x="578.28" y="205.30" width="5.85" height="5.84" fill="#C6C5C9"/><rect x="584.11" y="205.30" width="5.85" height="5.84" fill="#C6C5C9"/><rect x="589.94" y="205.30" width="5.85" height="5.84" fill="#C6C5C9"/><rect x="595.77" y="205.30" width="5.85" height="5.84" fill="#C6C5C9"/><rect x="601.60" y="205.30" width="5.85" height="5.84" fill="#C6C5C9"/><rect x="607.43" y="205.30" width="5.85" height="5.84" fill="#FFFFC0"/><rect x="613.26" y="205.30" width="5.85" height="5.84" fill="#FFFFC0"/><rect x="619.09" y="205.30" width="5.85" height="5.84" fill="#C6C5C9"/><rect x="624.92" y="205.30" width="5.85" height="5.84" fill="#C6C5C9"/><rect x="630.75" y="205.30" width="5.85" height="5.84" fill="#C6C5C9"/><rect x="636.58" y="205.30" width="5.85" height="5.84" fill="#FFFFC0"/><rect x="642.41" y="205.30" width="5.85" height="5.84" fill="#C6C5C9"/><rect x="648.24" y="205.30" width="5.85" height="5.84" fill="#C6C5C9"/><rect x="654.07" y="205.30" width="5.85" height="5.84" fill="#C6C5C9"/><rect x="659.90" y="205.30" width="5.85" height="5.84" fill="#C6C5C9"/><rect x="665.73" y="205.30" width="5.85" height="5.84" fill="#C6C5C9"/><rect x="671.56" y="205.30" width="5.85" height="5.84" fill="#C6C5C9"/><rect x="677.39" y="205.30" width="5.85" height="5.84" fill="#C6C5C9"/><rect x="683.22" y="205.30" width="5.85" height="5.84" fill="#FFFFC0"/><rect x="689.05" y="205.30" width="5.85" height="5.84" fill="#FDAA1C"/><rect x="694.88" y="205.30" width="5.85" height="5.84" fill="#C6C5C9"/><rect x="700.71" y="205.30" width="5.85" height="5.84" fill="#C6C5C9"/><rect x="706.54" y="205.30" width="5.85" height="5.84" fill="#C6C5C9"/><rect x="712.37" y="205.30" width="5.85" height="5.84" fill="#00502A"/><rect x="718.20" y="205.30" width="5.85" height="5.84" fill="#00502A"/><rect x="724.03" y="205.30" width="5.85" height="5.84" fill="#C6C5C9"/><rect x="729.86" y="205.30" width="5.85" height="5.84" fill="#C6C5C9"/><rect x="735.69" y="205.30" width="5.85" height="5.84" fill="#C6C5C9"/><rect x="741.52" y="205.30" width="5.85" height="5.84" fill="#C6C5C9"/><rect x="747.35" y="205.30" width="5.85" height="5.84" fill="#3DA35A"/><rect x="753.18" y="205.30" width="5.85" height="5.84" fill="#C6C5C9"/><rect x="759.01" y="205.30" width="5.85" height="5.84" fill="#C6C5C9"/><rect x="764.84" y="205.30" width="5.85" height="5.84" fill="#3DA35A"/><rect x="770.67" y="205.30" width="5.85" height="5.84" fill="#C6C5C9"/><rect x="485.00" y="211.12" width="5.85" height="5.84" fill="#FAFA12"/><rect x="490.83" y="211.12" width="5.85" height="5.84" fill="#FAFA12"/><rect x="496.66" y="211.12" width="5.85" height="5.84" fill="#FAFA12"/><rect x="502.49" y="211.12" width="5.85" height="5.84" fill="#FAFA12"/><rect x="508.32" y="211.12" width="5.85" height="5.84" fill="#C6C5C9"/><rect x="514.15" y="211.12" width="5.85" height="5.84" fill="#FFFFC0"/><rect x="519.98" y="211.12" width="5.85" height="5.84" fill="#FFFFC0"/><rect x="525.81" y="211.12" width="5.85" height="5.84" fill="#C6C5C9"/><rect x="531.64" y="211.12" width="5.85" height="5.84" fill="#C6C5C9"/><rect x="537.47" y="211.12" width="5.85" height="5.84" fill="#C6C5C9"/><rect x="543.30" y="211.12" width="5.85" height="5.84" fill="#FFFFC0"/><rect x="549.13" y="211.12" width="5.85" height="5.84" fill="#C6C5C9"/><rect x="554.96" y="211.12" width="5.85" height="5.84" fill="#C6C5C9"/><rect x="560.79" y="211.12" width="5.85" height="5.84" fill="#C6C5C9"/><rect x="566.62" y="211.12" width="5.85" height="5.84" fill="#C6C5C9"/><rect x="572.45" y="211.12" width="5.85" height="5.84" fill="#C6C5C9"/><rect x="578.28" y="211.12" width="5.85" height="5.84" fill="#C6C5C9"/><rect x="584.11" y="211.12" width="5.85" height="5.84" fill="#FFFFC0"/><rect x="589.94" y="211.12" width="5.85" height="5.84" fill="#FFFFC0"/><rect x="595.77" y="211.12" width="5.85" height="5.84" fill="#FFFFC0"/><rect x="601.60" y="211.12" width="5.85" height="5.84" fill="#FFFFC0"/><rect x="607.43" y="211.12" width="5.85" height="5.84" fill="#C6C5C9"/><rect x="613.26" y="211.12" width="5.85" height="5.84" fill="#C6C5C9"/><rect x="619.09" y="211.12" width="5.85" height="5.84" fill="#C6C5C9"/><rect x="624.92" y="211.12" width="5.85" height="5.84" fill="#FFFFC0"/><rect x="630.75" y="211.12" width="5.85" height="5.84" fill="#C6C5C9"/><rect x="636.58" y="211.12" width="5.85" height="5.84" fill="#C6C5C9"/><rect x="642.41" y="211.12" width="5.85" height="5.84" fill="#FFFFC0"/><rect x="648.24" y="211.12" width="5.85" height="5.84" fill="#C6C5C9"/><rect x="654.07" y="211.12" width="5.85" height="5.84" fill="#C6C5C9"/><rect x="659.90" y="211.12" width="5.85" height="5.84" fill="#C6C5C9"/><rect x="665.73" y="211.12" width="5.85" height="5.84" fill="#C6C5C9"/><rect x="671.56" y="211.12" width="5.85" height="5.84" fill="#FFFFC0"/><rect x="677.39" y="211.12" width="5.85" height="5.84" fill="#C6C5C9"/><rect x="683.22" y="211.12" width="5.85" height="5.84" fill="#C6C5C9"/><rect x="689.05" y="211.12" width="5.85" height="5.84" fill="#FFFFC0"/><rect x="694.88" y="211.12" width="5.85" height="5.84" fill="#FDAA1C"/><rect x="700.71" y="211.12" width="5.85" height="5.84" fill="#C6C5C9"/><rect x="706.54" y="211.12" width="5.85" height="5.84" fill="#C6C5C9"/><rect x="712.37" y="211.12" width="5.85" height="5.84" fill="#C6C5C9"/><rect x="718.20" y="211.12" width="5.85" height="5.84" fill="#C6C5C9"/><rect x="724.03" y="211.12" width="5.85" height="5.84" fill="#C6C5C9"/><rect x="729.86" y="211.12" width="5.85" height="5.84" fill="#C6C5C9"/><rect x="735.69" y="211.12" width="5.85" height="5.84" fill="#C6C5C9"/><rect x="741.52" y="211.12" width="5.85" height="5.84" fill="#C6C5C9"/><rect x="747.35" y="211.12" width="5.85" height="5.84" fill="#C6C5C9"/><rect x="753.18" y="211.12" width="5.85" height="5.84" fill="#C6C5C9"/><rect x="759.01" y="211.12" width="5.85" height="5.84" fill="#C6C5C9"/><rect x="764.84" y="211.12" width="5.85" height="5.84" fill="#C6C5C9"/><rect x="770.67" y="211.12" width="5.85" height="5.84" fill="#C6C5C9"/><rect x="485.00" y="216.94" width="5.85" height="5.84" fill="#C6C5C9"/><rect x="490.83" y="216.94" width="5.85" height="5.84" fill="#FAFA12"/><rect x="496.66" y="216.94" width="5.85" height="5.84" fill="#FAFA12"/><rect x="502.49" y="216.94" width="5.85" height="5.84" fill="#FAFA12"/><rect x="508.32" y="216.94" width="5.85" height="5.84" fill="#C6C5C9"/><rect x="514.15" y="216.94" width="5.85" height="5.84" fill="#C6C5C9"/><rect x="519.98" y="216.94" width="5.85" height="5.84" fill="#FAFA12"/><rect x="525.81" y="216.94" width="5.85" height="5.84" fill="#FFFFC0"/><rect x="531.64" y="216.94" width="5.85" height="5.84" fill="#C6C5C9"/><rect x="537.47" y="216.94" width="5.85" height="5.84" fill="#C6C5C9"/><rect x="543.30" y="216.94" width="5.85" height="5.84" fill="#C6C5C9"/><rect x="549.13" y="216.94" width="5.85" height="5.84" fill="#C6C5C9"/><rect x="554.96" y="216.94" width="5.85" height="5.84" fill="#FFFFC0"/><rect x="560.79" y="216.94" width="5.85" height="5.84" fill="#C6C5C9"/><rect x="566.62" y="216.94" width="5.85" height="5.84" fill="#C6C5C9"/><rect x="572.45" y="216.94" width="5.85" height="5.84" fill="#FFFFC0"/><rect x="578.28" y="216.94" width="5.85" height="5.84" fill="#FFFFC0"/><rect x="584.11" y="216.94" width="5.85" height="5.84" fill="#C6C5C9"/><rect x="589.94" y="216.94" width="5.85" height="5.84" fill="#C6C5C9"/><rect x="595.77" y="216.94" width="5.85" height="5.84" fill="#C6C5C9"/><rect x="601.60" y="216.94" width="5.85" height="5.84" fill="#C6C5C9"/><rect x="607.43" y="216.94" width="5.85" height="5.84" fill="#FFFFC0"/><rect x="613.26" y="216.94" width="5.85" height="5.84" fill="#C6C5C9"/><rect x="619.09" y="216.94" width="5.85" height="5.84" fill="#FFFFC0"/><rect x="624.92" y="216.94" width="5.85" height="5.84" fill="#C6C5C9"/><rect x="630.75" y="216.94" width="5.85" height="5.84" fill="#FFFFC0"/><rect x="636.58" y="216.94" width="5.85" height="5.84" fill="#FFFFC0"/><rect x="642.41" y="216.94" width="5.85" height="5.84" fill="#C6C5C9"/><rect x="648.24" y="216.94" width="5.85" height="5.84" fill="#C6C5C9"/><rect x="654.07" y="216.94" width="5.85" height="5.84" fill="#C6C5C9"/><rect x="659.90" y="216.94" width="5.85" height="5.84" fill="#C6C5C9"/><rect x="665.73" y="216.94" width="5.85" height="5.84" fill="#C6C5C9"/><rect x="671.56" y="216.94" width="5.85" height="5.84" fill="#C6C5C9"/><rect x="677.39" y="216.94" width="5.85" height="5.84" fill="#C6C5C9"/><rect x="683.22" y="216.94" width="5.85" height="5.84" fill="#C6C5C9"/><rect x="689.05" y="216.94" width="5.85" height="5.84" fill="#C6C5C9"/><rect x="694.88" y="216.94" width="5.85" height="5.84" fill="#C6C5C9"/><rect x="700.71" y="216.94" width="5.85" height="5.84" fill="#F6A24A"/><rect x="706.54" y="216.94" width="5.85" height="5.84" fill="#C6C5C9"/><rect x="712.37" y="216.94" width="5.85" height="5.84" fill="#C6C5C9"/><rect x="718.20" y="216.94" width="5.85" height="5.84" fill="#C6C5C9"/><rect x="724.03" y="216.94" width="5.85" height="5.84" fill="#C6C5C9"/><rect x="729.86" y="216.94" width="5.85" height="5.84" fill="#C6C5C9"/><rect x="735.69" y="216.94" width="5.85" height="5.84" fill="#C6C5C9"/><rect x="741.52" y="216.94" width="5.85" height="5.84" fill="#C6C5C9"/><rect x="747.35" y="216.94" width="5.85" height="5.84" fill="#C6C5C9"/><rect x="753.18" y="216.94" width="5.85" height="5.84" fill="#C6C5C9"/><rect x="759.01" y="216.94" width="5.85" height="5.84" fill="#C6C5C9"/><rect x="764.84" y="216.94" width="5.85" height="5.84" fill="#00502A"/><rect x="770.67" y="216.94" width="5.85" height="5.84" fill="#00502A"/><rect x="485.00" y="222.76" width="5.85" height="5.84" fill="#FAFA12"/><rect x="490.83" y="222.76" width="5.85" height="5.84" fill="#C6C5C9"/><rect x="496.66" y="222.76" width="5.85" height="5.84" fill="#FAFA12"/><rect x="502.49" y="222.76" width="5.85" height="5.84" fill="#FAFA12"/><rect x="508.32" y="222.76" width="5.85" height="5.84" fill="#FFFFC0"/><rect x="514.15" y="222.76" width="5.85" height="5.84" fill="#C6C5C9"/><rect x="519.98" y="222.76" width="5.85" height="5.84" fill="#C6C5C9"/><rect x="525.81" y="222.76" width="5.85" height="5.84" fill="#C6C5C9"/><rect x="531.64" y="222.76" width="5.85" height="5.84" fill="#FFFFC0"/><rect x="537.47" y="222.76" width="5.85" height="5.84" fill="#FFFFC0"/><rect x="543.30" y="222.76" width="5.85" height="5.84" fill="#FFFFC0"/><rect x="549.13" y="222.76" width="5.85" height="5.84" fill="#C6C5C9"/><rect x="554.96" y="222.76" width="5.85" height="5.84" fill="#C6C5C9"/><rect x="560.79" y="222.76" width="5.85" height="5.84" fill="#C6C5C9"/><rect x="566.62" y="222.76" width="5.85" height="5.84" fill="#C6C5C9"/><rect x="572.45" y="222.76" width="5.85" height="5.84" fill="#C6C5C9"/><rect x="578.28" y="222.76" width="5.85" height="5.84" fill="#FFFFC0"/><rect x="584.11" y="222.76" width="5.85" height="5.84" fill="#C6C5C9"/><rect x="589.94" y="222.76" width="5.85" height="5.84" fill="#FFFFC0"/><rect x="595.77" y="222.76" width="5.85" height="5.84" fill="#C6C5C9"/><rect x="601.60" y="222.76" width="5.85" height="5.84" fill="#FFFFC0"/><rect x="607.43" y="222.76" width="5.85" height="5.84" fill="#C6C5C9"/><rect x="613.26" y="222.76" width="5.85" height="5.84" fill="#C6C5C9"/><rect x="619.09" y="222.76" width="5.85" height="5.84" fill="#C6C5C9"/><rect x="624.92" y="222.76" width="5.85" height="5.84" fill="#C6C5C9"/><rect x="630.75" y="222.76" width="5.85" height="5.84" fill="#C6C5C9"/><rect x="636.58" y="222.76" width="5.85" height="5.84" fill="#C6C5C9"/><rect x="642.41" y="222.76" width="5.85" height="5.84" fill="#FFFFC0"/><rect x="648.24" y="222.76" width="5.85" height="5.84" fill="#C6C5C9"/><rect x="654.07" y="222.76" width="5.85" height="5.84" fill="#C6C5C9"/><rect x="659.90" y="222.76" width="5.85" height="5.84" fill="#C6C5C9"/><rect x="665.73" y="222.76" width="5.85" height="5.84" fill="#C6C5C9"/><rect x="671.56" y="222.76" width="5.85" height="5.84" fill="#C6C5C9"/><rect x="677.39" y="222.76" width="5.85" height="5.84" fill="#C6C5C9"/><rect x="683.22" y="222.76" width="5.85" height="5.84" fill="#C6C5C9"/><rect x="689.05" y="222.76" width="5.85" height="5.84" fill="#C6C5C9"/><rect x="694.88" y="222.76" width="5.85" height="5.84" fill="#C6C5C9"/><rect x="700.71" y="222.76" width="5.85" height="5.84" fill="#C6C5C9"/><rect x="706.54" y="222.76" width="5.85" height="5.84" fill="#FDAA1C"/><rect x="712.37" y="222.76" width="5.85" height="5.84" fill="#C6C5C9"/><rect x="718.20" y="222.76" width="5.85" height="5.84" fill="#C6C5C9"/><rect x="724.03" y="222.76" width="5.85" height="5.84" fill="#C6C5C9"/><rect x="729.86" y="222.76" width="5.85" height="5.84" fill="#C6C5C9"/><rect x="735.69" y="222.76" width="5.85" height="5.84" fill="#00502A"/><rect x="741.52" y="222.76" width="5.85" height="5.84" fill="#C6C5C9"/><rect x="747.35" y="222.76" width="5.85" height="5.84" fill="#C6C5C9"/><rect x="753.18" y="222.76" width="5.85" height="5.84" fill="#C6C5C9"/><rect x="759.01" y="222.76" width="5.85" height="5.84" fill="#C6C5C9"/><rect x="764.84" y="222.76" width="5.85" height="5.84" fill="#00502A"/><rect x="770.67" y="222.76" width="5.85" height="5.84" fill="#C6C5C9"/><rect x="485.00" y="228.58" width="5.85" height="5.84" fill="#FAFA12"/><rect x="490.83" y="228.58" width="5.85" height="5.84" fill="#FFFFC0"/><rect x="496.66" y="228.58" width="5.85" height="5.84" fill="#FFFFC0"/><rect x="502.49" y="228.58" width="5.85" height="5.84" fill="#C6C5C9"/><rect x="508.32" y="228.58" width="5.85" height="5.84" fill="#C6C5C9"/><rect x="514.15" y="228.58" width="5.85" height="5.84" fill="#C6C5C9"/><rect x="519.98" y="228.58" width="5.85" height="5.84" fill="#FAFA12"/><rect x="525.81" y="228.58" width="5.85" height="5.84" fill="#C6C5C9"/><rect x="531.64" y="228.58" width="5.85" height="5.84" fill="#C6C5C9"/><rect x="537.47" y="228.58" width="5.85" height="5.84" fill="#FFFFC0"/><rect x="543.30" y="228.58" width="5.85" height="5.84" fill="#FFFFC0"/><rect x="549.13" y="228.58" width="5.85" height="5.84" fill="#C6C5C9"/><rect x="554.96" y="228.58" width="5.85" height="5.84" fill="#C6C5C9"/><rect x="560.79" y="228.58" width="5.85" height="5.84" fill="#C6C5C9"/><rect x="566.62" y="228.58" width="5.85" height="5.84" fill="#C6C5C9"/><rect x="572.45" y="228.58" width="5.85" height="5.84" fill="#FFFFC0"/><rect x="578.28" y="228.58" width="5.85" height="5.84" fill="#C6C5C9"/><rect x="584.11" y="228.58" width="5.85" height="5.84" fill="#C6C5C9"/><rect x="589.94" y="228.58" width="5.85" height="5.84" fill="#C6C5C9"/><rect x="595.77" y="228.58" width="5.85" height="5.84" fill="#C6C5C9"/><rect x="601.60" y="228.58" width="5.85" height="5.84" fill="#C6C5C9"/><rect x="607.43" y="228.58" width="5.85" height="5.84" fill="#FFFFC0"/><rect x="613.26" y="228.58" width="5.85" height="5.84" fill="#FFFFC0"/><rect x="619.09" y="228.58" width="5.85" height="5.84" fill="#C6C5C9"/><rect x="624.92" y="228.58" width="5.85" height="5.84" fill="#C6C5C9"/><rect x="630.75" y="228.58" width="5.85" height="5.84" fill="#C6C5C9"/><rect x="636.58" y="228.58" width="5.85" height="5.84" fill="#C6C5C9"/><rect x="642.41" y="228.58" width="5.85" height="5.84" fill="#C6C5C9"/><rect x="648.24" y="228.58" width="5.85" height="5.84" fill="#C6C5C9"/><rect x="654.07" y="228.58" width="5.85" height="5.84" fill="#C6C5C9"/><rect x="659.90" y="228.58" width="5.85" height="5.84" fill="#C6C5C9"/><rect x="665.73" y="228.58" width="5.85" height="5.84" fill="#C6C5C9"/><rect x="671.56" y="228.58" width="5.85" height="5.84" fill="#C6C5C9"/><rect x="677.39" y="228.58" width="5.85" height="5.84" fill="#C6C5C9"/><rect x="683.22" y="228.58" width="5.85" height="5.84" fill="#FFFFC0"/><rect x="689.05" y="228.58" width="5.85" height="5.84" fill="#FFFFC0"/><rect x="694.88" y="228.58" width="5.85" height="5.84" fill="#C6C5C9"/><rect x="700.71" y="228.58" width="5.85" height="5.84" fill="#C6C5C9"/><rect x="706.54" y="228.58" width="5.85" height="5.84" fill="#C6C5C9"/><rect x="712.37" y="228.58" width="5.85" height="5.84" fill="#FDAA1C"/><rect x="718.20" y="228.58" width="5.85" height="5.84" fill="#3DA35A"/><rect x="724.03" y="228.58" width="5.85" height="5.84" fill="#C6C5C9"/><rect x="729.86" y="228.58" width="5.85" height="5.84" fill="#C6C5C9"/><rect x="735.69" y="228.58" width="5.85" height="5.84" fill="#C6C5C9"/><rect x="741.52" y="228.58" width="5.85" height="5.84" fill="#C6C5C9"/><rect x="747.35" y="228.58" width="5.85" height="5.84" fill="#C6C5C9"/><rect x="753.18" y="228.58" width="5.85" height="5.84" fill="#C6C5C9"/><rect x="759.01" y="228.58" width="5.85" height="5.84" fill="#C6C5C9"/><rect x="764.84" y="228.58" width="5.85" height="5.84" fill="#C6C5C9"/><rect x="770.67" y="228.58" width="5.85" height="5.84" fill="#C6C5C9"/><rect x="485.00" y="234.40" width="5.85" height="5.84" fill="#FFFFC0"/><rect x="490.83" y="234.40" width="5.85" height="5.84" fill="#FFFFC0"/><rect x="496.66" y="234.40" width="5.85" height="5.84" fill="#FFFFC0"/><rect x="502.49" y="234.40" width="5.85" height="5.84" fill="#FAFA12"/><rect x="508.32" y="234.40" width="5.85" height="5.84" fill="#FFFFC0"/><rect x="514.15" y="234.40" width="5.85" height="5.84" fill="#FFFFC0"/><rect x="519.98" y="234.40" width="5.85" height="5.84" fill="#FAFA12"/><rect x="525.81" y="234.40" width="5.85" height="5.84" fill="#C6C5C9"/><rect x="531.64" y="234.40" width="5.85" height="5.84" fill="#C6C5C9"/><rect x="537.47" y="234.40" width="5.85" height="5.84" fill="#FAFA12"/><rect x="543.30" y="234.40" width="5.85" height="5.84" fill="#C6C5C9"/><rect x="549.13" y="234.40" width="5.85" height="5.84" fill="#C6C5C9"/><rect x="554.96" y="234.40" width="5.85" height="5.84" fill="#C6C5C9"/><rect x="560.79" y="234.40" width="5.85" height="5.84" fill="#C6C5C9"/><rect x="566.62" y="234.40" width="5.85" height="5.84" fill="#C6C5C9"/><rect x="572.45" y="234.40" width="5.85" height="5.84" fill="#C6C5C9"/><rect x="578.28" y="234.40" width="5.85" height="5.84" fill="#C6C5C9"/><rect x="584.11" y="234.40" width="5.85" height="5.84" fill="#FFFFC0"/><rect x="589.94" y="234.40" width="5.85" height="5.84" fill="#C6C5C9"/><rect x="595.77" y="234.40" width="5.85" height="5.84" fill="#C6C5C9"/><rect x="601.60" y="234.40" width="5.85" height="5.84" fill="#C6C5C9"/><rect x="607.43" y="234.40" width="5.85" height="5.84" fill="#FFFFC0"/><rect x="613.26" y="234.40" width="5.85" height="5.84" fill="#FFFFC0"/><rect x="619.09" y="234.40" width="5.85" height="5.84" fill="#C6C5C9"/><rect x="624.92" y="234.40" width="5.85" height="5.84" fill="#C6C5C9"/><rect x="630.75" y="234.40" width="5.85" height="5.84" fill="#C6C5C9"/><rect x="636.58" y="234.40" width="5.85" height="5.84" fill="#FFFFC0"/><rect x="642.41" y="234.40" width="5.85" height="5.84" fill="#FFFFC0"/><rect x="648.24" y="234.40" width="5.85" height="5.84" fill="#FFFFC0"/><rect x="654.07" y="234.40" width="5.85" height="5.84" fill="#C6C5C9"/><rect x="659.90" y="234.40" width="5.85" height="5.84" fill="#C6C5C9"/><rect x="665.73" y="234.40" width="5.85" height="5.84" fill="#C6C5C9"/><rect x="671.56" y="234.40" width="5.85" height="5.84" fill="#C6C5C9"/><rect x="677.39" y="234.40" width="5.85" height="5.84" fill="#C6C5C9"/><rect x="683.22" y="234.40" width="5.85" height="5.84" fill="#FFFFC0"/><rect x="689.05" y="234.40" width="5.85" height="5.84" fill="#FFFFC0"/><rect x="694.88" y="234.40" width="5.85" height="5.84" fill="#C6C5C9"/><rect x="700.71" y="234.40" width="5.85" height="5.84" fill="#C6C5C9"/><rect x="706.54" y="234.40" width="5.85" height="5.84" fill="#C6C5C9"/><rect x="712.37" y="234.40" width="5.85" height="5.84" fill="#FFFFC0"/><rect x="718.20" y="234.40" width="5.85" height="5.84" fill="#FFD21A"/><rect x="724.03" y="234.40" width="5.85" height="5.84" fill="#C6C5C9"/><rect x="729.86" y="234.40" width="5.85" height="5.84" fill="#C6C5C9"/><rect x="735.69" y="234.40" width="5.85" height="5.84" fill="#C6C5C9"/><rect x="741.52" y="234.40" width="5.85" height="5.84" fill="#C6C5C9"/><rect x="747.35" y="234.40" width="5.85" height="5.84" fill="#C6C5C9"/><rect x="753.18" y="234.40" width="5.85" height="5.84" fill="#C6C5C9"/><rect x="759.01" y="234.40" width="5.85" height="5.84" fill="#C6C5C9"/><rect x="764.84" y="234.40" width="5.85" height="5.84" fill="#C6C5C9"/><rect x="770.67" y="234.40" width="5.85" height="5.84" fill="#C6C5C9"/><rect x="485.00" y="240.22" width="5.85" height="5.84" fill="#FAFA12"/><rect x="490.83" y="240.22" width="5.85" height="5.84" fill="#FAFA12"/><rect x="496.66" y="240.22" width="5.85" height="5.84" fill="#C6C5C9"/><rect x="502.49" y="240.22" width="5.85" height="5.84" fill="#FAFA12"/><rect x="508.32" y="240.22" width="5.85" height="5.84" fill="#C6C5C9"/><rect x="514.15" y="240.22" width="5.85" height="5.84" fill="#FAFA12"/><rect x="519.98" y="240.22" width="5.85" height="5.84" fill="#FFFFC0"/><rect x="525.81" y="240.22" width="5.85" height="5.84" fill="#C6C5C9"/><rect x="531.64" y="240.22" width="5.85" height="5.84" fill="#C6C5C9"/><rect x="537.47" y="240.22" width="5.85" height="5.84" fill="#C6C5C9"/><rect x="543.30" y="240.22" width="5.85" height="5.84" fill="#FFFFC0"/><rect x="549.13" y="240.22" width="5.85" height="5.84" fill="#C6C5C9"/><rect x="554.96" y="240.22" width="5.85" height="5.84" fill="#C6C5C9"/><rect x="560.79" y="240.22" width="5.85" height="5.84" fill="#FFFFC0"/><rect x="566.62" y="240.22" width="5.85" height="5.84" fill="#C6C5C9"/><rect x="572.45" y="240.22" width="5.85" height="5.84" fill="#C6C5C9"/><rect x="578.28" y="240.22" width="5.85" height="5.84" fill="#C6C5C9"/><rect x="584.11" y="240.22" width="5.85" height="5.84" fill="#C6C5C9"/><rect x="589.94" y="240.22" width="5.85" height="5.84" fill="#C6C5C9"/><rect x="595.77" y="240.22" width="5.85" height="5.84" fill="#C6C5C9"/><rect x="601.60" y="240.22" width="5.85" height="5.84" fill="#FFFFC0"/><rect x="607.43" y="240.22" width="5.85" height="5.84" fill="#C6C5C9"/><rect x="613.26" y="240.22" width="5.85" height="5.84" fill="#C6C5C9"/><rect x="619.09" y="240.22" width="5.85" height="5.84" fill="#C6C5C9"/><rect x="624.92" y="240.22" width="5.85" height="5.84" fill="#C6C5C9"/><rect x="630.75" y="240.22" width="5.85" height="5.84" fill="#C6C5C9"/><rect x="636.58" y="240.22" width="5.85" height="5.84" fill="#FFFFC0"/><rect x="642.41" y="240.22" width="5.85" height="5.84" fill="#C6C5C9"/><rect x="648.24" y="240.22" width="5.85" height="5.84" fill="#C6C5C9"/><rect x="654.07" y="240.22" width="5.85" height="5.84" fill="#C6C5C9"/><rect x="659.90" y="240.22" width="5.85" height="5.84" fill="#C6C5C9"/><rect x="665.73" y="240.22" width="5.85" height="5.84" fill="#C6C5C9"/><rect x="671.56" y="240.22" width="5.85" height="5.84" fill="#C6C5C9"/><rect x="677.39" y="240.22" width="5.85" height="5.84" fill="#C6C5C9"/><rect x="683.22" y="240.22" width="5.85" height="5.84" fill="#FFFFC0"/><rect x="689.05" y="240.22" width="5.85" height="5.84" fill="#C6C5C9"/><rect x="694.88" y="240.22" width="5.85" height="5.84" fill="#C6C5C9"/><rect x="700.71" y="240.22" width="5.85" height="5.84" fill="#C6C5C9"/><rect x="706.54" y="240.22" width="5.85" height="5.84" fill="#C6C5C9"/><rect x="712.37" y="240.22" width="5.85" height="5.84" fill="#C6C5C9"/><rect x="718.20" y="240.22" width="5.85" height="5.84" fill="#C6C5C9"/><rect x="724.03" y="240.22" width="5.85" height="5.84" fill="#FFD21A"/><rect x="729.86" y="240.22" width="5.85" height="5.84" fill="#C6C5C9"/><rect x="735.69" y="240.22" width="5.85" height="5.84" fill="#C6C5C9"/><rect x="741.52" y="240.22" width="5.85" height="5.84" fill="#C6C5C9"/><rect x="747.35" y="240.22" width="5.85" height="5.84" fill="#C6C5C9"/><rect x="753.18" y="240.22" width="5.85" height="5.84" fill="#C6C5C9"/><rect x="759.01" y="240.22" width="5.85" height="5.84" fill="#C6C5C9"/><rect x="764.84" y="240.22" width="5.85" height="5.84" fill="#C6C5C9"/><rect x="770.67" y="240.22" width="5.85" height="5.84" fill="#00502A"/><rect x="485.00" y="246.04" width="5.85" height="5.84" fill="#C6C5C9"/><rect x="490.83" y="246.04" width="5.85" height="5.84" fill="#FAFA12"/><rect x="496.66" y="246.04" width="5.85" height="5.84" fill="#FAFA12"/><rect x="502.49" y="246.04" width="5.85" height="5.84" fill="#C6C5C9"/><rect x="508.32" y="246.04" width="5.85" height="5.84" fill="#C6C5C9"/><rect x="514.15" y="246.04" width="5.85" height="5.84" fill="#FFFFC0"/><rect x="519.98" y="246.04" width="5.85" height="5.84" fill="#C6C5C9"/><rect x="525.81" y="246.04" width="5.85" height="5.84" fill="#C6C5C9"/><rect x="531.64" y="246.04" width="5.85" height="5.84" fill="#C6C5C9"/><rect x="537.47" y="246.04" width="5.85" height="5.84" fill="#C6C5C9"/><rect x="543.30" y="246.04" width="5.85" height="5.84" fill="#C6C5C9"/><rect x="549.13" y="246.04" width="5.85" height="5.84" fill="#C6C5C9"/><rect x="554.96" y="246.04" width="5.85" height="5.84" fill="#C6C5C9"/><rect x="560.79" y="246.04" width="5.85" height="5.84" fill="#C6C5C9"/><rect x="566.62" y="246.04" width="5.85" height="5.84" fill="#C6C5C9"/><rect x="572.45" y="246.04" width="5.85" height="5.84" fill="#C6C5C9"/><rect x="578.28" y="246.04" width="5.85" height="5.84" fill="#C6C5C9"/><rect x="584.11" y="246.04" width="5.85" height="5.84" fill="#C6C5C9"/><rect x="589.94" y="246.04" width="5.85" height="5.84" fill="#C6C5C9"/><rect x="595.77" y="246.04" width="5.85" height="5.84" fill="#C6C5C9"/><rect x="601.60" y="246.04" width="5.85" height="5.84" fill="#C6C5C9"/><rect x="607.43" y="246.04" width="5.85" height="5.84" fill="#C6C5C9"/><rect x="613.26" y="246.04" width="5.85" height="5.84" fill="#C6C5C9"/><rect x="619.09" y="246.04" width="5.85" height="5.84" fill="#C6C5C9"/><rect x="624.92" y="246.04" width="5.85" height="5.84" fill="#C6C5C9"/><rect x="630.75" y="246.04" width="5.85" height="5.84" fill="#FAFA12"/><rect x="636.58" y="246.04" width="5.85" height="5.84" fill="#C6C5C9"/><rect x="642.41" y="246.04" width="5.85" height="5.84" fill="#C6C5C9"/><rect x="648.24" y="246.04" width="5.85" height="5.84" fill="#C6C5C9"/><rect x="654.07" y="246.04" width="5.85" height="5.84" fill="#C6C5C9"/><rect x="659.90" y="246.04" width="5.85" height="5.84" fill="#C6C5C9"/><rect x="665.73" y="246.04" width="5.85" height="5.84" fill="#C6C5C9"/><rect x="671.56" y="246.04" width="5.85" height="5.84" fill="#C6C5C9"/><rect x="677.39" y="246.04" width="5.85" height="5.84" fill="#C6C5C9"/><rect x="683.22" y="246.04" width="5.85" height="5.84" fill="#C6C5C9"/><rect x="689.05" y="246.04" width="5.85" height="5.84" fill="#C6C5C9"/><rect x="694.88" y="246.04" width="5.85" height="5.84" fill="#C6C5C9"/><rect x="700.71" y="246.04" width="5.85" height="5.84" fill="#C6C5C9"/><rect x="706.54" y="246.04" width="5.85" height="5.84" fill="#C6C5C9"/><rect x="712.37" y="246.04" width="5.85" height="5.84" fill="#C6C5C9"/><rect x="718.20" y="246.04" width="5.85" height="5.84" fill="#C6C5C9"/><rect x="724.03" y="246.04" width="5.85" height="5.84" fill="#C6C5C9"/><rect x="729.86" y="246.04" width="5.85" height="5.84" fill="#FFD21A"/><rect x="735.69" y="246.04" width="5.85" height="5.84" fill="#C6C5C9"/><rect x="741.52" y="246.04" width="5.85" height="5.84" fill="#C6C5C9"/><rect x="747.35" y="246.04" width="5.85" height="5.84" fill="#C6C5C9"/><rect x="753.18" y="246.04" width="5.85" height="5.84" fill="#C6C5C9"/><rect x="759.01" y="246.04" width="5.85" height="5.84" fill="#C6C5C9"/><rect x="764.84" y="246.04" width="5.85" height="5.84" fill="#C6C5C9"/><rect x="770.67" y="246.04" width="5.85" height="5.84" fill="#C6C5C9"/><rect x="485.00" y="251.86" width="5.85" height="5.84" fill="#FAFA12"/><rect x="490.83" y="251.86" width="5.85" height="5.84" fill="#FAFA12"/><rect x="496.66" y="251.86" width="5.85" height="5.84" fill="#C6C5C9"/><rect x="502.49" y="251.86" width="5.85" height="5.84" fill="#FFFFC0"/><rect x="508.32" y="251.86" width="5.85" height="5.84" fill="#FFFFC0"/><rect x="514.15" y="251.86" width="5.85" height="5.84" fill="#C6C5C9"/><rect x="519.98" y="251.86" width="5.85" height="5.84" fill="#C6C5C9"/><rect x="525.81" y="251.86" width="5.85" height="5.84" fill="#C6C5C9"/><rect x="531.64" y="251.86" width="5.85" height="5.84" fill="#FFFFC0"/><rect x="537.47" y="251.86" width="5.85" height="5.84" fill="#FFFFC0"/><rect x="543.30" y="251.86" width="5.85" height="5.84" fill="#C6C5C9"/><rect x="549.13" y="251.86" width="5.85" height="5.84" fill="#FFFFC0"/><rect x="554.96" y="251.86" width="5.85" height="5.84" fill="#FFFFC0"/><rect x="560.79" y="251.86" width="5.85" height="5.84" fill="#C6C5C9"/><rect x="566.62" y="251.86" width="5.85" height="5.84" fill="#FFFFC0"/><rect x="572.45" y="251.86" width="5.85" height="5.84" fill="#C6C5C9"/><rect x="578.28" y="251.86" width="5.85" height="5.84" fill="#C6C5C9"/><rect x="584.11" y="251.86" width="5.85" height="5.84" fill="#C6C5C9"/><rect x="589.94" y="251.86" width="5.85" height="5.84" fill="#C6C5C9"/><rect x="595.77" y="251.86" width="5.85" height="5.84" fill="#C6C5C9"/><rect x="601.60" y="251.86" width="5.85" height="5.84" fill="#C6C5C9"/><rect x="607.43" y="251.86" width="5.85" height="5.84" fill="#C6C5C9"/><rect x="613.26" y="251.86" width="5.85" height="5.84" fill="#C6C5C9"/><rect x="619.09" y="251.86" width="5.85" height="5.84" fill="#C6C5C9"/><rect x="624.92" y="251.86" width="5.85" height="5.84" fill="#C6C5C9"/><rect x="630.75" y="251.86" width="5.85" height="5.84" fill="#C6C5C9"/><rect x="636.58" y="251.86" width="5.85" height="5.84" fill="#C6C5C9"/><rect x="642.41" y="251.86" width="5.85" height="5.84" fill="#FFFFC0"/><rect x="648.24" y="251.86" width="5.85" height="5.84" fill="#C6C5C9"/><rect x="654.07" y="251.86" width="5.85" height="5.84" fill="#C6C5C9"/><rect x="659.90" y="251.86" width="5.85" height="5.84" fill="#C6C5C9"/><rect x="665.73" y="251.86" width="5.85" height="5.84" fill="#C6C5C9"/><rect x="671.56" y="251.86" width="5.85" height="5.84" fill="#C6C5C9"/><rect x="677.39" y="251.86" width="5.85" height="5.84" fill="#C6C5C9"/><rect x="683.22" y="251.86" width="5.85" height="5.84" fill="#C6C5C9"/><rect x="689.05" y="251.86" width="5.85" height="5.84" fill="#C6C5C9"/><rect x="694.88" y="251.86" width="5.85" height="5.84" fill="#C6C5C9"/><rect x="700.71" y="251.86" width="5.85" height="5.84" fill="#C6C5C9"/><rect x="706.54" y="251.86" width="5.85" height="5.84" fill="#FFFFC0"/><rect x="712.37" y="251.86" width="5.85" height="5.84" fill="#C6C5C9"/><rect x="718.20" y="251.86" width="5.85" height="5.84" fill="#C6C5C9"/><rect x="724.03" y="251.86" width="5.85" height="5.84" fill="#C6C5C9"/><rect x="729.86" y="251.86" width="5.85" height="5.84" fill="#C6C5C9"/><rect x="735.69" y="251.86" width="5.85" height="5.84" fill="#FFD21A"/><rect x="741.52" y="251.86" width="5.85" height="5.84" fill="#C6C5C9"/><rect x="747.35" y="251.86" width="5.85" height="5.84" fill="#C6C5C9"/><rect x="753.18" y="251.86" width="5.85" height="5.84" fill="#C6C5C9"/><rect x="759.01" y="251.86" width="5.85" height="5.84" fill="#C6C5C9"/><rect x="764.84" y="251.86" width="5.85" height="5.84" fill="#C6C5C9"/><rect x="770.67" y="251.86" width="5.85" height="5.84" fill="#C6C5C9"/><rect x="485.00" y="257.68" width="5.85" height="5.84" fill="#FAFA12"/><rect x="490.83" y="257.68" width="5.85" height="5.84" fill="#FAFA12"/><rect x="496.66" y="257.68" width="5.85" height="5.84" fill="#FAFA12"/><rect x="502.49" y="257.68" width="5.85" height="5.84" fill="#FFFFC0"/><rect x="508.32" y="257.68" width="5.85" height="5.84" fill="#FAFA12"/><rect x="514.15" y="257.68" width="5.85" height="5.84" fill="#FAFA12"/><rect x="519.98" y="257.68" width="5.85" height="5.84" fill="#FAFA12"/><rect x="525.81" y="257.68" width="5.85" height="5.84" fill="#FFFFC0"/><rect x="531.64" y="257.68" width="5.85" height="5.84" fill="#FAFA12"/><rect x="537.47" y="257.68" width="5.85" height="5.84" fill="#FAFA12"/><rect x="543.30" y="257.68" width="5.85" height="5.84" fill="#FAFA12"/><rect x="549.13" y="257.68" width="5.85" height="5.84" fill="#C6C5C9"/><rect x="554.96" y="257.68" width="5.85" height="5.84" fill="#FFFFC0"/><rect x="560.79" y="257.68" width="5.85" height="5.84" fill="#FFFFC0"/><rect x="566.62" y="257.68" width="5.85" height="5.84" fill="#C6C5C9"/><rect x="572.45" y="257.68" width="5.85" height="5.84" fill="#C6C5C9"/><rect x="578.28" y="257.68" width="5.85" height="5.84" fill="#C6C5C9"/><rect x="584.11" y="257.68" width="5.85" height="5.84" fill="#C6C5C9"/><rect x="589.94" y="257.68" width="5.85" height="5.84" fill="#FFFFC0"/><rect x="595.77" y="257.68" width="5.85" height="5.84" fill="#FFFFC0"/><rect x="601.60" y="257.68" width="5.85" height="5.84" fill="#FAFA12"/><rect x="607.43" y="257.68" width="5.85" height="5.84" fill="#C6C5C9"/><rect x="613.26" y="257.68" width="5.85" height="5.84" fill="#C6C5C9"/><rect x="619.09" y="257.68" width="5.85" height="5.84" fill="#FAFA12"/><rect x="624.92" y="257.68" width="5.85" height="5.84" fill="#FAFA12"/><rect x="630.75" y="257.68" width="5.85" height="5.84" fill="#FAFA12"/><rect x="636.58" y="257.68" width="5.85" height="5.84" fill="#FAFA12"/><rect x="642.41" y="257.68" width="5.85" height="5.84" fill="#FFFFC0"/><rect x="648.24" y="257.68" width="5.85" height="5.84" fill="#FFFFC0"/><rect x="654.07" y="257.68" width="5.85" height="5.84" fill="#C6C5C9"/><rect x="659.90" y="257.68" width="5.85" height="5.84" fill="#C6C5C9"/><rect x="665.73" y="257.68" width="5.85" height="5.84" fill="#C6C5C9"/><rect x="671.56" y="257.68" width="5.85" height="5.84" fill="#C6C5C9"/><rect x="677.39" y="257.68" width="5.85" height="5.84" fill="#C6C5C9"/><rect x="683.22" y="257.68" width="5.85" height="5.84" fill="#C6C5C9"/><rect x="689.05" y="257.68" width="5.85" height="5.84" fill="#C6C5C9"/><rect x="694.88" y="257.68" width="5.85" height="5.84" fill="#C6C5C9"/><rect x="700.71" y="257.68" width="5.85" height="5.84" fill="#C6C5C9"/><rect x="706.54" y="257.68" width="5.85" height="5.84" fill="#FFFFC0"/><rect x="712.37" y="257.68" width="5.85" height="5.84" fill="#C6C5C9"/><rect x="718.20" y="257.68" width="5.85" height="5.84" fill="#C6C5C9"/><rect x="724.03" y="257.68" width="5.85" height="5.84" fill="#C6C5C9"/><rect x="729.86" y="257.68" width="5.85" height="5.84" fill="#C6C5C9"/><rect x="735.69" y="257.68" width="5.85" height="5.84" fill="#FFFFC0"/><rect x="741.52" y="257.68" width="5.85" height="5.84" fill="#FDAA1C"/><rect x="747.35" y="257.68" width="5.85" height="5.84" fill="#00502A"/><rect x="753.18" y="257.68" width="5.85" height="5.84" fill="#00502A"/><rect x="759.01" y="257.68" width="5.85" height="5.84" fill="#C6C5C9"/><rect x="764.84" y="257.68" width="5.85" height="5.84" fill="#00502A"/><rect x="770.67" y="257.68" width="5.85" height="5.84" fill="#00502A"/><rect x="485.00" y="263.50" width="5.85" height="5.84" fill="#FAFA12"/><rect x="490.83" y="263.50" width="5.85" height="5.84" fill="#FAFA12"/><rect x="496.66" y="263.50" width="5.85" height="5.84" fill="#FAFA12"/><rect x="502.49" y="263.50" width="5.85" height="5.84" fill="#FAFA12"/><rect x="508.32" y="263.50" width="5.85" height="5.84" fill="#FAFA12"/><rect x="514.15" y="263.50" width="5.85" height="5.84" fill="#FAFA12"/><rect x="519.98" y="263.50" width="5.85" height="5.84" fill="#FAFA12"/><rect x="525.81" y="263.50" width="5.85" height="5.84" fill="#C6C5C9"/><rect x="531.64" y="263.50" width="5.85" height="5.84" fill="#FAFA12"/><rect x="537.47" y="263.50" width="5.85" height="5.84" fill="#FAFA12"/><rect x="543.30" y="263.50" width="5.85" height="5.84" fill="#C6C5C9"/><rect x="549.13" y="263.50" width="5.85" height="5.84" fill="#C6C5C9"/><rect x="554.96" y="263.50" width="5.85" height="5.84" fill="#C6C5C9"/><rect x="560.79" y="263.50" width="5.85" height="5.84" fill="#C6C5C9"/><rect x="566.62" y="263.50" width="5.85" height="5.84" fill="#C6C5C9"/><rect x="572.45" y="263.50" width="5.85" height="5.84" fill="#FFFFC0"/><rect x="578.28" y="263.50" width="5.85" height="5.84" fill="#C6C5C9"/><rect x="584.11" y="263.50" width="5.85" height="5.84" fill="#C6C5C9"/><rect x="589.94" y="263.50" width="5.85" height="5.84" fill="#C6C5C9"/><rect x="595.77" y="263.50" width="5.85" height="5.84" fill="#FFFFC0"/><rect x="601.60" y="263.50" width="5.85" height="5.84" fill="#FFFFC0"/><rect x="607.43" y="263.50" width="5.85" height="5.84" fill="#C6C5C9"/><rect x="613.26" y="263.50" width="5.85" height="5.84" fill="#FFFFC0"/><rect x="619.09" y="263.50" width="5.85" height="5.84" fill="#C6C5C9"/><rect x="624.92" y="263.50" width="5.85" height="5.84" fill="#FAFA12"/><rect x="630.75" y="263.50" width="5.85" height="5.84" fill="#FAFA12"/><rect x="636.58" y="263.50" width="5.85" height="5.84" fill="#FAFA12"/><rect x="642.41" y="263.50" width="5.85" height="5.84" fill="#C6C5C9"/><rect x="648.24" y="263.50" width="5.85" height="5.84" fill="#C6C5C9"/><rect x="654.07" y="263.50" width="5.85" height="5.84" fill="#C6C5C9"/><rect x="659.90" y="263.50" width="5.85" height="5.84" fill="#C6C5C9"/><rect x="665.73" y="263.50" width="5.85" height="5.84" fill="#FAFA12"/><rect x="671.56" y="263.50" width="5.85" height="5.84" fill="#FFFFC0"/><rect x="677.39" y="263.50" width="5.85" height="5.84" fill="#FFFFC0"/><rect x="683.22" y="263.50" width="5.85" height="5.84" fill="#C6C5C9"/><rect x="689.05" y="263.50" width="5.85" height="5.84" fill="#FFFFC0"/><rect x="694.88" y="263.50" width="5.85" height="5.84" fill="#C6C5C9"/><rect x="700.71" y="263.50" width="5.85" height="5.84" fill="#C6C5C9"/><rect x="706.54" y="263.50" width="5.85" height="5.84" fill="#C6C5C9"/><rect x="712.37" y="263.50" width="5.85" height="5.84" fill="#C6C5C9"/><rect x="718.20" y="263.50" width="5.85" height="5.84" fill="#C6C5C9"/><rect x="724.03" y="263.50" width="5.85" height="5.84" fill="#C6C5C9"/><rect x="729.86" y="263.50" width="5.85" height="5.84" fill="#C6C5C9"/><rect x="735.69" y="263.50" width="5.85" height="5.84" fill="#C6C5C9"/><rect x="741.52" y="263.50" width="5.85" height="5.84" fill="#FAFA12"/><rect x="747.35" y="263.50" width="5.85" height="5.84" fill="#FDAA1C"/><rect x="753.18" y="263.50" width="5.85" height="5.84" fill="#C6C5C9"/><rect x="759.01" y="263.50" width="5.85" height="5.84" fill="#C6C5C9"/><rect x="764.84" y="263.50" width="5.85" height="5.84" fill="#00502A"/><rect x="770.67" y="263.50" width="5.85" height="5.84" fill="#3DA35A"/><rect x="485.00" y="269.32" width="5.85" height="5.84" fill="#FAFA12"/><rect x="490.83" y="269.32" width="5.85" height="5.84" fill="#FAFA12"/><rect x="496.66" y="269.32" width="5.85" height="5.84" fill="#FAFA12"/><rect x="502.49" y="269.32" width="5.85" height="5.84" fill="#FAFA12"/><rect x="508.32" y="269.32" width="5.85" height="5.84" fill="#FAFA12"/><rect x="514.15" y="269.32" width="5.85" height="5.84" fill="#FAFA12"/><rect x="519.98" y="269.32" width="5.85" height="5.84" fill="#FFFFC0"/><rect x="525.81" y="269.32" width="5.85" height="5.84" fill="#FAFA12"/><rect x="531.64" y="269.32" width="5.85" height="5.84" fill="#FAFA12"/><rect x="537.47" y="269.32" width="5.85" height="5.84" fill="#C6C5C9"/><rect x="543.30" y="269.32" width="5.85" height="5.84" fill="#FFFFC0"/><rect x="549.13" y="269.32" width="5.85" height="5.84" fill="#C6C5C9"/><rect x="554.96" y="269.32" width="5.85" height="5.84" fill="#FFFFC0"/><rect x="560.79" y="269.32" width="5.85" height="5.84" fill="#FAFA12"/><rect x="566.62" y="269.32" width="5.85" height="5.84" fill="#C6C5C9"/><rect x="572.45" y="269.32" width="5.85" height="5.84" fill="#FFFFC0"/><rect x="578.28" y="269.32" width="5.85" height="5.84" fill="#FFFFC0"/><rect x="584.11" y="269.32" width="5.85" height="5.84" fill="#FFFFC0"/><rect x="589.94" y="269.32" width="5.85" height="5.84" fill="#FAFA12"/><rect x="595.77" y="269.32" width="5.85" height="5.84" fill="#C6C5C9"/><rect x="601.60" y="269.32" width="5.85" height="5.84" fill="#C6C5C9"/><rect x="607.43" y="269.32" width="5.85" height="5.84" fill="#FAFA12"/><rect x="613.26" y="269.32" width="5.85" height="5.84" fill="#C6C5C9"/><rect x="619.09" y="269.32" width="5.85" height="5.84" fill="#FFFFC0"/><rect x="624.92" y="269.32" width="5.85" height="5.84" fill="#FFFFC0"/><rect x="630.75" y="269.32" width="5.85" height="5.84" fill="#C6C5C9"/><rect x="636.58" y="269.32" width="5.85" height="5.84" fill="#FFFFC0"/><rect x="642.41" y="269.32" width="5.85" height="5.84" fill="#FFFFC0"/><rect x="648.24" y="269.32" width="5.85" height="5.84" fill="#FAFA12"/><rect x="654.07" y="269.32" width="5.85" height="5.84" fill="#C6C5C9"/><rect x="659.90" y="269.32" width="5.85" height="5.84" fill="#C6C5C9"/><rect x="665.73" y="269.32" width="5.85" height="5.84" fill="#C6C5C9"/><rect x="671.56" y="269.32" width="5.85" height="5.84" fill="#C6C5C9"/><rect x="677.39" y="269.32" width="5.85" height="5.84" fill="#C6C5C9"/><rect x="683.22" y="269.32" width="5.85" height="5.84" fill="#C6C5C9"/><rect x="689.05" y="269.32" width="5.85" height="5.84" fill="#C6C5C9"/><rect x="694.88" y="269.32" width="5.85" height="5.84" fill="#C6C5C9"/><rect x="700.71" y="269.32" width="5.85" height="5.84" fill="#C6C5C9"/><rect x="706.54" y="269.32" width="5.85" height="5.84" fill="#C6C5C9"/><rect x="712.37" y="269.32" width="5.85" height="5.84" fill="#C6C5C9"/><rect x="718.20" y="269.32" width="5.85" height="5.84" fill="#C6C5C9"/><rect x="724.03" y="269.32" width="5.85" height="5.84" fill="#C6C5C9"/><rect x="729.86" y="269.32" width="5.85" height="5.84" fill="#C6C5C9"/><rect x="735.69" y="269.32" width="5.85" height="5.84" fill="#C6C5C9"/><rect x="741.52" y="269.32" width="5.85" height="5.84" fill="#FFFFC0"/><rect x="747.35" y="269.32" width="5.85" height="5.84" fill="#C6C5C9"/><rect x="753.18" y="269.32" width="5.85" height="5.84" fill="#FDAA1C"/><rect x="759.01" y="269.32" width="5.85" height="5.84" fill="#00502A"/><rect x="764.84" y="269.32" width="5.85" height="5.84" fill="#00502A"/><rect x="770.67" y="269.32" width="5.85" height="5.84" fill="#00502A"/><rect x="485.00" y="275.14" width="5.85" height="5.84" fill="#FAFA12"/><rect x="490.83" y="275.14" width="5.85" height="5.84" fill="#FAFA12"/><rect x="496.66" y="275.14" width="5.85" height="5.84" fill="#FAFA12"/><rect x="502.49" y="275.14" width="5.85" height="5.84" fill="#FAFA12"/><rect x="508.32" y="275.14" width="5.85" height="5.84" fill="#FFFFC0"/><rect x="514.15" y="275.14" width="5.85" height="5.84" fill="#C6C5C9"/><rect x="519.98" y="275.14" width="5.85" height="5.84" fill="#FAFA12"/><rect x="525.81" y="275.14" width="5.85" height="5.84" fill="#FAFA12"/><rect x="531.64" y="275.14" width="5.85" height="5.84" fill="#FFFFC0"/><rect x="537.47" y="275.14" width="5.85" height="5.84" fill="#C6C5C9"/><rect x="543.30" y="275.14" width="5.85" height="5.84" fill="#C6C5C9"/><rect x="549.13" y="275.14" width="5.85" height="5.84" fill="#C6C5C9"/><rect x="554.96" y="275.14" width="5.85" height="5.84" fill="#C6C5C9"/><rect x="560.79" y="275.14" width="5.85" height="5.84" fill="#C6C5C9"/><rect x="566.62" y="275.14" width="5.85" height="5.84" fill="#FAFA12"/><rect x="572.45" y="275.14" width="5.85" height="5.84" fill="#C6C5C9"/><rect x="578.28" y="275.14" width="5.85" height="5.84" fill="#C6C5C9"/><rect x="584.11" y="275.14" width="5.85" height="5.84" fill="#C6C5C9"/><rect x="589.94" y="275.14" width="5.85" height="5.84" fill="#FFFFC0"/><rect x="595.77" y="275.14" width="5.85" height="5.84" fill="#C6C5C9"/><rect x="601.60" y="275.14" width="5.85" height="5.84" fill="#FFFFC0"/><rect x="607.43" y="275.14" width="5.85" height="5.84" fill="#C6C5C9"/><rect x="613.26" y="275.14" width="5.85" height="5.84" fill="#C6C5C9"/><rect x="619.09" y="275.14" width="5.85" height="5.84" fill="#C6C5C9"/><rect x="624.92" y="275.14" width="5.85" height="5.84" fill="#C6C5C9"/><rect x="630.75" y="275.14" width="5.85" height="5.84" fill="#FFFFC0"/><rect x="636.58" y="275.14" width="5.85" height="5.84" fill="#C6C5C9"/><rect x="642.41" y="275.14" width="5.85" height="5.84" fill="#C6C5C9"/><rect x="648.24" y="275.14" width="5.85" height="5.84" fill="#C6C5C9"/><rect x="654.07" y="275.14" width="5.85" height="5.84" fill="#C6C5C9"/><rect x="659.90" y="275.14" width="5.85" height="5.84" fill="#C6C5C9"/><rect x="665.73" y="275.14" width="5.85" height="5.84" fill="#C6C5C9"/><rect x="671.56" y="275.14" width="5.85" height="5.84" fill="#C6C5C9"/><rect x="677.39" y="275.14" width="5.85" height="5.84" fill="#C6C5C9"/><rect x="683.22" y="275.14" width="5.85" height="5.84" fill="#C6C5C9"/><rect x="689.05" y="275.14" width="5.85" height="5.84" fill="#C6C5C9"/><rect x="694.88" y="275.14" width="5.85" height="5.84" fill="#C6C5C9"/><rect x="700.71" y="275.14" width="5.85" height="5.84" fill="#FFFFC0"/><rect x="706.54" y="275.14" width="5.85" height="5.84" fill="#C6C5C9"/><rect x="712.37" y="275.14" width="5.85" height="5.84" fill="#C6C5C9"/><rect x="718.20" y="275.14" width="5.85" height="5.84" fill="#C6C5C9"/><rect x="724.03" y="275.14" width="5.85" height="5.84" fill="#C6C5C9"/><rect x="729.86" y="275.14" width="5.85" height="5.84" fill="#C6C5C9"/><rect x="735.69" y="275.14" width="5.85" height="5.84" fill="#C6C5C9"/><rect x="741.52" y="275.14" width="5.85" height="5.84" fill="#C6C5C9"/><rect x="747.35" y="275.14" width="5.85" height="5.84" fill="#C6C5C9"/><rect x="753.18" y="275.14" width="5.85" height="5.84" fill="#FFFFC0"/><rect x="759.01" y="275.14" width="5.85" height="5.84" fill="#F6A24A"/><rect x="764.84" y="275.14" width="5.85" height="5.84" fill="#C6C5C9"/><rect x="770.67" y="275.14" width="5.85" height="5.84" fill="#00502A"/><rect x="485.00" y="280.96" width="5.85" height="5.84" fill="#FDAA1C"/><rect x="490.83" y="280.96" width="5.85" height="5.84" fill="#FDAA1C"/><rect x="496.66" y="280.96" width="5.85" height="5.84" fill="#FFD21A"/><rect x="502.49" y="280.96" width="5.85" height="5.84" fill="#FFD21A"/><rect x="508.32" y="280.96" width="5.85" height="5.84" fill="#FFD21A"/><rect x="514.15" y="280.96" width="5.85" height="5.84" fill="#FAFA12"/><rect x="519.98" y="280.96" width="5.85" height="5.84" fill="#FAFA12"/><rect x="525.81" y="280.96" width="5.85" height="5.84" fill="#FAFA12"/><rect x="531.64" y="280.96" width="5.85" height="5.84" fill="#FAFA12"/><rect x="537.47" y="280.96" width="5.85" height="5.84" fill="#FAFA12"/><rect x="543.30" y="280.96" width="5.85" height="5.84" fill="#FAFA12"/><rect x="549.13" y="280.96" width="5.85" height="5.84" fill="#FAFA12"/><rect x="554.96" y="280.96" width="5.85" height="5.84" fill="#FFFFC0"/><rect x="560.79" y="280.96" width="5.85" height="5.84" fill="#FFFFC0"/><rect x="566.62" y="280.96" width="5.85" height="5.84" fill="#FFFFC0"/><rect x="572.45" y="280.96" width="5.85" height="5.84" fill="#FFFFC0"/><rect x="578.28" y="280.96" width="5.85" height="5.84" fill="#FAFA12"/><rect x="584.11" y="280.96" width="5.85" height="5.84" fill="#C6C5C9"/><rect x="589.94" y="280.96" width="5.85" height="5.84" fill="#FFFFC0"/><rect x="595.77" y="280.96" width="5.85" height="5.84" fill="#FFFFC0"/><rect x="601.60" y="280.96" width="5.85" height="5.84" fill="#FAFA12"/><rect x="607.43" y="280.96" width="5.85" height="5.84" fill="#FFD21A"/><rect x="613.26" y="280.96" width="5.85" height="5.84" fill="#FFD21A"/><rect x="619.09" y="280.96" width="5.85" height="5.84" fill="#FAFA12"/><rect x="624.92" y="280.96" width="5.85" height="5.84" fill="#FAFA12"/><rect x="630.75" y="280.96" width="5.85" height="5.84" fill="#FAFA12"/><rect x="636.58" y="280.96" width="5.85" height="5.84" fill="#FAFA12"/><rect x="642.41" y="280.96" width="5.85" height="5.84" fill="#FAFA12"/><rect x="648.24" y="280.96" width="5.85" height="5.84" fill="#FAFA12"/><rect x="654.07" y="280.96" width="5.85" height="5.84" fill="#FFFFC0"/><rect x="659.90" y="280.96" width="5.85" height="5.84" fill="#FAFA12"/><rect x="665.73" y="280.96" width="5.85" height="5.84" fill="#FFFFC0"/><rect x="671.56" y="280.96" width="5.85" height="5.84" fill="#FAFA12"/><rect x="677.39" y="280.96" width="5.85" height="5.84" fill="#FFFFC0"/><rect x="683.22" y="280.96" width="5.85" height="5.84" fill="#C6C5C9"/><rect x="689.05" y="280.96" width="5.85" height="5.84" fill="#FAFA12"/><rect x="694.88" y="280.96" width="5.85" height="5.84" fill="#FFFFC0"/><rect x="700.71" y="280.96" width="5.85" height="5.84" fill="#FAFA12"/><rect x="706.54" y="280.96" width="5.85" height="5.84" fill="#FFFFC0"/><rect x="712.37" y="280.96" width="5.85" height="5.84" fill="#C6C5C9"/><rect x="718.20" y="280.96" width="5.85" height="5.84" fill="#C6C5C9"/><rect x="724.03" y="280.96" width="5.85" height="5.84" fill="#C6C5C9"/><rect x="729.86" y="280.96" width="5.85" height="5.84" fill="#C6C5C9"/><rect x="735.69" y="280.96" width="5.85" height="5.84" fill="#C6C5C9"/><rect x="741.52" y="280.96" width="5.85" height="5.84" fill="#FAFA12"/><rect x="747.35" y="280.96" width="5.85" height="5.84" fill="#FAFA12"/><rect x="753.18" y="280.96" width="5.85" height="5.84" fill="#FAFA12"/><rect x="759.01" y="280.96" width="5.85" height="5.84" fill="#C6C5C9"/><rect x="764.84" y="280.96" width="5.85" height="5.84" fill="#F04A14"/><rect x="770.67" y="280.96" width="5.85" height="5.84" fill="#00502A"/><rect x="485.00" y="286.78" width="5.85" height="5.84" fill="#FDAA1C"/><rect x="490.83" y="286.78" width="5.85" height="5.84" fill="#FFD21A"/><rect x="496.66" y="286.78" width="5.85" height="5.84" fill="#FAFA12"/><rect x="502.49" y="286.78" width="5.85" height="5.84" fill="#FFD21A"/><rect x="508.32" y="286.78" width="5.85" height="5.84" fill="#FAFA12"/><rect x="514.15" y="286.78" width="5.85" height="5.84" fill="#FAFA12"/><rect x="519.98" y="286.78" width="5.85" height="5.84" fill="#FAFA12"/><rect x="525.81" y="286.78" width="5.85" height="5.84" fill="#FAFA12"/><rect x="531.64" y="286.78" width="5.85" height="5.84" fill="#FAFA12"/><rect x="537.47" y="286.78" width="5.85" height="5.84" fill="#FAFA12"/><rect x="543.30" y="286.78" width="5.85" height="5.84" fill="#FFD21A"/><rect x="549.13" y="286.78" width="5.85" height="5.84" fill="#FAFA12"/><rect x="554.96" y="286.78" width="5.85" height="5.84" fill="#FFFFC0"/><rect x="560.79" y="286.78" width="5.85" height="5.84" fill="#FAFA12"/><rect x="566.62" y="286.78" width="5.85" height="5.84" fill="#FFFFC0"/><rect x="572.45" y="286.78" width="5.85" height="5.84" fill="#FAFA12"/><rect x="578.28" y="286.78" width="5.85" height="5.84" fill="#C6C5C9"/><rect x="584.11" y="286.78" width="5.85" height="5.84" fill="#C6C5C9"/><rect x="589.94" y="286.78" width="5.85" height="5.84" fill="#FAFA12"/><rect x="595.77" y="286.78" width="5.85" height="5.84" fill="#FFFFC0"/><rect x="601.60" y="286.78" width="5.85" height="5.84" fill="#FAFA12"/><rect x="607.43" y="286.78" width="5.85" height="5.84" fill="#FFD21A"/><rect x="613.26" y="286.78" width="5.85" height="5.84" fill="#FFD21A"/><rect x="619.09" y="286.78" width="5.85" height="5.84" fill="#FAFA12"/><rect x="624.92" y="286.78" width="5.85" height="5.84" fill="#FAFA12"/><rect x="630.75" y="286.78" width="5.85" height="5.84" fill="#FAFA12"/><rect x="636.58" y="286.78" width="5.85" height="5.84" fill="#FAFA12"/><rect x="642.41" y="286.78" width="5.85" height="5.84" fill="#FFFFC0"/><rect x="648.24" y="286.78" width="5.85" height="5.84" fill="#FAFA12"/><rect x="654.07" y="286.78" width="5.85" height="5.84" fill="#C6C5C9"/><rect x="659.90" y="286.78" width="5.85" height="5.84" fill="#C6C5C9"/><rect x="665.73" y="286.78" width="5.85" height="5.84" fill="#C6C5C9"/><rect x="671.56" y="286.78" width="5.85" height="5.84" fill="#C6C5C9"/><rect x="677.39" y="286.78" width="5.85" height="5.84" fill="#FFFFC0"/><rect x="683.22" y="286.78" width="5.85" height="5.84" fill="#FFFFC0"/><rect x="689.05" y="286.78" width="5.85" height="5.84" fill="#C6C5C9"/><rect x="694.88" y="286.78" width="5.85" height="5.84" fill="#C6C5C9"/><rect x="700.71" y="286.78" width="5.85" height="5.84" fill="#FAFA12"/><rect x="706.54" y="286.78" width="5.85" height="5.84" fill="#C6C5C9"/><rect x="712.37" y="286.78" width="5.85" height="5.84" fill="#C6C5C9"/><rect x="718.20" y="286.78" width="5.85" height="5.84" fill="#C6C5C9"/><rect x="724.03" y="286.78" width="5.85" height="5.84" fill="#FFFFC0"/><rect x="729.86" y="286.78" width="5.85" height="5.84" fill="#C6C5C9"/><rect x="735.69" y="286.78" width="5.85" height="5.84" fill="#FFFFC0"/><rect x="741.52" y="286.78" width="5.85" height="5.84" fill="#FAFA12"/><rect x="747.35" y="286.78" width="5.85" height="5.84" fill="#FAFA12"/><rect x="753.18" y="286.78" width="5.85" height="5.84" fill="#FAFA12"/><rect x="759.01" y="286.78" width="5.85" height="5.84" fill="#FFFFC0"/><rect x="764.84" y="286.78" width="5.85" height="5.84" fill="#FFD21A"/><rect x="770.67" y="286.78" width="5.85" height="5.84" fill="#F04A14"/><line x1="490.83" y1="1.6" x2="490.83" y2="292.60" stroke="#fff" stroke-width="0.9" stroke-opacity="0.38"/><line x1="485.0" y1="7.42" x2="776.50" y2="7.42" stroke="#fff" stroke-width="0.9" stroke-opacity="0.38"/><line x1="496.66" y1="1.6" x2="496.66" y2="292.60" stroke="#fff" stroke-width="0.9" stroke-opacity="0.38"/><line x1="485.0" y1="13.24" x2="776.50" y2="13.24" stroke="#fff" stroke-width="0.9" stroke-opacity="0.38"/><line x1="502.49" y1="1.6" x2="502.49" y2="292.60" stroke="#fff" stroke-width="0.9" stroke-opacity="0.38"/><line x1="485.0" y1="19.06" x2="776.50" y2="19.06" stroke="#fff" stroke-width="0.9" stroke-opacity="0.38"/><line x1="508.32" y1="1.6" x2="508.32" y2="292.60" stroke="#fff" stroke-width="0.9" stroke-opacity="0.38"/><line x1="485.0" y1="24.88" x2="776.50" y2="24.88" stroke="#fff" stroke-width="0.9" stroke-opacity="0.38"/><line x1="514.15" y1="1.6" x2="514.15" y2="292.60" stroke="#fff" stroke-width="0.9" stroke-opacity="0.38"/><line x1="485.0" y1="30.70" x2="776.50" y2="30.70" stroke="#fff" stroke-width="0.9" stroke-opacity="0.38"/><line x1="519.98" y1="1.6" x2="519.98" y2="292.60" stroke="#fff" stroke-width="0.9" stroke-opacity="0.38"/><line x1="485.0" y1="36.52" x2="776.50" y2="36.52" stroke="#fff" stroke-width="0.9" stroke-opacity="0.38"/><line x1="525.81" y1="1.6" x2="525.81" y2="292.60" stroke="#fff" stroke-width="0.9" stroke-opacity="0.38"/><line x1="485.0" y1="42.34" x2="776.50" y2="42.34" stroke="#fff" stroke-width="0.9" stroke-opacity="0.38"/><line x1="531.64" y1="1.6" x2="531.64" y2="292.60" stroke="#fff" stroke-width="0.9" stroke-opacity="0.38"/><line x1="485.0" y1="48.16" x2="776.50" y2="48.16" stroke="#fff" stroke-width="0.9" stroke-opacity="0.38"/><line x1="537.47" y1="1.6" x2="537.47" y2="292.60" stroke="#fff" stroke-width="0.9" stroke-opacity="0.38"/><line x1="485.0" y1="53.98" x2="776.50" y2="53.98" stroke="#fff" stroke-width="0.9" stroke-opacity="0.38"/><line x1="543.30" y1="1.6" x2="543.30" y2="292.60" stroke="#fff" stroke-width="0.9" stroke-opacity="0.38"/><line x1="485.0" y1="59.80" x2="776.50" y2="59.80" stroke="#fff" stroke-width="0.9" stroke-opacity="0.38"/><line x1="549.13" y1="1.6" x2="549.13" y2="292.60" stroke="#fff" stroke-width="0.9" stroke-opacity="0.38"/><line x1="485.0" y1="65.62" x2="776.50" y2="65.62" stroke="#fff" stroke-width="0.9" stroke-opacity="0.38"/><line x1="554.96" y1="1.6" x2="554.96" y2="292.60" stroke="#fff" stroke-width="0.9" stroke-opacity="0.38"/><line x1="485.0" y1="71.44" x2="776.50" y2="71.44" stroke="#fff" stroke-width="0.9" stroke-opacity="0.38"/><line x1="560.79" y1="1.6" x2="560.79" y2="292.60" stroke="#fff" stroke-width="0.9" stroke-opacity="0.38"/><line x1="485.0" y1="77.26" x2="776.50" y2="77.26" stroke="#fff" stroke-width="0.9" stroke-opacity="0.38"/><line x1="566.62" y1="1.6" x2="566.62" y2="292.60" stroke="#fff" stroke-width="0.9" stroke-opacity="0.38"/><line x1="485.0" y1="83.08" x2="776.50" y2="83.08" stroke="#fff" stroke-width="0.9" stroke-opacity="0.38"/><line x1="572.45" y1="1.6" x2="572.45" y2="292.60" stroke="#fff" stroke-width="0.9" stroke-opacity="0.38"/><line x1="485.0" y1="88.90" x2="776.50" y2="88.90" stroke="#fff" stroke-width="0.9" stroke-opacity="0.38"/><line x1="578.28" y1="1.6" x2="578.28" y2="292.60" stroke="#fff" stroke-width="0.9" stroke-opacity="0.38"/><line x1="485.0" y1="94.72" x2="776.50" y2="94.72" stroke="#fff" stroke-width="0.9" stroke-opacity="0.38"/><line x1="584.11" y1="1.6" x2="584.11" y2="292.60" stroke="#fff" stroke-width="0.9" stroke-opacity="0.38"/><line x1="485.0" y1="100.54" x2="776.50" y2="100.54" stroke="#fff" stroke-width="0.9" stroke-opacity="0.38"/><line x1="589.94" y1="1.6" x2="589.94" y2="292.60" stroke="#fff" stroke-width="0.9" stroke-opacity="0.38"/><line x1="485.0" y1="106.36" x2="776.50" y2="106.36" stroke="#fff" stroke-width="0.9" stroke-opacity="0.38"/><line x1="595.77" y1="1.6" x2="595.77" y2="292.60" stroke="#fff" stroke-width="0.9" stroke-opacity="0.38"/><line x1="485.0" y1="112.18" x2="776.50" y2="112.18" stroke="#fff" stroke-width="0.9" stroke-opacity="0.38"/><line x1="601.60" y1="1.6" x2="601.60" y2="292.60" stroke="#fff" stroke-width="0.9" stroke-opacity="0.38"/><line x1="485.0" y1="118.00" x2="776.50" y2="118.00" stroke="#fff" stroke-width="0.9" stroke-opacity="0.38"/><line x1="607.43" y1="1.6" x2="607.43" y2="292.60" stroke="#fff" stroke-width="0.9" stroke-opacity="0.38"/><line x1="485.0" y1="123.82" x2="776.50" y2="123.82" stroke="#fff" stroke-width="0.9" stroke-opacity="0.38"/><line x1="613.26" y1="1.6" x2="613.26" y2="292.60" stroke="#fff" stroke-width="0.9" stroke-opacity="0.38"/><line x1="485.0" y1="129.64" x2="776.50" y2="129.64" stroke="#fff" stroke-width="0.9" stroke-opacity="0.38"/><line x1="619.09" y1="1.6" x2="619.09" y2="292.60" stroke="#fff" stroke-width="0.9" stroke-opacity="0.38"/><line x1="485.0" y1="135.46" x2="776.50" y2="135.46" stroke="#fff" stroke-width="0.9" stroke-opacity="0.38"/><line x1="624.92" y1="1.6" x2="624.92" y2="292.60" stroke="#fff" stroke-width="0.9" stroke-opacity="0.38"/><line x1="485.0" y1="141.28" x2="776.50" y2="141.28" stroke="#fff" stroke-width="0.9" stroke-opacity="0.38"/><line x1="630.75" y1="1.6" x2="630.75" y2="292.60" stroke="#fff" stroke-width="0.9" stroke-opacity="0.38"/><line x1="485.0" y1="147.10" x2="776.50" y2="147.10" stroke="#fff" stroke-width="0.9" stroke-opacity="0.38"/><line x1="636.58" y1="1.6" x2="636.58" y2="292.60" stroke="#fff" stroke-width="0.9" stroke-opacity="0.38"/><line x1="485.0" y1="152.92" x2="776.50" y2="152.92" stroke="#fff" stroke-width="0.9" stroke-opacity="0.38"/><line x1="642.41" y1="1.6" x2="642.41" y2="292.60" stroke="#fff" stroke-width="0.9" stroke-opacity="0.38"/><line x1="485.0" y1="158.74" x2="776.50" y2="158.74" stroke="#fff" stroke-width="0.9" stroke-opacity="0.38"/><line x1="648.24" y1="1.6" x2="648.24" y2="292.60" stroke="#fff" stroke-width="0.9" stroke-opacity="0.38"/><line x1="485.0" y1="164.56" x2="776.50" y2="164.56" stroke="#fff" stroke-width="0.9" stroke-opacity="0.38"/><line x1="654.07" y1="1.6" x2="654.07" y2="292.60" stroke="#fff" stroke-width="0.9" stroke-opacity="0.38"/><line x1="485.0" y1="170.38" x2="776.50" y2="170.38" stroke="#fff" stroke-width="0.9" stroke-opacity="0.38"/><line x1="659.90" y1="1.6" x2="659.90" y2="292.60" stroke="#fff" stroke-width="0.9" stroke-opacity="0.38"/><line x1="485.0" y1="176.20" x2="776.50" y2="176.20" stroke="#fff" stroke-width="0.9" stroke-opacity="0.38"/><line x1="665.73" y1="1.6" x2="665.73" y2="292.60" stroke="#fff" stroke-width="0.9" stroke-opacity="0.38"/><line x1="485.0" y1="182.02" x2="776.50" y2="182.02" stroke="#fff" stroke-width="0.9" stroke-opacity="0.38"/><line x1="671.56" y1="1.6" x2="671.56" y2="292.60" stroke="#fff" stroke-width="0.9" stroke-opacity="0.38"/><line x1="485.0" y1="187.84" x2="776.50" y2="187.84" stroke="#fff" stroke-width="0.9" stroke-opacity="0.38"/><line x1="677.39" y1="1.6" x2="677.39" y2="292.60" stroke="#fff" stroke-width="0.9" stroke-opacity="0.38"/><line x1="485.0" y1="193.66" x2="776.50" y2="193.66" stroke="#fff" stroke-width="0.9" stroke-opacity="0.38"/><line x1="683.22" y1="1.6" x2="683.22" y2="292.60" stroke="#fff" stroke-width="0.9" stroke-opacity="0.38"/><line x1="485.0" y1="199.48" x2="776.50" y2="199.48" stroke="#fff" stroke-width="0.9" stroke-opacity="0.38"/><line x1="689.05" y1="1.6" x2="689.05" y2="292.60" stroke="#fff" stroke-width="0.9" stroke-opacity="0.38"/><line x1="485.0" y1="205.30" x2="776.50" y2="205.30" stroke="#fff" stroke-width="0.9" stroke-opacity="0.38"/><line x1="694.88" y1="1.6" x2="694.88" y2="292.60" stroke="#fff" stroke-width="0.9" stroke-opacity="0.38"/><line x1="485.0" y1="211.12" x2="776.50" y2="211.12" stroke="#fff" stroke-width="0.9" stroke-opacity="0.38"/><line x1="700.71" y1="1.6" x2="700.71" y2="292.60" stroke="#fff" stroke-width="0.9" stroke-opacity="0.38"/><line x1="485.0" y1="216.94" x2="776.50" y2="216.94" stroke="#fff" stroke-width="0.9" stroke-opacity="0.38"/><line x1="706.54" y1="1.6" x2="706.54" y2="292.60" stroke="#fff" stroke-width="0.9" stroke-opacity="0.38"/><line x1="485.0" y1="222.76" x2="776.50" y2="222.76" stroke="#fff" stroke-width="0.9" stroke-opacity="0.38"/><line x1="712.37" y1="1.6" x2="712.37" y2="292.60" stroke="#fff" stroke-width="0.9" stroke-opacity="0.38"/><line x1="485.0" y1="228.58" x2="776.50" y2="228.58" stroke="#fff" stroke-width="0.9" stroke-opacity="0.38"/><line x1="718.20" y1="1.6" x2="718.20" y2="292.60" stroke="#fff" stroke-width="0.9" stroke-opacity="0.38"/><line x1="485.0" y1="234.40" x2="776.50" y2="234.40" stroke="#fff" stroke-width="0.9" stroke-opacity="0.38"/><line x1="724.03" y1="1.6" x2="724.03" y2="292.60" stroke="#fff" stroke-width="0.9" stroke-opacity="0.38"/><line x1="485.0" y1="240.22" x2="776.50" y2="240.22" stroke="#fff" stroke-width="0.9" stroke-opacity="0.38"/><line x1="729.86" y1="1.6" x2="729.86" y2="292.60" stroke="#fff" stroke-width="0.9" stroke-opacity="0.38"/><line x1="485.0" y1="246.04" x2="776.50" y2="246.04" stroke="#fff" stroke-width="0.9" stroke-opacity="0.38"/><line x1="735.69" y1="1.6" x2="735.69" y2="292.60" stroke="#fff" stroke-width="0.9" stroke-opacity="0.38"/><line x1="485.0" y1="251.86" x2="776.50" y2="251.86" stroke="#fff" stroke-width="0.9" stroke-opacity="0.38"/><line x1="741.52" y1="1.6" x2="741.52" y2="292.60" stroke="#fff" stroke-width="0.9" stroke-opacity="0.38"/><line x1="485.0" y1="257.68" x2="776.50" y2="257.68" stroke="#fff" stroke-width="0.9" stroke-opacity="0.38"/><line x1="747.35" y1="1.6" x2="747.35" y2="292.60" stroke="#fff" stroke-width="0.9" stroke-opacity="0.38"/><line x1="485.0" y1="263.50" x2="776.50" y2="263.50" stroke="#fff" stroke-width="0.9" stroke-opacity="0.38"/><line x1="753.18" y1="1.6" x2="753.18" y2="292.60" stroke="#fff" stroke-width="0.9" stroke-opacity="0.38"/><line x1="485.0" y1="269.32" x2="776.50" y2="269.32" stroke="#fff" stroke-width="0.9" stroke-opacity="0.38"/><line x1="759.01" y1="1.6" x2="759.01" y2="292.60" stroke="#fff" stroke-width="0.9" stroke-opacity="0.38"/><line x1="485.0" y1="275.14" x2="776.50" y2="275.14" stroke="#fff" stroke-width="0.9" stroke-opacity="0.38"/><line x1="764.84" y1="1.6" x2="764.84" y2="292.60" stroke="#fff" stroke-width="0.9" stroke-opacity="0.38"/><line x1="485.0" y1="280.96" x2="776.50" y2="280.96" stroke="#fff" stroke-width="0.9" stroke-opacity="0.38"/><line x1="770.67" y1="1.6" x2="770.67" y2="292.60" stroke="#fff" stroke-width="0.9" stroke-opacity="0.38"/><line x1="485.0" y1="286.78" x2="776.50" y2="286.78" stroke="#fff" stroke-width="0.9" stroke-opacity="0.38"/><polygon points="493.75,8.23 494.33,9.72 495.93,9.82 494.70,10.84 495.10,12.39 493.75,11.53 492.39,12.39 492.79,10.84 491.56,9.82 493.16,9.72" fill="#2a0d00"/><polygon points="505.41,19.87 505.99,21.36 507.59,21.46 506.36,22.48 506.76,24.03 505.41,23.17 504.05,24.03 504.45,22.48 503.22,21.46 504.82,21.36" fill="#2a0d00"/><polygon points="528.72,43.15 529.31,44.64 530.91,44.74 529.68,45.76 530.08,47.31 528.72,46.45 527.37,47.31 527.77,45.76 526.54,44.74 528.14,44.64" fill="#2a0d00"/><polygon points="540.38,54.79 540.97,56.28 542.57,56.38 541.34,57.40 541.74,58.95 540.38,58.09 539.03,58.95 539.43,57.40 538.20,56.38 539.80,56.28" fill="#2a0d00"/><polygon points="569.53,83.89 570.12,85.38 571.72,85.48 570.49,86.50 570.89,88.05 569.53,87.19 568.18,88.05 568.58,86.50 567.35,85.48 568.95,85.38" fill="#2a0d00"/><polygon points="575.37,89.71 575.95,91.20 577.55,91.30 576.32,92.32 576.72,93.87 575.37,93.01 574.01,93.87 574.41,92.32 573.18,91.30 574.78,91.20" fill="#2a0d00"/><polygon points="581.19,95.53 581.78,97.02 583.38,97.12 582.15,98.14 582.55,99.69 581.19,98.83 579.84,99.69 580.24,98.14 579.01,97.12 580.61,97.02" fill="#2a0d00"/><polygon points="622.00,136.27 622.59,137.76 624.19,137.86 622.96,138.88 623.36,140.43 622.00,139.57 620.65,140.43 621.05,138.88 619.82,137.86 621.42,137.76" fill="#2a0d00"/><polygon points="703.62,217.75 704.21,219.24 705.81,219.34 704.58,220.36 704.98,221.91 703.62,221.05 702.27,221.91 702.67,220.36 701.44,219.34 703.04,219.24" fill="#2a0d00"/><polygon points="732.77,246.85 733.36,248.34 734.96,248.44 733.73,249.46 734.13,251.01 732.77,250.15 731.42,251.01 731.82,249.46 730.59,248.44 732.19,248.34" fill="#2a0d00"/><polygon points="738.61,252.67 739.19,254.16 740.79,254.26 739.56,255.28 739.96,256.83 738.61,255.97 737.25,256.83 737.65,255.28 736.42,254.26 738.02,254.16" fill="#2a0d00"/><polygon points="761.92,275.95 762.51,277.44 764.11,277.54 762.88,278.56 763.28,280.11 761.92,279.25 760.57,280.11 760.97,278.56 759.74,277.54 761.34,277.44" fill="#2a0d00"/><polygon points="767.75,281.77 768.34,283.26 769.94,283.36 768.71,284.38 769.11,285.93 767.75,285.07 766.40,285.93 766.80,284.38 765.57,283.36 767.17,283.26" fill="#2a0d00"/><rect x="485.0" y="1.30" width="291.50" height="291.30" fill="none" stroke="#333" stroke-width="1"/><line x1="475.2" y1="4.51" x2="485.0" y2="4.51" stroke="#222" stroke-width="1"/><text x="466.1" y="7.41" font-family='"Liberation Sans", sans-serif' font-size="8" text-anchor="end" fill="#222" stroke="#222" stroke-width="0.2">A1XO</text><line x1="487.92" y1="292.60" x2="487.92" y2="302.5" stroke="#222" stroke-width="1"/><text transform="translate(490.81,312.2) rotate(-90)" font-family='"Liberation Sans", sans-serif' font-size="8" text-anchor="end" fill="#222" stroke="#222" stroke-width="0.2">A1XO</text><line x1="475.2" y1="10.33" x2="485.0" y2="10.33" stroke="#222" stroke-width="1"/><text x="466.1" y="13.23" font-family='"Liberation Sans", sans-serif' font-size="8" text-anchor="end" fill="#222" stroke="#222" stroke-width="0.2">A0U0</text><line x1="493.75" y1="292.60" x2="493.75" y2="302.5" stroke="#222" stroke-width="1"/><text transform="translate(496.64,312.2) rotate(-90)" font-family='"Liberation Sans", sans-serif' font-size="8" text-anchor="end" fill="#222" stroke="#222" stroke-width="0.2">A0U0</text><line x1="475.2" y1="16.15" x2="485.0" y2="16.15" stroke="#222" stroke-width="1"/><text x="466.1" y="19.05" font-family='"Liberation Sans", sans-serif' font-size="8" text-anchor="end" fill="#222" stroke="#222" stroke-width="0.2">A1J5</text><line x1="499.57" y1="292.60" x2="499.57" y2="302.5" stroke="#222" stroke-width="1"/><text transform="translate(502.47,312.2) rotate(-90)" font-family='"Liberation Sans", sans-serif' font-size="8" text-anchor="end" fill="#222" stroke="#222" stroke-width="0.2">A1J5</text><line x1="475.2" y1="21.97" x2="485.0" y2="21.97" stroke="#222" stroke-width="1"/><text x="466.1" y="24.87" font-family='"Liberation Sans", sans-serif' font-size="8" text-anchor="end" fill="#222" stroke="#222" stroke-width="0.2">A25A</text><line x1="505.40" y1="292.60" x2="505.40" y2="302.5" stroke="#222" stroke-width="1"/><text transform="translate(508.30,312.2) rotate(-90)" font-family='"Liberation Sans", sans-serif' font-size="8" text-anchor="end" fill="#222" stroke="#222" stroke-width="0.2">A25A</text><line x1="475.2" y1="27.79" x2="485.0" y2="27.79" stroke="#222" stroke-width="1"/><text x="466.1" y="30.69" font-family='"Liberation Sans", sans-serif' font-size="8" text-anchor="end" fill="#222" stroke="#222" stroke-width="0.2">A08H</text><line x1="511.24" y1="292.60" x2="511.24" y2="302.5" stroke="#222" stroke-width="1"/><text transform="translate(514.13,312.2) rotate(-90)" font-family='"Liberation Sans", sans-serif' font-size="8" text-anchor="end" fill="#222" stroke="#222" stroke-width="0.2">A08H</text><line x1="475.2" y1="33.61" x2="485.0" y2="33.61" stroke="#222" stroke-width="1"/><text x="466.1" y="36.51" font-family='"Liberation Sans", sans-serif' font-size="8" text-anchor="end" fill="#222" stroke="#222" stroke-width="0.2">A1NC</text><line x1="517.07" y1="292.60" x2="517.07" y2="302.5" stroke="#222" stroke-width="1"/><text transform="translate(519.97,312.2) rotate(-90)" font-family='"Liberation Sans", sans-serif' font-size="8" text-anchor="end" fill="#222" stroke="#222" stroke-width="0.2">A1NC</text><line x1="475.2" y1="39.43" x2="485.0" y2="39.43" stroke="#222" stroke-width="1"/><text x="466.1" y="42.33" font-family='"Liberation Sans", sans-serif' font-size="8" text-anchor="end" fill="#222" stroke="#222" stroke-width="0.2">A1JN</text><line x1="522.89" y1="292.60" x2="522.89" y2="302.5" stroke="#222" stroke-width="1"/><text transform="translate(525.79,312.2) rotate(-90)" font-family='"Liberation Sans", sans-serif' font-size="8" text-anchor="end" fill="#222" stroke="#222" stroke-width="0.2">A1JN</text><line x1="475.2" y1="45.25" x2="485.0" y2="45.25" stroke="#222" stroke-width="1"/><text x="466.1" y="48.15" font-family='"Liberation Sans", sans-serif' font-size="8" text-anchor="end" fill="#222" stroke="#222" stroke-width="0.2">A0CL</text><line x1="528.73" y1="292.60" x2="528.73" y2="302.5" stroke="#222" stroke-width="1"/><text transform="translate(531.62,312.2) rotate(-90)" font-family='"Liberation Sans", sans-serif' font-size="8" text-anchor="end" fill="#222" stroke="#222" stroke-width="0.2">A0CL</text><line x1="475.2" y1="51.07" x2="485.0" y2="51.07" stroke="#222" stroke-width="1"/><text x="466.1" y="53.97" font-family='"Liberation Sans", sans-serif' font-size="8" text-anchor="end" fill="#222" stroke="#222" stroke-width="0.2">A6OQ</text><line x1="534.55" y1="292.60" x2="534.55" y2="302.5" stroke="#222" stroke-width="1"/><text transform="translate(537.45,312.2) rotate(-90)" font-family='"Liberation Sans", sans-serif' font-size="8" text-anchor="end" fill="#222" stroke="#222" stroke-width="0.2">A6OQ</text><line x1="475.2" y1="56.89" x2="485.0" y2="56.89" stroke="#222" stroke-width="1"/><text x="466.1" y="59.79" font-family='"Liberation Sans", sans-serif' font-size="8" text-anchor="end" fill="#222" stroke="#222" stroke-width="0.2">A0H5</text><line x1="540.38" y1="292.60" x2="540.38" y2="302.5" stroke="#222" stroke-width="1"/><text transform="translate(543.28,312.2) rotate(-90)" font-family='"Liberation Sans", sans-serif' font-size="8" text-anchor="end" fill="#222" stroke="#222" stroke-width="0.2">A0H5</text><line x1="475.2" y1="62.71" x2="485.0" y2="62.71" stroke="#222" stroke-width="1"/><text x="466.1" y="65.61" font-family='"Liberation Sans", sans-serif' font-size="8" text-anchor="end" fill="#222" stroke="#222" stroke-width="0.2">A1FU</text><line x1="546.22" y1="292.60" x2="546.22" y2="302.5" stroke="#222" stroke-width="1"/><text transform="translate(549.12,312.2) rotate(-90)" font-family='"Liberation Sans", sans-serif' font-size="8" text-anchor="end" fill="#222" stroke="#222" stroke-width="0.2">A1FU</text><line x1="475.2" y1="68.53" x2="485.0" y2="68.53" stroke="#222" stroke-width="1"/><text x="466.1" y="71.43" font-family='"Liberation Sans", sans-serif' font-size="8" text-anchor="end" fill="#222" stroke="#222" stroke-width="0.2">A0B1</text><line x1="552.04" y1="292.60" x2="552.04" y2="302.5" stroke="#222" stroke-width="1"/><text transform="translate(554.94,312.2) rotate(-90)" font-family='"Liberation Sans", sans-serif' font-size="8" text-anchor="end" fill="#222" stroke="#222" stroke-width="0.2">A0B1</text><line x1="475.2" y1="74.35" x2="485.0" y2="74.35" stroke="#222" stroke-width="1"/><text x="466.1" y="77.25" font-family='"Liberation Sans", sans-serif' font-size="8" text-anchor="end" fill="#222" stroke="#222" stroke-width="0.2">A0YJ</text><line x1="557.88" y1="292.60" x2="557.88" y2="302.5" stroke="#222" stroke-width="1"/><text transform="translate(560.77,312.2) rotate(-90)" font-family='"Liberation Sans", sans-serif' font-size="8" text-anchor="end" fill="#222" stroke="#222" stroke-width="0.2">A0YJ</text><line x1="475.2" y1="80.17" x2="485.0" y2="80.17" stroke="#222" stroke-width="1"/><text x="466.1" y="83.07" font-family='"Liberation Sans", sans-serif' font-size="8" text-anchor="end" fill="#222" stroke="#222" stroke-width="0.2">A1F0</text><line x1="563.71" y1="292.60" x2="563.71" y2="302.5" stroke="#222" stroke-width="1"/><text transform="translate(566.61,312.2) rotate(-90)" font-family='"Liberation Sans", sans-serif' font-size="8" text-anchor="end" fill="#222" stroke="#222" stroke-width="0.2">A1F0</text><line x1="475.2" y1="85.99" x2="485.0" y2="85.99" stroke="#222" stroke-width="1"/><text x="466.1" y="88.89" font-family='"Liberation Sans", sans-serif' font-size="8" text-anchor="end" fill="#222" stroke="#222" stroke-width="0.2">AA15</text><line x1="569.53" y1="292.60" x2="569.53" y2="302.5" stroke="#222" stroke-width="1"/><text transform="translate(572.43,312.2) rotate(-90)" font-family='"Liberation Sans", sans-serif' font-size="8" text-anchor="end" fill="#222" stroke="#222" stroke-width="0.2">AA15</text><line x1="475.2" y1="91.81" x2="485.0" y2="91.81" stroke="#222" stroke-width="1"/><text x="466.1" y="94.71" font-family='"Liberation Sans", sans-serif' font-size="8" text-anchor="end" fill="#222" stroke="#222" stroke-width="0.2">A4Z1</text><line x1="575.37" y1="292.60" x2="575.37" y2="302.5" stroke="#222" stroke-width="1"/><text transform="translate(578.26,312.2) rotate(-90)" font-family='"Liberation Sans", sans-serif' font-size="8" text-anchor="end" fill="#222" stroke="#222" stroke-width="0.2">A4Z1</text><line x1="475.2" y1="97.63" x2="485.0" y2="97.63" stroke="#222" stroke-width="1"/><text x="466.1" y="100.53" font-family='"Liberation Sans", sans-serif' font-size="8" text-anchor="end" fill="#222" stroke="#222" stroke-width="0.2">A04Q</text><line x1="581.20" y1="292.60" x2="581.20" y2="302.5" stroke="#222" stroke-width="1"/><text transform="translate(584.10,312.2) rotate(-90)" font-family='"Liberation Sans", sans-serif' font-size="8" text-anchor="end" fill="#222" stroke="#222" stroke-width="0.2">A04Q</text><line x1="475.2" y1="103.45" x2="485.0" y2="103.45" stroke="#222" stroke-width="1"/><text x="466.1" y="106.35" font-family='"Liberation Sans", sans-serif' font-size="8" text-anchor="end" fill="#222" stroke="#222" stroke-width="0.2">A73Z</text><line x1="587.02" y1="292.60" x2="587.02" y2="302.5" stroke="#222" stroke-width="1"/><text transform="translate(589.92,312.2) rotate(-90)" font-family='"Liberation Sans", sans-serif' font-size="8" text-anchor="end" fill="#222" stroke="#222" stroke-width="0.2">A73Z</text><line x1="475.2" y1="109.27" x2="485.0" y2="109.27" stroke="#222" stroke-width="1"/><text x="466.1" y="112.17" font-family='"Liberation Sans", sans-serif' font-size="8" text-anchor="end" fill="#222" stroke="#222" stroke-width="0.2">A0B7</text><line x1="592.86" y1="292.60" x2="592.86" y2="302.5" stroke="#222" stroke-width="1"/><text transform="translate(595.75,312.2) rotate(-90)" font-family='"Liberation Sans", sans-serif' font-size="8" text-anchor="end" fill="#222" stroke="#222" stroke-width="0.2">A0B7</text><line x1="475.2" y1="115.09" x2="485.0" y2="115.09" stroke="#222" stroke-width="1"/><text x="466.1" y="117.99" font-family='"Liberation Sans", sans-serif' font-size="8" text-anchor="end" fill="#222" stroke="#222" stroke-width="0.2">A0BN</text><line x1="598.68" y1="292.60" x2="598.68" y2="302.5" stroke="#222" stroke-width="1"/><text transform="translate(601.58,312.2) rotate(-90)" font-family='"Liberation Sans", sans-serif' font-size="8" text-anchor="end" fill="#222" stroke="#222" stroke-width="0.2">A0BN</text><line x1="475.2" y1="120.91" x2="485.0" y2="120.91" stroke="#222" stroke-width="1"/><text x="466.1" y="123.81" font-family='"Liberation Sans", sans-serif' font-size="8" text-anchor="end" fill="#222" stroke="#222" stroke-width="0.2">A8R5</text><line x1="604.51" y1="292.60" x2="604.51" y2="302.5" stroke="#222" stroke-width="1"/><text transform="translate(607.41,312.2) rotate(-90)" font-family='"Liberation Sans", sans-serif' font-size="8" text-anchor="end" fill="#222" stroke="#222" stroke-width="0.2">A8R5</text><line x1="475.2" y1="126.73" x2="485.0" y2="126.73" stroke="#222" stroke-width="1"/><text x="466.1" y="129.63" font-family='"Liberation Sans", sans-serif' font-size="8" text-anchor="end" fill="#222" stroke="#222" stroke-width="0.2">A0XB</text><line x1="610.35" y1="292.60" x2="610.35" y2="302.5" stroke="#222" stroke-width="1"/><text transform="translate(613.25,312.2) rotate(-90)" font-family='"Liberation Sans", sans-serif' font-size="8" text-anchor="end" fill="#222" stroke="#222" stroke-width="0.2">A0XB</text><line x1="475.2" y1="132.55" x2="485.0" y2="132.55" stroke="#222" stroke-width="1"/><text x="466.1" y="135.45" font-family='"Liberation Sans", sans-serif' font-size="8" text-anchor="end" fill="#222" stroke="#222" stroke-width="0.2">A245</text><line x1="616.17" y1="292.60" x2="616.17" y2="302.5" stroke="#222" stroke-width="1"/><text transform="translate(619.07,312.2) rotate(-90)" font-family='"Liberation Sans", sans-serif' font-size="8" text-anchor="end" fill="#222" stroke="#222" stroke-width="0.2">A245</text><line x1="475.2" y1="138.37" x2="485.0" y2="138.37" stroke="#222" stroke-width="1"/><text x="466.1" y="141.27" font-family='"Liberation Sans", sans-serif' font-size="8" text-anchor="end" fill="#222" stroke="#222" stroke-width="0.2">A0RT</text><line x1="622.00" y1="292.60" x2="622.00" y2="302.5" stroke="#222" stroke-width="1"/><text transform="translate(624.90,312.2) rotate(-90)" font-family='"Liberation Sans", sans-serif' font-size="8" text-anchor="end" fill="#222" stroke="#222" stroke-width="0.2">A0RT</text><line x1="475.2" y1="144.19" x2="485.0" y2="144.19" stroke="#222" stroke-width="1"/><text x="466.1" y="147.09" font-family='"Liberation Sans", sans-serif' font-size="8" text-anchor="end" fill="#222" stroke="#222" stroke-width="0.2">A5YO</text><line x1="627.84" y1="292.60" x2="627.84" y2="302.5" stroke="#222" stroke-width="1"/><text transform="translate(630.74,312.2) rotate(-90)" font-family='"Liberation Sans", sans-serif' font-size="8" text-anchor="end" fill="#222" stroke="#222" stroke-width="0.2">A5YO</text><line x1="475.2" y1="150.01" x2="485.0" y2="150.01" stroke="#222" stroke-width="1"/><text x="466.1" y="152.91" font-family='"Liberation Sans", sans-serif' font-size="8" text-anchor="end" fill="#222" stroke="#222" stroke-width="0.2">A0RO</text><line x1="633.66" y1="292.60" x2="633.66" y2="302.5" stroke="#222" stroke-width="1"/><text transform="translate(636.56,312.2) rotate(-90)" font-family='"Liberation Sans", sans-serif' font-size="8" text-anchor="end" fill="#222" stroke="#222" stroke-width="0.2">A0RO</text><line x1="475.2" y1="155.83" x2="485.0" y2="155.83" stroke="#222" stroke-width="1"/><text x="466.1" y="158.73" font-family='"Liberation Sans", sans-serif' font-size="8" text-anchor="end" fill="#222" stroke="#222" stroke-width="0.2">A2LR</text><line x1="639.50" y1="292.60" x2="639.50" y2="302.5" stroke="#222" stroke-width="1"/><text transform="translate(642.39,312.2) rotate(-90)" font-family='"Liberation Sans", sans-serif' font-size="8" text-anchor="end" fill="#222" stroke="#222" stroke-width="0.2">A2LR</text><line x1="475.2" y1="161.65" x2="485.0" y2="161.65" stroke="#222" stroke-width="1"/><text x="466.1" y="164.55" font-family='"Liberation Sans", sans-serif' font-size="8" text-anchor="end" fill="#222" stroke="#222" stroke-width="0.2">A12V</text><line x1="645.33" y1="292.60" x2="645.33" y2="302.5" stroke="#222" stroke-width="1"/><text transform="translate(648.23,312.2) rotate(-90)" font-family='"Liberation Sans", sans-serif' font-size="8" text-anchor="end" fill="#222" stroke="#222" stroke-width="0.2">A12V</text><line x1="475.2" y1="167.47" x2="485.0" y2="167.47" stroke="#222" stroke-width="1"/><text x="466.1" y="170.37" font-family='"Liberation Sans", sans-serif' font-size="8" text-anchor="end" fill="#222" stroke="#222" stroke-width="0.2">A1B6</text><line x1="651.15" y1="292.60" x2="651.15" y2="302.5" stroke="#222" stroke-width="1"/><text transform="translate(654.05,312.2) rotate(-90)" font-family='"Liberation Sans", sans-serif' font-size="8" text-anchor="end" fill="#222" stroke="#222" stroke-width="0.2">A1B6</text><line x1="475.2" y1="173.29" x2="485.0" y2="173.29" stroke="#222" stroke-width="1"/><text x="466.1" y="176.19" font-family='"Liberation Sans", sans-serif' font-size="8" text-anchor="end" fill="#222" stroke="#222" stroke-width="0.2">A9OF</text><line x1="656.99" y1="292.60" x2="656.99" y2="302.5" stroke="#222" stroke-width="1"/><text transform="translate(659.88,312.2) rotate(-90)" font-family='"Liberation Sans", sans-serif' font-size="8" text-anchor="end" fill="#222" stroke="#222" stroke-width="0.2">A9OF</text><line x1="475.2" y1="179.11" x2="485.0" y2="179.11" stroke="#222" stroke-width="1"/><text x="466.1" y="182.01" font-family='"Liberation Sans", sans-serif' font-size="8" text-anchor="end" fill="#222" stroke="#222" stroke-width="0.2">A1LI</text><line x1="662.82" y1="292.60" x2="662.82" y2="302.5" stroke="#222" stroke-width="1"/><text transform="translate(665.72,312.2) rotate(-90)" font-family='"Liberation Sans", sans-serif' font-size="8" text-anchor="end" fill="#222" stroke="#222" stroke-width="0.2">A1LI</text><line x1="475.2" y1="184.93" x2="485.0" y2="184.93" stroke="#222" stroke-width="1"/><text x="466.1" y="187.83" font-family='"Liberation Sans", sans-serif' font-size="8" text-anchor="end" fill="#222" stroke="#222" stroke-width="0.2">A07Z</text><line x1="668.64" y1="292.60" x2="668.64" y2="302.5" stroke="#222" stroke-width="1"/><text transform="translate(671.54,312.2) rotate(-90)" font-family='"Liberation Sans", sans-serif' font-size="8" text-anchor="end" fill="#222" stroke="#222" stroke-width="0.2">A07Z</text><line x1="475.2" y1="190.75" x2="485.0" y2="190.75" stroke="#222" stroke-width="1"/><text x="466.1" y="193.65" font-family='"Liberation Sans", sans-serif' font-size="8" text-anchor="end" fill="#222" stroke="#222" stroke-width="0.2">A0YC</text><line x1="674.48" y1="292.60" x2="674.48" y2="302.5" stroke="#222" stroke-width="1"/><text transform="translate(677.38,312.2) rotate(-90)" font-family='"Liberation Sans", sans-serif' font-size="8" text-anchor="end" fill="#222" stroke="#222" stroke-width="0.2">A0YC</text><line x1="475.2" y1="196.57" x2="485.0" y2="196.57" stroke="#222" stroke-width="1"/><text x="466.1" y="199.47" font-family='"Liberation Sans", sans-serif' font-size="8" text-anchor="end" fill="#222" stroke="#222" stroke-width="0.2">A0DO</text><line x1="680.31" y1="292.60" x2="680.31" y2="302.5" stroke="#222" stroke-width="1"/><text transform="translate(683.21,312.2) rotate(-90)" font-family='"Liberation Sans", sans-serif' font-size="8" text-anchor="end" fill="#222" stroke="#222" stroke-width="0.2">A0DO</text><line x1="475.2" y1="202.39" x2="485.0" y2="202.39" stroke="#222" stroke-width="1"/><text x="466.1" y="205.29" font-family='"Liberation Sans", sans-serif' font-size="8" text-anchor="end" fill="#222" stroke="#222" stroke-width="0.2">A15J</text><line x1="686.13" y1="292.60" x2="686.13" y2="302.5" stroke="#222" stroke-width="1"/><text transform="translate(689.03,312.2) rotate(-90)" font-family='"Liberation Sans", sans-serif' font-size="8" text-anchor="end" fill="#222" stroke="#222" stroke-width="0.2">A15J</text><line x1="475.2" y1="208.21" x2="485.0" y2="208.21" stroke="#222" stroke-width="1"/><text x="466.1" y="211.11" font-family='"Liberation Sans", sans-serif' font-size="8" text-anchor="end" fill="#222" stroke="#222" stroke-width="0.2">A2EW</text><line x1="691.97" y1="292.60" x2="691.97" y2="302.5" stroke="#222" stroke-width="1"/><text transform="translate(694.87,312.2) rotate(-90)" font-family='"Liberation Sans", sans-serif' font-size="8" text-anchor="end" fill="#222" stroke="#222" stroke-width="0.2">A2EW</text><line x1="475.2" y1="214.03" x2="485.0" y2="214.03" stroke="#222" stroke-width="1"/><text x="466.1" y="216.93" font-family='"Liberation Sans", sans-serif' font-size="8" text-anchor="end" fill="#222" stroke="#222" stroke-width="0.2">A1EW</text><line x1="697.80" y1="292.60" x2="697.80" y2="302.5" stroke="#222" stroke-width="1"/><text transform="translate(700.70,312.2) rotate(-90)" font-family='"Liberation Sans", sans-serif' font-size="8" text-anchor="end" fill="#222" stroke="#222" stroke-width="0.2">A1EW</text><line x1="475.2" y1="219.85" x2="485.0" y2="219.85" stroke="#222" stroke-width="1"/><text x="466.1" y="222.75" font-family='"Liberation Sans", sans-serif' font-size="8" text-anchor="end" fill="#222" stroke="#222" stroke-width="0.2">A0EP</text><line x1="703.62" y1="292.60" x2="703.62" y2="302.5" stroke="#222" stroke-width="1"/><text transform="translate(706.52,312.2) rotate(-90)" font-family='"Liberation Sans", sans-serif' font-size="8" text-anchor="end" fill="#222" stroke="#222" stroke-width="0.2">A0EP</text><line x1="475.2" y1="225.67" x2="485.0" y2="225.67" stroke="#222" stroke-width="1"/><text x="466.1" y="228.57" font-family='"Liberation Sans", sans-serif' font-size="8" text-anchor="end" fill="#222" stroke="#222" stroke-width="0.2">A3XW</text><line x1="709.46" y1="292.60" x2="709.46" y2="302.5" stroke="#222" stroke-width="1"/><text transform="translate(712.36,312.2) rotate(-90)" font-family='"Liberation Sans", sans-serif' font-size="8" text-anchor="end" fill="#222" stroke="#222" stroke-width="0.2">A3XW</text><line x1="475.2" y1="231.49" x2="485.0" y2="231.49" stroke="#222" stroke-width="1"/><text x="466.1" y="234.39" font-family='"Liberation Sans", sans-serif' font-size="8" text-anchor="end" fill="#222" stroke="#222" stroke-width="0.2">A273</text><line x1="715.28" y1="292.60" x2="715.28" y2="302.5" stroke="#222" stroke-width="1"/><text transform="translate(718.18,312.2) rotate(-90)" font-family='"Liberation Sans", sans-serif' font-size="8" text-anchor="end" fill="#222" stroke="#222" stroke-width="0.2">A273</text><line x1="475.2" y1="237.31" x2="485.0" y2="237.31" stroke="#222" stroke-width="1"/><text x="466.1" y="240.21" font-family='"Liberation Sans", sans-serif' font-size="8" text-anchor="end" fill="#222" stroke="#222" stroke-width="0.2">A252</text><line x1="721.12" y1="292.60" x2="721.12" y2="302.5" stroke="#222" stroke-width="1"/><text transform="translate(724.01,312.2) rotate(-90)" font-family='"Liberation Sans", sans-serif' font-size="8" text-anchor="end" fill="#222" stroke="#222" stroke-width="0.2">A252</text><line x1="475.2" y1="243.13" x2="485.0" y2="243.13" stroke="#222" stroke-width="1"/><text x="466.1" y="246.03" font-family='"Liberation Sans", sans-serif' font-size="8" text-anchor="end" fill="#222" stroke="#222" stroke-width="0.2">A2FB</text><line x1="726.94" y1="292.60" x2="726.94" y2="302.5" stroke="#222" stroke-width="1"/><text transform="translate(729.84,312.2) rotate(-90)" font-family='"Liberation Sans", sans-serif' font-size="8" text-anchor="end" fill="#222" stroke="#222" stroke-width="0.2">A2FB</text><line x1="475.2" y1="248.95" x2="485.0" y2="248.95" stroke="#222" stroke-width="1"/><text x="466.1" y="251.85" font-family='"Liberation Sans", sans-serif' font-size="8" text-anchor="end" fill="#222" stroke="#222" stroke-width="0.2">A1G6</text><line x1="732.77" y1="292.60" x2="732.77" y2="302.5" stroke="#222" stroke-width="1"/><text transform="translate(735.67,312.2) rotate(-90)" font-family='"Liberation Sans", sans-serif' font-size="8" text-anchor="end" fill="#222" stroke="#222" stroke-width="0.2">A1G6</text><line x1="475.2" y1="254.77" x2="485.0" y2="254.77" stroke="#222" stroke-width="1"/><text x="466.1" y="257.67" font-family='"Liberation Sans", sans-serif' font-size="8" text-anchor="end" fill="#222" stroke="#222" stroke-width="0.2">A1KO</text><line x1="738.61" y1="292.60" x2="738.61" y2="302.5" stroke="#222" stroke-width="1"/><text transform="translate(741.50,312.2) rotate(-90)" font-family='"Liberation Sans", sans-serif' font-size="8" text-anchor="end" fill="#222" stroke="#222" stroke-width="0.2">A1KO</text><line x1="475.2" y1="260.59" x2="485.0" y2="260.59" stroke="#222" stroke-width="1"/><text x="466.1" y="263.49" font-family='"Liberation Sans", sans-serif' font-size="8" text-anchor="end" fill="#222" stroke="#222" stroke-width="0.2">A0ST</text><line x1="744.43" y1="292.60" x2="744.43" y2="302.5" stroke="#222" stroke-width="1"/><text transform="translate(747.33,312.2) rotate(-90)" font-family='"Liberation Sans", sans-serif' font-size="8" text-anchor="end" fill="#222" stroke="#222" stroke-width="0.2">A0ST</text><line x1="475.2" y1="266.41" x2="485.0" y2="266.41" stroke="#222" stroke-width="1"/><text x="466.1" y="269.31" font-family='"Liberation Sans", sans-serif' font-size="8" text-anchor="end" fill="#222" stroke="#222" stroke-width="0.2">A6R9</text><line x1="750.26" y1="292.60" x2="750.26" y2="302.5" stroke="#222" stroke-width="1"/><text transform="translate(753.16,312.2) rotate(-90)" font-family='"Liberation Sans", sans-serif' font-size="8" text-anchor="end" fill="#222" stroke="#222" stroke-width="0.2">A6R9</text><line x1="475.2" y1="272.23" x2="485.0" y2="272.23" stroke="#222" stroke-width="1"/><text x="466.1" y="275.13" font-family='"Liberation Sans", sans-serif' font-size="8" text-anchor="end" fill="#222" stroke="#222" stroke-width="0.2">A1AX</text><line x1="756.10" y1="292.60" x2="756.10" y2="302.5" stroke="#222" stroke-width="1"/><text transform="translate(759.00,312.2) rotate(-90)" font-family='"Liberation Sans", sans-serif' font-size="8" text-anchor="end" fill="#222" stroke="#222" stroke-width="0.2">A1AX</text><line x1="475.2" y1="278.05" x2="485.0" y2="278.05" stroke="#222" stroke-width="1"/><text x="466.1" y="280.95" font-family='"Liberation Sans", sans-serif' font-size="8" text-anchor="end" fill="#222" stroke="#222" stroke-width="0.2">A42U</text><line x1="761.92" y1="292.60" x2="761.92" y2="302.5" stroke="#222" stroke-width="1"/><text transform="translate(764.82,312.2) rotate(-90)" font-family='"Liberation Sans", sans-serif' font-size="8" text-anchor="end" fill="#222" stroke="#222" stroke-width="0.2">A42U</text><line x1="475.2" y1="283.87" x2="485.0" y2="283.87" stroke="#222" stroke-width="1"/><text x="466.1" y="286.77" font-family='"Liberation Sans", sans-serif' font-size="8" text-anchor="end" fill="#222" stroke="#222" stroke-width="0.2">A0JC</text><line x1="767.75" y1="292.60" x2="767.75" y2="302.5" stroke="#222" stroke-width="1"/><text transform="translate(770.65,312.2) rotate(-90)" font-family='"Liberation Sans", sans-serif' font-size="8" text-anchor="end" fill="#222" stroke="#222" stroke-width="0.2">A0JC</text><line x1="475.2" y1="289.69" x2="485.0" y2="289.69" stroke="#222" stroke-width="1"/><text x="466.1" y="292.59" font-family='"Liberation Sans", sans-serif' font-size="8" text-anchor="end" fill="#222" stroke="#222" stroke-width="0.2">A142</text><line x1="773.59" y1="292.60" x2="773.59" y2="302.5" stroke="#222" stroke-width="1"/><text transform="translate(776.49,312.2) rotate(-90)" font-family='"Liberation Sans", sans-serif' font-size="8" text-anchor="end" fill="#222" stroke="#222" stroke-width="0.2">A142</text><rect x="99.3" y="406.6" width="271.80" height="271.70" fill="none" stroke="#111" stroke-width="1.2"/><line x1="89.3" y1="668.30" x2="99.3" y2="668.30" stroke="#111" stroke-width="1.2"/><line x1="89.3" y1="631.10" x2="99.3" y2="631.10" stroke="#111" stroke-width="1.2"/><line x1="89.3" y1="593.90" x2="99.3" y2="593.90" stroke="#111" stroke-width="1.2"/><line x1="89.3" y1="556.70" x2="99.3" y2="556.70" stroke="#111" stroke-width="1.2"/><line x1="89.3" y1="519.50" x2="99.3" y2="519.50" stroke="#111" stroke-width="1.2"/><line x1="89.3" y1="482.30" x2="99.3" y2="482.30" stroke="#111" stroke-width="1.2"/><line x1="89.3" y1="445.10" x2="99.3" y2="445.10" stroke="#111" stroke-width="1.2"/><line x1="89.3" y1="407.90" x2="99.3" y2="407.90" stroke="#111" stroke-width="1.2"/><text transform="translate(76.7,668.30) rotate(-90)" font-family='"Liberation Sans", sans-serif' font-size="15.3" text-anchor="middle" fill="#111">0.00</text><text transform="translate(76.7,593.90) rotate(-90)" font-family='"Liberation Sans", sans-serif' font-size="15.3" text-anchor="middle" fill="#111">0.02</text><text transform="translate(76.7,519.50) rotate(-90)" font-family='"Liberation Sans", sans-serif' font-size="15.3" text-anchor="middle" fill="#111">0.04</text><text transform="translate(76.7,445.10) rotate(-90)" font-family='"Liberation Sans", sans-serif' font-size="15.3" text-anchor="middle" fill="#111">0.06</text><line x1="108.50" y1="678.3" x2="108.50" y2="688.4" stroke="#111" stroke-width="1.2"/><text x="108.50" y="713" font-family='"Liberation Sans", sans-serif' font-size="15" text-anchor="middle" fill="#111">0.0</text><line x1="177.70" y1="678.3" x2="177.70" y2="688.4" stroke="#111" stroke-width="1.2"/><text x="177.70" y="713" font-family='"Liberation Sans", sans-serif' font-size="15" text-anchor="middle" fill="#111">0.1</text><line x1="246.90" y1="678.3" x2="246.90" y2="688.4" stroke="#111" stroke-width="1.2"/><text x="246.90" y="713" font-family='"Liberation Sans", sans-serif' font-size="15" text-anchor="middle" fill="#111">0.2</text><line x1="316.10" y1="678.3" x2="316.10" y2="688.4" stroke="#111" stroke-width="1.2"/><text x="316.10" y="713" font-family='"Liberation Sans", sans-serif' font-size="15" text-anchor="middle" fill="#111">0.3</text><text transform="translate(39.1,542.5) rotate(-90)" font-family='"Liberation Sans", sans-serif' font-size="15.3" text-anchor="middle" fill="#111">stdev</text><text x="235.2" y="751.3" font-family='"Liberation Sans", sans-serif' font-size="15.8" text-anchor="middle" fill="#111">Gene Mutation Frequency</text><polygon points="108.8,669.2 107,663 110,656 113.5,649.3 118.3,642.2 122.3,639 127,633 130.2,635 134.2,630.3 137.4,625.5 142.1,623.1 146.9,624.7 151.7,619.9 153.2,626.3 148.5,635.8 146.1,638.2 145.3,643.8 142.1,647 138.2,650.1 138.2,655.7 135.8,656.5 125.4,666.8 122.3,667.6 114.3,669.2" fill="#000" stroke="#000" stroke-width="1.2" stroke-linejoin="round"/><circle cx="271.8" cy="539.0" r="2.05" fill="#000"/><circle cx="280.0" cy="538.8" r="2.05" fill="#000"/><circle cx="228.3" cy="570.4" r="2.05" fill="#000"/><circle cx="235.2" cy="570.4" r="2.05" fill="#000"/><circle cx="221.2" cy="575.3" r="2.05" fill="#000"/><circle cx="191.0" cy="578.8" r="2.05" fill="#000"/><circle cx="213.8" cy="582.6" r="2.05" fill="#000"/><circle cx="212.6" cy="584.0" r="2.05" fill="#000"/><circle cx="210.6" cy="586.6" r="2.05" fill="#000"/><circle cx="214.2" cy="585.2" r="2.05" fill="#000"/><circle cx="211.9" cy="585.8" r="2.05" fill="#000"/><circle cx="213.1" cy="587.1" r="2.05" fill="#000"/><circle cx="209.3" cy="588.4" r="2.05" fill="#000"/><circle cx="205.4" cy="588.7" r="2.05" fill="#000"/><circle cx="195.8" cy="591.0" r="2.05" fill="#000"/><circle cx="197.5" cy="590.0" r="2.05" fill="#000"/><circle cx="201.6" cy="592.3" r="2.05" fill="#000"/><circle cx="225.0" cy="594.0" r="2.05" fill="#000"/><circle cx="217.0" cy="599.0" r="2.05" fill="#000"/><circle cx="245.9" cy="597.7" r="2.05" fill="#000"/><circle cx="190.6" cy="599.3" r="2.05" fill="#000"/><circle cx="195.8" cy="607.4" r="2.05" fill="#000"/><circle cx="203.9" cy="605.8" r="2.05" fill="#000"/><circle cx="208.0" cy="604.1" r="2.05" fill="#000"/><circle cx="187.4" cy="612.1" r="2.05" fill="#000"/><circle cx="182.1" cy="615.4" r="2.05" fill="#000"/><circle cx="177.8" cy="618.0" r="2.05" fill="#000"/><circle cx="170.7" cy="598.1" r="2.05" fill="#000"/><circle cx="177.5" cy="597.8" r="2.05" fill="#000"/><circle cx="182.9" cy="601.3" r="2.05" fill="#000"/><circle cx="160.3" cy="601.7" r="2.05" fill="#000"/><circle cx="163.6" cy="604.1" r="2.05" fill="#000"/><circle cx="165.8" cy="607.7" r="2.05" fill="#000"/><circle cx="172.0" cy="610.3" r="2.05" fill="#000"/><circle cx="167.7" cy="612.7" r="2.05" fill="#000"/><circle cx="162.7" cy="615.0" r="2.05" fill="#000"/><circle cx="157.9" cy="616.4" r="2.05" fill="#000"/><circle cx="153.0" cy="608.3" r="2.05" fill="#000"/><circle cx="134.5" cy="603.9" r="2.05" fill="#000"/><circle cx="153.4" cy="608.1" r="2.05" fill="#000"/><circle cx="157.7" cy="616.4" r="2.05" fill="#000"/><circle cx="152.4" cy="619.0" r="2.05" fill="#000"/><circle cx="147.1" cy="624.3" r="2.05" fill="#000"/><circle cx="151.5" cy="618.2" r="2.05" fill="#000"/><circle cx="153.1" cy="620.6" r="2.05" fill="#000"/><circle cx="159.1" cy="622.0" r="2.05" fill="#000"/><circle cx="164.8" cy="625.9" r="2.05" fill="#000"/><circle cx="169.8" cy="627.8" r="2.05" fill="#000"/><circle cx="152.7" cy="625.8" r="2.05" fill="#000"/><circle cx="148.0" cy="625.0" r="2.05" fill="#000"/><circle cx="153.1" cy="635.7" r="2.05" fill="#000"/><circle cx="161.5" cy="635.7" r="2.05" fill="#000"/><circle cx="151.9" cy="638.5" r="2.05" fill="#000"/><circle cx="156.5" cy="644.1" r="2.05" fill="#000"/><circle cx="152.8" cy="635.6" r="2.05" fill="#000"/><circle cx="151.5" cy="638.3" r="2.05" fill="#000"/><circle cx="146.6" cy="638.6" r="2.05" fill="#000"/><circle cx="143.2" cy="643.2" r="2.05" fill="#000"/><circle cx="140.0" cy="647.2" r="2.05" fill="#000"/><circle cx="137.3" cy="655.2" r="2.05" fill="#000"/><circle cx="136.6" cy="652.5" r="2.05" fill="#000"/><circle cx="158.4" cy="616" r="2.05" fill="#000"/><circle cx="151.7" cy="618.7" r="2.05" fill="#000"/><circle cx="152.5" cy="622.7" r="2.05" fill="#000"/><circle cx="154" cy="626.7" r="2.05" fill="#000"/><circle cx="158.8" cy="621.9" r="2.05" fill="#000"/><circle cx="147.7" cy="625.1" r="2.05" fill="#000"/><circle cx="143.7" cy="625.9" r="2.05" fill="#000"/><circle cx="128.2" cy="631.5" r="2.05" fill="#000"/><circle cx="128.6" cy="634.6" r="2.05" fill="#000"/><circle cx="123.8" cy="639.4" r="2.05" fill="#000"/><circle cx="120.7" cy="641.8" r="2.05" fill="#000"/><circle cx="117.5" cy="645.8" r="2.05" fill="#000"/><circle cx="114.3" cy="650.5" r="2.05" fill="#000"/><circle cx="111.9" cy="655.3" r="2.05" fill="#000"/><circle cx="142.9" cy="640.2" r="2.05" fill="#000"/><circle cx="144.5" cy="643.4" r="2.05" fill="#000"/><circle cx="147.7" cy="637.8" r="2.05" fill="#000"/><circle cx="151.7" cy="636.2" r="2.05" fill="#000"/><circle cx="141.3" cy="646.6" r="2.05" fill="#000"/><circle cx="137.4" cy="654.5" r="2.05" fill="#000"/><circle cx="138.2" cy="656.9" r="2.05" fill="#000"/><circle cx="156.4" cy="643.4" r="2.05" fill="#000"/><circle cx="126.2" cy="665.6" r="2.05" fill="#000"/><circle cx="123" cy="666.4" r="2.05" fill="#000"/><circle cx="115.9" cy="668.8" r="2.05" fill="#000"/><circle cx="208.2" cy="416.5" r="3.4" fill="#E5291B"/><circle cx="211.3" cy="487.4" r="3.4" fill="#E5291B"/><circle cx="361.2" cy="499.3" r="3.4" fill="#E5291B"/><circle cx="346.3" cy="581.7" r="3.4" fill="#E5291B"/><circle cx="172.0" cy="558.4" r="3.4" fill="#E5291B"/><circle cx="179.7" cy="578.5" r="3.4" fill="#E5291B"/><circle cx="157.2" cy="604.4" r="3.4" fill="#E5291B"/><circle cx="152.6" cy="613.0" r="3.4" fill="#E5291B"/><circle cx="143.8" cy="609.1" r="3.4" fill="#E5291B"/><circle cx="134.5" cy="617.4" r="3.4" fill="#E5291B"/><circle cx="140.5" cy="618.7" r="3.4" fill="#E5291B"/><circle cx="143.7" cy="610.8" r="3.4" fill="#E5291B"/><circle cx="152.9" cy="613.2" r="3.4" fill="#E5291B"/><circle cx="140.1" cy="627.5" r="3.4" fill="#E5291B"/><circle cx="148.5" cy="630.3" r="3.4" fill="#E5291B"/><circle cx="138.2" cy="633.8" r="3.4" fill="#E5291B"/><circle cx="139.0" cy="637.0" r="3.4" fill="#E5291B"/><circle cx="130.6" cy="641.8" r="3.4" fill="#E5291B"/><circle cx="132.6" cy="646.6" r="3.4" fill="#E5291B"/><circle cx="126.2" cy="648.2" r="3.4" fill="#E5291B"/><circle cx="131.8" cy="652.9" r="3.4" fill="#E5291B"/><circle cx="120.7" cy="651.3" r="3.4" fill="#E5291B"/><circle cx="117.5" cy="655.3" r="3.4" fill="#E5291B"/><circle cx="123.8" cy="656.9" r="3.4" fill="#E5291B"/><circle cx="130.2" cy="659.3" r="3.4" fill="#E5291B"/><circle cx="131.8" cy="662.5" r="3.4" fill="#E5291B"/><circle cx="112.7" cy="660.9" r="3.4" fill="#E5291B"/><circle cx="109.5" cy="664.8" r="3.4" fill="#E5291B"/><circle cx="115.9" cy="665.6" r="3.4" fill="#E5291B"/><circle cx="123.8" cy="662.5" r="3.4" fill="#E5291B"/><circle cx="119.1" cy="659.3" r="3.4" fill="#E5291B"/><circle cx="141.2" cy="618.6" r="3.4" fill="#E5291B"/><circle cx="141.6" cy="626.6" r="3.4" fill="#E5291B"/><circle cx="148.7" cy="630.5" r="3.4" fill="#E5291B"/><circle cx="140.8" cy="632.9" r="3.4" fill="#E5291B"/><circle cx="139.3" cy="634" r="3.4" fill="#E5291B"/><circle cx="148.5" cy="631.3" r="3.4" fill="#E5291B"/><circle cx="132.6" cy="643.2" r="3.4" fill="#E5291B"/><circle cx="132.6" cy="649.9" r="3.4" fill="#E5291B"/><circle cx="132" cy="661.8" r="3.4" fill="#E5291B"/><polygon points="107.2,663.6 108.8,659.7 111.9,654.1 115.1,649.3 118.3,647 122.3,646.2 125.4,645.4 126.6,642.2 127.8,639.4 131,638.2 134.2,639.4 136.2,642.2 136.6,646.2 135.4,650.1 134.2,654.1 134.2,658.1 133.4,662.8 131,664.4 127,662.8 123,661.2 119.9,662.8 115.9,666 111.9,667.6 108.8,666.8" fill="#E5291B" stroke="#E5291B" stroke-width="1.2" stroke-linejoin="round"/><polygon points="135.8,627.9 138.9,624.7 142.9,625.5 143.7,629.5 142.9,634.2 141.3,638.2 138.2,639 135.8,636.6 135.4,631.9" fill="#E5291B" stroke="#E5291B" stroke-width="1.2" stroke-linejoin="round"/><text x="208.05" y="433.4" font-family='"Liberation Serif", serif' font-weight="bold" font-size="13.6" text-anchor="middle" fill="#000">GATA3</text><text x="207.8" y="504.4" font-family='"Liberation Serif", serif' font-weight="bold" font-size="13.6" text-anchor="middle" fill="#000">CDH1</text><text x="350.3" y="515.7" font-family='"Liberation Serif", serif' font-weight="bold" font-size="13.6" text-anchor="middle" fill="#000">TP53</text><text x="213.8" y="645.7" font-family='"Liberation Serif", serif' font-weight="bold" font-size="13.6" text-anchor="middle" fill="#000">PCDHGB1</text><line x1="212.1" y1="631" x2="212.1" y2="598" stroke="#000" stroke-width="2.2"/><polygon points="212.1,591.4 208.1,600.4 216.1,600.4" fill="#000"/><line x1="504.2" y1="676.10" x2="504.2" y2="438.59" stroke="#111" stroke-width="1.2"/><line x1="494.3" y1="676.10" x2="504.2" y2="676.10" stroke="#111" stroke-width="1.2"/><line x1="494.3" y1="636.51" x2="504.2" y2="636.51" stroke="#111" stroke-width="1.2"/><line x1="494.3" y1="596.93" x2="504.2" y2="596.93" stroke="#111" stroke-width="1.2"/><line x1="494.3" y1="557.35" x2="504.2" y2="557.35" stroke="#111" stroke-width="1.2"/><line x1="494.3" y1="517.76" x2="504.2" y2="517.76" stroke="#111" stroke-width="1.2"/><line x1="494.3" y1="478.18" x2="504.2" y2="478.18" stroke="#111" stroke-width="1.2"/><line x1="494.3" y1="438.59" x2="504.2" y2="438.59" stroke="#111" stroke-width="1.2"/><text transform="translate(482.2,676.10) rotate(-90)" font-family='"Liberation Sans", sans-serif' font-size="15.3" text-anchor="middle" fill="#111">0</text><text transform="translate(482.2,636.51) rotate(-90)" font-family='"Liberation Sans", sans-serif' font-size="15.3" text-anchor="middle" fill="#111">50</text><text transform="translate(482.2,596.93) rotate(-90)" font-family='"Liberation Sans", sans-serif' font-size="15.3" text-anchor="middle" fill="#111">100</text><text transform="translate(482.2,517.76) rotate(-90)" font-family='"Liberation Sans", sans-serif' font-size="15.3" text-anchor="middle" fill="#111">200</text><text transform="translate(482.2,438.59) rotate(-90)" font-family='"Liberation Sans", sans-serif' font-size="15.3" text-anchor="middle" fill="#111">300</text><text transform="translate(444.2,542.4) rotate(-90)" font-family='"Liberation Sans", sans-serif' font-size="15.8" text-anchor="middle" fill="#111"># Subject</text><rect x="514.10" y="576.35" width="13.25" height="99.75" fill="#4D4D4D" stroke="#111" stroke-width="1.1"/><rect x="527.35" y="568.90" width="13.25" height="107.20" fill="#969696" stroke="#111" stroke-width="1.1"/><rect x="540.60" y="663.67" width="13.25" height="12.43" fill="#C2C2C2" stroke="#111" stroke-width="1.1"/><rect x="553.85" y="662.64" width="13.25" height="13.46" fill="#E6E6E6" stroke="#111" stroke-width="1.1"/><text x="540.60" y="713" font-family='"Liberation Sans", sans-serif' font-size="12.5" text-anchor="middle" fill="#111">GATA3</text><rect x="580.35" y="574.29" width="13.25" height="101.81" fill="#4D4D4D" stroke="#111" stroke-width="1.1"/><rect x="593.60" y="566.85" width="13.25" height="109.25" fill="#969696" stroke="#111" stroke-width="1.1"/><rect x="606.85" y="632.56" width="13.25" height="43.54" fill="#C2C2C2" stroke="#111" stroke-width="1.1"/><rect x="620.10" y="638.10" width="13.25" height="38.00" fill="#E6E6E6" stroke="#111" stroke-width="1.1"/><text x="606.85" y="713" font-family='"Liberation Sans", sans-serif' font-size="12.5" text-anchor="middle" fill="#111">CDH1</text><rect x="646.60" y="407.24" width="13.25" height="268.86" fill="#4D4D4D" stroke="#111" stroke-width="1.1"/><rect x="659.85" y="406.37" width="13.25" height="269.73" fill="#969696" stroke="#111" stroke-width="1.1"/><rect x="673.10" y="469.78" width="13.25" height="206.32" fill="#C2C2C2" stroke="#111" stroke-width="1.1"/><rect x="686.35" y="464.87" width="13.25" height="211.23" fill="#E6E6E6" stroke="#111" stroke-width="1.1"/><text x="673.10" y="713" font-family='"Liberation Sans", sans-serif' font-size="12.5" text-anchor="middle" fill="#111">TP53</text><rect x="712.85" y="582.68" width="13.25" height="93.42" fill="#4D4D4D" stroke="#111" stroke-width="1.1"/><rect x="726.10" y="561.78" width="13.25" height="114.32" fill="#969696" stroke="#111" stroke-width="1.1"/><rect x="739.35" y="588.54" width="13.25" height="87.56" fill="#C2C2C2" stroke="#111" stroke-width="1.1"/><rect x="752.60" y="603.26" width="13.25" height="72.84" fill="#E6E6E6" stroke="#111" stroke-width="1.1"/><text x="739.35" y="713" font-family='"Liberation Sans", sans-serif' font-size="12.5" text-anchor="middle" fill="#111">PCDHGB1</text><rect x="697.2" y="415.10" width="7.9" height="5.9" fill="#4D4D4D" stroke="#111" stroke-width="0.9"/><text x="713.3" y="421.40" font-family='"Liberation Sans", sans-serif' font-size="9.4" fill="#222">varscan2</text><rect x="697.2" y="426.70" width="7.9" height="5.9" fill="#969696" stroke="#111" stroke-width="0.9"/><text x="713.3" y="433.00" font-family='"Liberation Sans", sans-serif' font-size="9.4" fill="#222">mutect2</text><rect x="697.2" y="438.30" width="7.9" height="5.9" fill="#C2C2C2" stroke="#111" stroke-width="0.9"/><text x="713.3" y="444.60" font-family='"Liberation Sans", sans-serif' font-size="9.4" fill="#222">muse</text><rect x="697.2" y="449.90" width="7.9" height="5.9" fill="#E6E6E6" stroke="#111" stroke-width="0.9"/><text x="713.3" y="456.20" font-family='"Liberation Sans", sans-serif' font-size="9.4" fill="#222">somaticsniper</text><text x="2.3" y="15.4" font-family='"Liberation Sans", sans-serif' font-weight="bold" font-size="19.5" fill="#000">A</text><text x="414.5" y="15.4" font-family='"Liberation Sans", sans-serif' font-weight="bold" font-size="19.5" fill="#000">B</text><text x="2.3" y="416.5" font-family='"Liberation Sans", sans-serif' font-weight="bold" font-size="19.5" fill="#000">C</text><text x="413.8" y="416.5" font-family='"Liberation Sans", sans-serif' font-weight="bold" font-size="19.5" fill="#000">D</text></svg></body></html>
